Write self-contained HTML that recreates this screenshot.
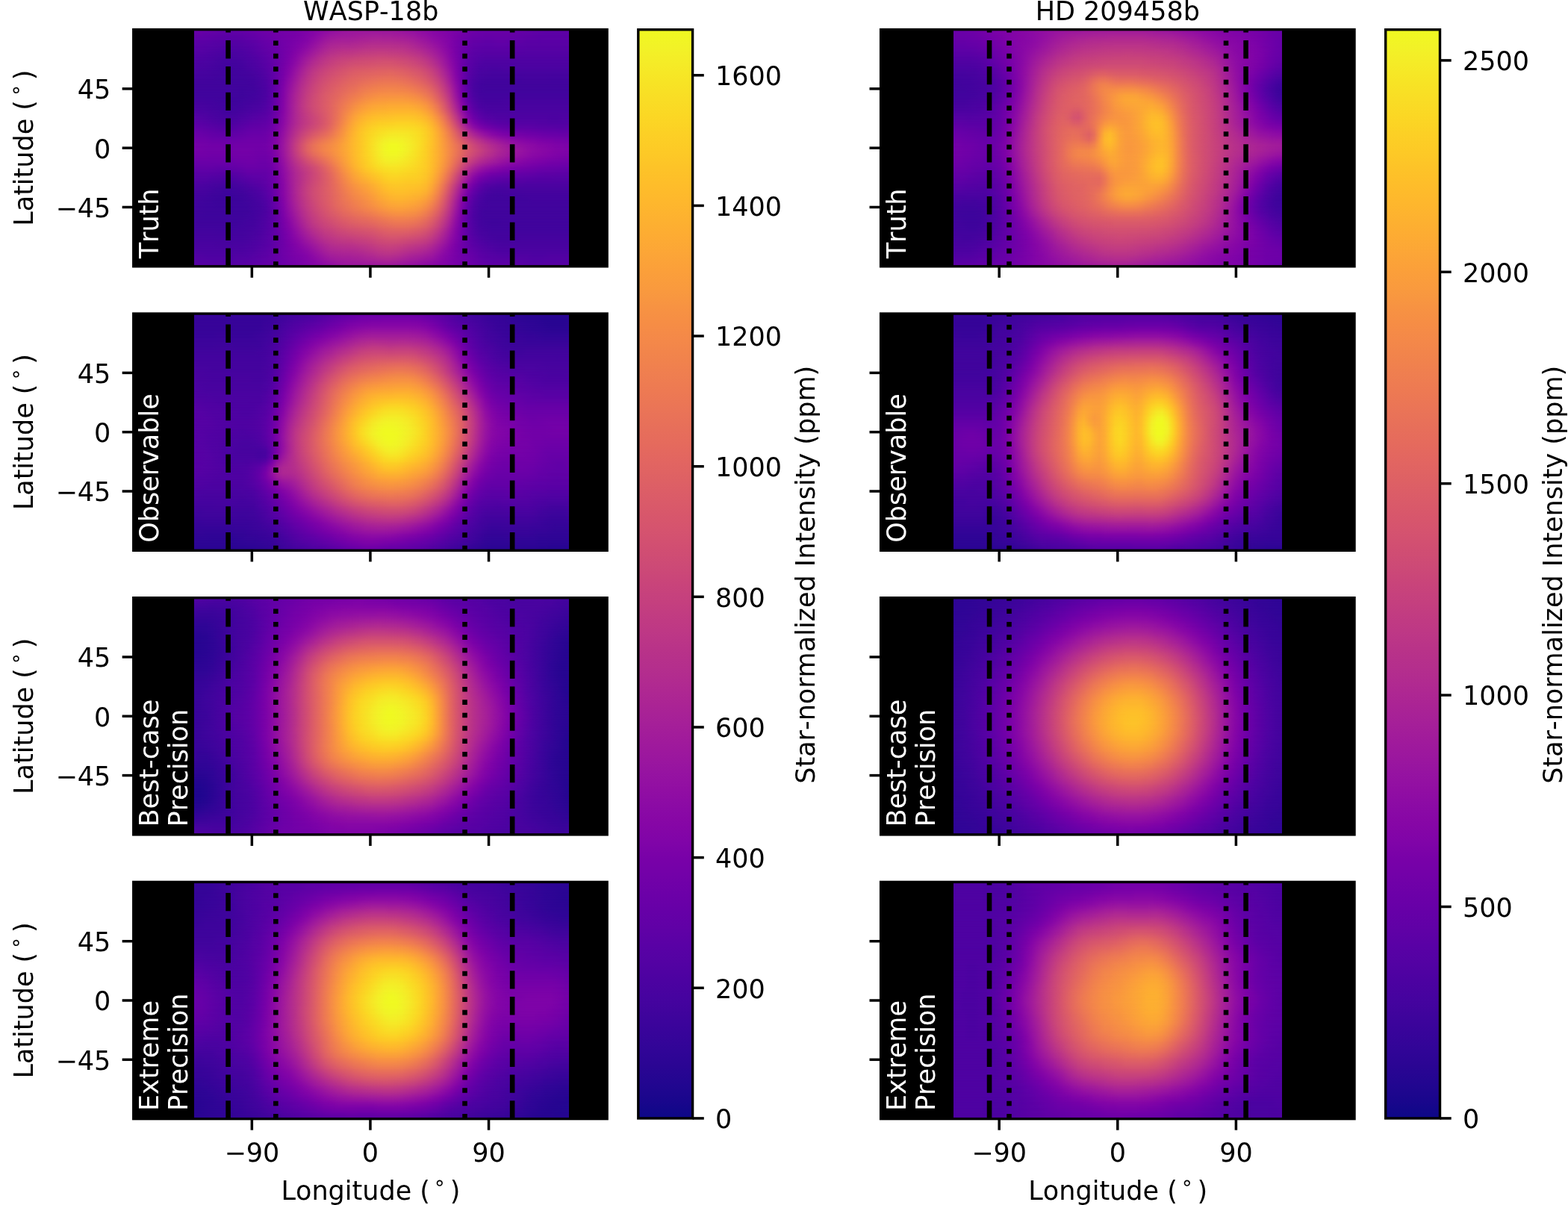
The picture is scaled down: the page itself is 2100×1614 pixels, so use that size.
<!DOCTYPE html><html><head><meta charset="utf-8"><title>Figure</title><style>html,body{margin:0;padding:0;background:#fff}#fig{position:relative;width:2100px;height:1614px;overflow:hidden;background:#fff}.ax{position:absolute;background:#000}.cb{position:absolute}.hm{position:absolute;overflow:hidden}.hm i{position:absolute;left:0;width:100%;height:14.753px}.hm i.s{-webkit-mask-image:linear-gradient(180deg,transparent,#000 50%);mask-image:linear-gradient(180deg,transparent,#000 50%)}svg{position:absolute;left:0;top:0}text{font-family:'DejaVu Sans', 'Liberation Sans', sans-serif;font-size:35px;font-kerning:none}</style></head><body><div id="fig"><div class="ax" style="left:178.75px;top:39.60px;width:634.39px;height:317.20px"></div><div class="ax" style="left:178.75px;top:420.10px;width:634.39px;height:317.20px"></div><div class="ax" style="left:178.75px;top:800.70px;width:634.39px;height:317.20px"></div><div class="ax" style="left:178.75px;top:1181.40px;width:634.39px;height:317.20px"></div><div class="ax" style="left:1179.60px;top:39.60px;width:634.39px;height:317.20px"></div><div class="ax" style="left:1179.60px;top:420.10px;width:634.39px;height:317.20px"></div><div class="ax" style="left:1179.60px;top:800.70px;width:634.39px;height:317.20px"></div><div class="ax" style="left:1179.60px;top:1181.40px;width:634.39px;height:317.20px"></div><div class="hm" style="left:259.90px;top:39.60px;width:502.20px;height:317.20px"><i class="s0" style="top:-7.38px;background:linear-gradient(90deg,#6a00a8,#6a00a8,#6900a8,#6600a7,#6400a7,#6300a7,#6100a7,#6300a7,#6400a7,#6700a8,#6a00a8,#6e00a8,#7100a8,#7201a8,#7401a8,#7401a8,#7501a8,#7701a8,#7b02a8,#7e03a8,#8305a7,#8707a6,#8b0aa5,#8f0da4,#9410a2,#9814a0,#9a169f,#9a169f,#9a169f,#9a169f,#9a169f,#9a169f,#9a169f,#9a169f,#99159f,#9613a1,#9410a2,#910ea3,#8e0ca4,#8b0aa5,#8707a6,#8405a7,#8104a7,#7d03a8,#7a02a8,#7701a8,#7201a8,#6f00a8,#6c00a8,#6a00a8,#6a00a8,#6a00a8,#6a00a8,#6a00a8,#6700a8,#6600a7,#6300a7,#6001a6,#6001a6,#5e01a6,#5e01a6,#5e01a6,#5e01a6,#5e01a6)"></i><i class="s" style="top:0.00px;background:linear-gradient(90deg,#6300a7,#6300a7,#6100a7,#6001a6,#5e01a6,#5c01a6,#5c01a6,#5c01a6,#5e01a6,#6100a7,#6400a7,#6700a8,#6a00a8,#6e00a8,#7100a8,#7201a8,#7501a8,#7701a8,#7b02a8,#8004a8,#8606a6,#8d0ba5,#9410a2,#99159f,#9c179e,#9d189d,#9e199d,#a01a9c,#a11b9b,#a21d9a,#a31e9a,#a31e9a,#a21d9a,#a21d9a,#a11b9b,#a01a9c,#9d189d,#9a169f,#9511a1,#910ea3,#8b0aa5,#8707a6,#8305a7,#7e03a8,#7801a8,#7201a8,#6e00a8,#6900a8,#6700a8,#6600a7,#6600a7,#6600a7,#6600a7,#6600a7,#6400a7,#6100a7,#6001a6,#5e01a6,#5c01a6,#5c01a6,#5c01a6,#5c01a6,#5c01a6,#5c01a6)"></i><i class="s" style="top:7.38px;background:linear-gradient(90deg,#5e01a6,#5c01a6,#5c01a6,#5901a5,#5801a4,#5801a4,#5601a4,#5601a4,#5801a4,#5b01a5,#5e01a6,#6300a7,#6700a8,#6a00a8,#6e00a8,#7201a8,#7501a8,#7a02a8,#7e03a8,#8405a7,#8d0ba5,#9511a1,#9d189d,#a21d9a,#a51f99,#a62098,#a62098,#a72197,#aa2395,#ab2494,#ac2694,#ad2793,#ac2694,#ac2694,#ab2494,#aa2395,#a72197,#a31e9a,#9e199d,#99159f,#920fa3,#8d0ba5,#8707a6,#8004a8,#7701a8,#6f00a8,#6900a8,#6400a7,#6300a7,#6100a7,#6100a7,#6300a7,#6300a7,#6100a7,#6001a6,#5e01a6,#5b01a5,#5b01a5,#5901a5,#5b01a5,#5b01a5,#5b01a5,#5b01a5,#5b01a5)"></i><i class="s" style="top:14.75px;background:linear-gradient(90deg,#5901a5,#5801a4,#5601a4,#5502a4,#5302a3,#5102a3,#5102a3,#5102a3,#5302a3,#5601a4,#5901a5,#5e01a6,#6300a7,#6700a8,#6c00a8,#7100a8,#7701a8,#7d03a8,#8405a7,#8b0aa5,#9511a1,#9e199d,#a62098,#ac2694,#ae2892,#b02991,#b02991,#b22b8f,#b32c8e,#b52f8c,#b6308b,#b6308b,#b6308b,#b6308b,#b52f8c,#b42e8d,#b22b8f,#ad2793,#a82296,#a21d9a,#9c179e,#9410a2,#8b0aa5,#8104a7,#7701a8,#6e00a8,#6600a7,#6001a6,#5e01a6,#5c01a6,#5c01a6,#5e01a6,#5e01a6,#5c01a6,#5b01a5,#5901a5,#5801a4,#5801a4,#5801a4,#5801a4,#5801a4,#5801a4,#5801a4,#5801a4)"></i><i class="s" style="top:22.13px;background:linear-gradient(90deg,#5502a4,#5502a4,#5302a3,#5002a2,#4e02a2,#4c02a1,#4b03a1,#4c02a1,#4e02a2,#5102a3,#5601a4,#5b01a5,#6001a6,#6400a7,#6a00a8,#7100a8,#7801a8,#8104a7,#8a09a5,#9410a2,#9e199d,#a72197,#ae2892,#b42e8d,#b7318a,#ba3388,#bb3488,#bc3587,#be3885,#bf3984,#c03a83,#c13b82,#c13b82,#c03a83,#bf3984,#be3885,#bb3488,#b7318a,#b32c8e,#ac2694,#a51f99,#9c179e,#910ea3,#8606a6,#7801a8,#6c00a8,#6300a7,#5c01a6,#5901a5,#5801a4,#5801a4,#5801a4,#5801a4,#5801a4,#5801a4,#5601a4,#5502a4,#5502a4,#5502a4,#5502a4,#5502a4,#5502a4,#5502a4,#5502a4)"></i><i class="s" style="top:29.51px;background:linear-gradient(90deg,#5102a3,#5002a2,#4e02a2,#4c02a1,#4903a0,#48039f,#48039f,#48039f,#4b03a1,#4e02a2,#5102a3,#5601a4,#5c01a6,#6300a7,#6900a8,#7100a8,#7b02a8,#8606a6,#920fa3,#9d189d,#a72197,#b12a90,#b7318a,#bd3786,#c03a83,#c33d80,#c43e7f,#c6417d,#c8437b,#c9447a,#ca457a,#cb4679,#cb4679,#ca457a,#c9447a,#c7427c,#c5407e,#c13b82,#bd3786,#b6308b,#ae2892,#a31e9a,#9814a0,#8808a6,#7a02a8,#6c00a8,#6001a6,#5901a5,#5502a4,#5302a3,#5302a3,#5302a3,#5302a3,#5302a3,#5302a3,#5102a3,#5102a3,#5102a3,#5102a3,#5102a3,#5102a3,#5102a3,#5102a3,#5102a3)"></i><i class="s" style="top:36.88px;background:linear-gradient(90deg,#4e02a2,#4c02a1,#4b03a1,#4903a0,#46039f,#44039e,#44039e,#44039e,#46039f,#4b03a1,#4e02a2,#5302a3,#5901a5,#6001a6,#6900a8,#7201a8,#7e03a8,#8b0aa5,#99159f,#a62098,#b12a90,#b83289,#bf3984,#c43e7f,#c8437b,#cb4679,#cd4a76,#cf4c74,#d04d73,#d14e72,#d24f71,#d35171,#d45270,#d45270,#d24f71,#d04d73,#cd4a76,#cb4679,#c6417d,#c03a83,#b7318a,#ac2694,#9e199d,#8e0ca4,#7d03a8,#6c00a8,#5e01a6,#5601a4,#5102a3,#4e02a2,#4e02a2,#4e02a2,#4e02a2,#4e02a2,#4e02a2,#4e02a2,#4e02a2,#4e02a2,#4e02a2,#4e02a2,#4e02a2,#4e02a2,#4e02a2,#4e02a2)"></i><i class="s" style="top:44.26px;background:linear-gradient(90deg,#4b03a1,#4903a0,#48039f,#46039f,#44039e,#43039e,#41049d,#43039e,#44039e,#48039f,#4b03a1,#5002a2,#5601a4,#5e01a6,#6900a8,#7501a8,#8305a7,#920fa3,#a11b9b,#ae2892,#b83289,#c03a83,#c6417d,#cb4679,#ce4b75,#d24f71,#d5536f,#d7566c,#d8576b,#d9586a,#da5a6a,#db5c68,#db5c68,#db5c68,#da5b69,#d9586a,#d6556d,#d35171,#cf4c74,#c9447a,#c13b82,#b52f8c,#a62098,#9410a2,#8004a8,#6c00a8,#5c01a6,#5302a3,#4c02a1,#4b03a1,#4903a0,#4903a0,#4b03a1,#4b03a1,#4b03a1,#4b03a1,#4b03a1,#4b03a1,#4b03a1,#4b03a1,#4b03a1,#4b03a1,#4b03a1,#4b03a1)"></i><i class="s" style="top:51.64px;background:linear-gradient(90deg,#48039f,#46039f,#46039f,#44039e,#43039e,#41049d,#41049d,#41049d,#43039e,#44039e,#48039f,#4c02a1,#5302a3,#5c01a6,#6900a8,#7701a8,#8707a6,#9814a0,#a72197,#b42e8d,#bf3984,#c6417d,#cc4778,#d04d73,#d45270,#d7566c,#da5b69,#dd5e66,#de6164,#df6263,#e16462,#e26561,#e26660,#e3685f,#e26561,#e06363,#de5f65,#da5b69,#d7566c,#d14e72,#c9447a,#bd3786,#ad2793,#9a169f,#8405a7,#6e00a8,#5b01a5,#5002a2,#4903a0,#48039f,#46039f,#46039f,#46039f,#46039f,#46039f,#46039f,#46039f,#46039f,#46039f,#46039f,#46039f,#46039f,#46039f,#46039f)"></i><i class="s" style="top:59.01px;background:linear-gradient(90deg,#44039e,#44039e,#43039e,#43039e,#41049d,#41049d,#41049d,#41049d,#41049d,#43039e,#44039e,#4903a0,#5002a2,#5b01a5,#6900a8,#7a02a8,#8d0ba5,#9d189d,#ad2793,#ba3388,#c33d80,#cb4679,#d04d73,#d5536f,#d9586a,#dc5d67,#df6263,#e26561,#e3685f,#e56b5d,#e76e5b,#e87059,#e97158,#e97158,#e87059,#e76e5b,#e56a5d,#e26561,#de5f65,#d8576b,#d04d73,#c5407e,#b52f8c,#a11b9b,#8808a6,#6f00a8,#5901a5,#4c02a1,#46039f,#44039e,#43039e,#43039e,#43039e,#43039e,#43039e,#43039e,#44039e,#44039e,#44039e,#44039e,#43039e,#43039e,#43039e,#44039e)"></i><i class="s" style="top:66.39px;background:linear-gradient(90deg,#41049d,#41049d,#41049d,#41049d,#41049d,#41049d,#41049d,#41049d,#41049d,#41049d,#43039e,#48039f,#4e02a2,#5901a5,#6a00a8,#7d03a8,#910ea3,#a21d9a,#b22b8f,#bd3786,#c7427c,#ce4b75,#d45270,#d9586a,#dc5d67,#e06363,#e3685f,#e56b5d,#e87059,#ea7457,#ec7754,#ed7a52,#ee7b51,#ee7b51,#ee7b51,#ed7953,#eb7556,#e87059,#e56a5d,#df6263,#d8576b,#cc4977,#bd3786,#a82296,#8e0ca4,#7201a8,#5901a5,#4903a0,#43039e,#41049d,#41049d,#41049d,#41049d,#41049d,#41049d,#41049d,#41049d,#41049d,#41049d,#41049d,#41049d,#41049d,#41049d,#41049d)"></i><i class="s" style="top:73.77px;background:linear-gradient(90deg,#41049d,#41049d,#41049d,#41049d,#41049d,#41049d,#41049d,#41049d,#3f049c,#41049d,#41049d,#46039f,#4c02a1,#5901a5,#6a00a8,#8004a8,#9511a1,#a62098,#b52f8c,#c13b82,#ca457a,#d14e72,#d7566c,#db5c68,#e06363,#e3685f,#e76e5b,#e97257,#ed7953,#ef7e50,#f1814d,#f2844b,#f3854b,#f3874a,#f3854b,#f2844b,#f1814d,#ef7c51,#eb7655,#e76e5b,#df6263,#d45270,#c43e7f,#b02991,#9410a2,#7501a8,#5b01a5,#4903a0,#43039e,#41049d,#41049d,#41049d,#41049d,#41049d,#41049d,#41049d,#41049d,#41049d,#41049d,#41049d,#41049d,#41049d,#41049d,#41049d)"></i><i class="s" style="top:81.14px;background:linear-gradient(90deg,#41049d,#41049d,#41049d,#41049d,#41049d,#41049d,#41049d,#41049d,#3f049c,#41049d,#43039e,#46039f,#4c02a1,#5901a5,#6c00a8,#8104a7,#9814a0,#aa2395,#b7318a,#c43e7f,#cc4977,#d45270,#da5a6a,#de6164,#e26660,#e76e5b,#eb7556,#ee7b51,#f1814d,#f48849,#f58c46,#f79044,#f79143,#f79143,#f79143,#f79143,#f68f44,#f58b47,#f2844b,#ed7a52,#e76e5b,#db5c68,#cc4778,#b6308b,#99159f,#7a02a8,#5e01a6,#4c02a1,#44039e,#43039e,#43039e,#43039e,#43039e,#43039e,#43039e,#43039e,#43039e,#43039e,#43039e,#43039e,#43039e,#43039e,#43039e,#43039e)"></i><i class="s" style="top:88.52px;background:linear-gradient(90deg,#44039e,#44039e,#43039e,#43039e,#41049d,#41049d,#3f049c,#3f049c,#41049d,#43039e,#44039e,#48039f,#4e02a2,#5b01a5,#6e00a8,#8305a7,#99159f,#ab2494,#ba3388,#c5407e,#ce4b75,#d5536f,#da5b69,#e06363,#e56b5d,#ea7457,#ef7c51,#f2844b,#f58c46,#f79342,#f9983e,#fa9b3d,#fa9c3c,#fa9e3b,#fa9e3b,#fa9e3b,#fa9c3c,#f9983e,#f79342,#f48948,#ed7a52,#e26660,#d35171,#bd3786,#a11b9b,#8104a7,#6300a7,#5102a3,#48039f,#44039e,#44039e,#44039e,#46039f,#46039f,#46039f,#46039f,#46039f,#46039f,#46039f,#46039f,#46039f,#46039f,#46039f,#46039f)"></i><i class="s" style="top:95.90px;background:linear-gradient(90deg,#48039f,#48039f,#46039f,#44039e,#43039e,#41049d,#41049d,#41049d,#43039e,#46039f,#4903a0,#4b03a1,#5102a3,#5c01a6,#6f00a8,#8405a7,#9a169f,#ac2694,#bb3488,#c6417d,#ce4b75,#d5536f,#db5c68,#e16462,#e76f5a,#ed7953,#f2844b,#f68f44,#f9983e,#fb9f3a,#fca537,#fca835,#fca934,#fdab33,#fdab33,#fdab33,#fdab33,#fca835,#fba238,#f9983e,#f48849,#ea7457,#da5b69,#c5407e,#aa2395,#8a09a5,#6c00a8,#5801a4,#4c02a1,#4903a0,#48039f,#48039f,#48039f,#4903a0,#4903a0,#4903a0,#4903a0,#4903a0,#4903a0,#4903a0,#4903a0,#4903a0,#4903a0,#4903a0)"></i><i class="s" style="top:103.27px;background:linear-gradient(90deg,#4e02a2,#4c02a1,#4b03a1,#48039f,#46039f,#43039e,#43039e,#44039e,#48039f,#4b03a1,#4e02a2,#5102a3,#5601a4,#6001a6,#7100a8,#8606a6,#9a169f,#ac2694,#ba3388,#c43e7f,#cc4977,#d45270,#da5a6a,#e16462,#e87059,#f07f4f,#f58c46,#f99a3e,#fca338,#fdab33,#fdb130,#fdb42f,#fdb52e,#feb72d,#feb82c,#feb82c,#feb82c,#feb72d,#fdb130,#fca636,#f9973f,#f0804e,#e26660,#ce4b75,#b42e8d,#9511a1,#7701a8,#6100a7,#5502a4,#4e02a2,#4c02a1,#4b03a1,#4b03a1,#4b03a1,#4b03a1,#4b03a1,#4b03a1,#4b03a1,#4b03a1,#4b03a1,#4b03a1,#4b03a1,#4b03a1,#4b03a1)"></i><i class="s" style="top:110.65px;background:linear-gradient(90deg,#5502a4,#5302a3,#5002a2,#4c02a1,#4903a0,#48039f,#48039f,#4903a0,#4e02a2,#5102a3,#5502a4,#5801a4,#5b01a5,#6400a7,#7401a8,#8808a6,#9c179e,#ac2694,#b83289,#c23c81,#ca457a,#d14e72,#d9586a,#e16462,#e97257,#f1834c,#f89441,#fca338,#fdaf31,#feb72d,#febd2a,#fec029,#fdc229,#fdc328,#fdc527,#fdc527,#fdc527,#fdc328,#febe2a,#fdb52e,#fca537,#f68f44,#eb7556,#d8576b,#c03a83,#a21d9a,#8405a7,#6c00a8,#5e01a6,#5601a4,#5302a3,#5002a2,#5002a2,#4e02a2,#4e02a2,#4e02a2,#4e02a2,#4e02a2,#4e02a2,#4e02a2,#4c02a1,#4c02a1,#4e02a2,#4e02a2)"></i><i class="s" style="top:118.03px;background:linear-gradient(90deg,#5b01a5,#5901a5,#5601a4,#5302a3,#5002a2,#4e02a2,#4e02a2,#5002a2,#5502a4,#5901a5,#5c01a6,#5e01a6,#6100a7,#6900a8,#7801a8,#8b0aa5,#9e199d,#ad2793,#ba3388,#c23c81,#ca457a,#d14e72,#d9586a,#e26561,#eb7655,#f48849,#fa9b3d,#fdac33,#feb82c,#fdc229,#fdc827,#fccd25,#fcce25,#fcd025,#fcd225,#fcd225,#fcd225,#fcd025,#fdcb26,#fdc229,#fdb22f,#fa9c3c,#f1814d,#e26561,#cc4778,#b12a90,#9410a2,#7d03a8,#6e00a8,#6400a7,#5e01a6,#5901a5,#5801a4,#5601a4,#5502a4,#5502a4,#5502a4,#5502a4,#5302a3,#5302a3,#5102a3,#5102a3,#5102a3,#5302a3)"></i><i class="s" style="top:125.40px;background:linear-gradient(90deg,#6300a7,#6100a7,#5e01a6,#5b01a5,#5801a4,#5601a4,#5601a4,#5801a4,#5c01a6,#6100a7,#6300a7,#6400a7,#6600a7,#6e00a8,#7d03a8,#8f0da4,#a21d9a,#b22b8f,#bd3786,#c7427c,#ce4b75,#d5546e,#dd5e66,#e56b5d,#ef7c51,#f68f44,#fba238,#fdb22f,#fec029,#fdca26,#fcd225,#fbd724,#fada24,#f9dc24,#f9dd25,#f9dd25,#f9dc24,#fada24,#fbd524,#fdcb26,#febb2b,#fca636,#f58c46,#e97158,#d6556d,#bf3984,#a72197,#920fa3,#8305a7,#7801a8,#7100a8,#6a00a8,#6600a7,#6300a7,#6100a7,#6001a6,#6001a6,#5e01a6,#5c01a6,#5b01a5,#5b01a5,#5901a5,#5901a5,#5b01a5)"></i><i class="s" style="top:132.78px;background:linear-gradient(90deg,#6a00a8,#6900a8,#6600a7,#6300a7,#6100a7,#6001a6,#6001a6,#6100a7,#6400a7,#6700a8,#6900a8,#6900a8,#6c00a8,#7401a8,#8104a7,#9410a2,#a72197,#b7318a,#c5407e,#cf4c74,#d8576b,#de6164,#e56a5d,#eb7655,#f3854b,#f89540,#fca835,#feb72d,#fdc527,#fcd025,#fad824,#f8df25,#f7e425,#f6e826,#f5e926,#f6e826,#f6e626,#f8e125,#fada24,#fcce25,#fec029,#fdab33,#f89441,#ee7b51,#df6263,#cd4a76,#bb3488,#ab2494,#9d189d,#920fa3,#8808a6,#8104a7,#7b02a8,#7701a8,#7401a8,#7201a8,#6f00a8,#6e00a8,#6c00a8,#6900a8,#6700a8,#6700a8,#6600a7,#6600a7)"></i><i class="s" style="top:140.16px;background:linear-gradient(90deg,#7100a8,#6f00a8,#6e00a8,#6a00a8,#6a00a8,#6900a8,#6900a8,#6a00a8,#6c00a8,#6e00a8,#6e00a8,#6e00a8,#6f00a8,#7701a8,#8606a6,#9814a0,#ac2694,#be3885,#cc4977,#d9586a,#e26561,#e87059,#ed7953,#f1834c,#f68f44,#fa9c3c,#fdac33,#feba2c,#fdc627,#fcd225,#f9dd25,#f6e626,#f3ee27,#f2f227,#f2f227,#f3f027,#f5eb27,#f7e425,#f9dc24,#fcd025,#fec029,#fdae32,#f9983e,#f1834c,#e66c5c,#d9586a,#cc4778,#bf3984,#b42e8d,#aa2395,#a11b9b,#99159f,#920fa3,#8d0ba5,#8808a6,#8405a7,#8104a7,#7e03a8,#7b02a8,#7801a8,#7701a8,#7401a8,#7401a8,#7201a8)"></i><i class="s" style="top:147.53px;background:linear-gradient(90deg,#7501a8,#7401a8,#7201a8,#7100a8,#7100a8,#6f00a8,#6f00a8,#7100a8,#7100a8,#7100a8,#7100a8,#7100a8,#7201a8,#7a02a8,#8707a6,#9a169f,#ae2892,#c23c81,#d24f71,#df6263,#e87059,#ee7b51,#f2844b,#f58c46,#f89540,#fba238,#fdae32,#febb2b,#fdc627,#fbd324,#f8df25,#f5eb27,#f1f426,#f0f921,#f0f921,#f1f525,#f3ee27,#f6e626,#f9dc24,#fcce25,#fec029,#fdae32,#f99a3e,#f3874a,#eb7556,#e16462,#d6556d,#cc4778,#c23c81,#ba3388,#b12a90,#aa2395,#a21d9a,#9c179e,#9613a1,#910ea3,#8d0ba5,#8a09a5,#8606a6,#8405a7,#8104a7,#7e03a8,#7d03a8,#7b02a8)"></i><i class="s" style="top:154.91px;background:linear-gradient(90deg,#7501a8,#7401a8,#7201a8,#7201a8,#7201a8,#7201a8,#7201a8,#7201a8,#7401a8,#7401a8,#7201a8,#7100a8,#7201a8,#7801a8,#8707a6,#9a169f,#ae2892,#c23c81,#d24f71,#df6263,#e87059,#ee7b51,#f3854b,#f68d45,#f9973f,#fba238,#fdae32,#febb2b,#fdc627,#fbd324,#f8df25,#f5eb27,#f1f525,#f0f921,#f0f921,#f1f525,#f3ee27,#f7e425,#fada24,#fcce25,#febe2a,#fdae32,#fa9b3d,#f48849,#ec7754,#e26660,#d9586a,#cf4c74,#c7427c,#be3885,#b6308b,#ae2892,#a72197,#a11b9b,#9c179e,#9613a1,#910ea3,#8d0ba5,#8a09a5,#8707a6,#8405a7,#8104a7,#8004a8,#7e03a8)"></i><i class="s" style="top:162.29px;background:linear-gradient(90deg,#7100a8,#7100a8,#7100a8,#6f00a8,#6f00a8,#6f00a8,#7100a8,#7100a8,#7201a8,#7201a8,#7100a8,#6f00a8,#6f00a8,#7501a8,#8405a7,#9814a0,#ac2694,#be3885,#cc4977,#d9586a,#e26660,#e97158,#ef7c51,#f3874a,#f79342,#fb9f3a,#fdac33,#feba2c,#fdc627,#fcd225,#f9dd25,#f5e926,#f2f227,#f1f525,#f1f525,#f3f027,#f5e926,#f7e225,#fad824,#fccd25,#febe2a,#fdae32,#fa9b3d,#f3874a,#ea7457,#df6263,#d45270,#ca457a,#c03a83,#b7318a,#b12a90,#a82296,#a21d9a,#9c179e,#9613a1,#910ea3,#8d0ba5,#8808a6,#8606a6,#8305a7,#8004a8,#7d03a8,#7b02a8,#7a02a8)"></i><i class="s" style="top:169.66px;background:linear-gradient(90deg,#6a00a8,#6a00a8,#6a00a8,#6a00a8,#6a00a8,#6a00a8,#6a00a8,#6c00a8,#6e00a8,#6f00a8,#6f00a8,#6c00a8,#6c00a8,#7201a8,#8004a8,#9410a2,#a72197,#b7318a,#c43e7f,#cf4c74,#d8576b,#e06363,#e76f5a,#ef7c51,#f58b47,#f99a3e,#fca934,#feb72d,#fdc328,#fcce25,#fada24,#f7e425,#f5eb27,#f3ee27,#f4ed27,#f5e926,#f7e425,#f9dd25,#fbd524,#fdcb26,#febd2a,#fdac33,#f9983e,#f1834c,#e66c5c,#d8576b,#ca457a,#bd3786,#b22b8f,#aa2395,#a21d9a,#9c179e,#9511a1,#8f0da4,#8a09a5,#8606a6,#8104a7,#7e03a8,#7b02a8,#7801a8,#7501a8,#7401a8,#7201a8,#7100a8)"></i><i class="s" style="top:177.04px;background:linear-gradient(90deg,#6300a7,#6400a7,#6400a7,#6300a7,#6100a7,#6100a7,#6300a7,#6400a7,#6700a8,#6a00a8,#6a00a8,#6900a8,#6900a8,#6e00a8,#7d03a8,#8f0da4,#a21d9a,#b12a90,#bd3786,#c6417d,#ce4b75,#d7566c,#e06363,#e97158,#f1814d,#f79342,#fba238,#fdb22f,#febe2a,#fdca26,#fbd324,#f9dc24,#f8e125,#f7e425,#f7e425,#f8e125,#f9dd25,#fad824,#fcd225,#fdca26,#febb2b,#fca934,#f79342,#ee7b51,#df6263,#cd4a76,#bb3488,#ab2494,#9e199d,#9511a1,#8e0ca4,#8808a6,#8305a7,#7e03a8,#7a02a8,#7701a8,#7401a8,#7100a8,#6e00a8,#6c00a8,#6a00a8,#6900a8,#6700a8,#6700a8)"></i><i class="s" style="top:184.42px;background:linear-gradient(90deg,#5b01a5,#5c01a6,#5c01a6,#5b01a5,#5901a5,#5801a4,#5801a4,#5b01a5,#5e01a6,#6300a7,#6400a7,#6300a7,#6400a7,#6a00a8,#7a02a8,#8d0ba5,#9e199d,#ad2793,#b83289,#c23c81,#cb4679,#d35171,#dc5d67,#e56a5d,#ed7a52,#f58b47,#fa9b3d,#fca934,#fdb52e,#fec029,#fdc827,#fcd025,#fbd724,#fada24,#f9dc24,#fad824,#fbd524,#fbd324,#fcce25,#fdc627,#feb82c,#fca338,#f58b47,#e87059,#d6556d,#c13b82,#ab2494,#9814a0,#8a09a5,#8004a8,#7801a8,#7401a8,#6f00a8,#6e00a8,#6a00a8,#6700a8,#6600a7,#6400a7,#6100a7,#6001a6,#6001a6,#5e01a6,#5e01a6,#5c01a6)"></i><i class="s" style="top:191.79px;background:linear-gradient(90deg,#5502a4,#5502a4,#5502a4,#5102a3,#5002a2,#4e02a2,#4e02a2,#5002a2,#5502a4,#5901a5,#5c01a6,#5e01a6,#6100a7,#6900a8,#7801a8,#8a09a5,#9d189d,#ac2694,#b7318a,#c23c81,#cb4679,#d24f71,#da5b69,#e26660,#eb7556,#f2844b,#f79342,#fba139,#fdab33,#fdb42f,#febd2a,#fdc527,#fccd25,#fcd225,#fcd225,#fcd025,#fcce25,#fccd25,#fdca26,#fdc229,#fdb22f,#fa9c3c,#f1814d,#e26561,#cc4977,#b42e8d,#9c179e,#8606a6,#7501a8,#6c00a8,#6400a7,#6100a7,#5e01a6,#5c01a6,#5b01a5,#5b01a5,#5901a5,#5801a4,#5601a4,#5601a4,#5601a4,#5502a4,#5502a4,#5502a4)"></i><i class="s" style="top:199.17px;background:linear-gradient(90deg,#4e02a2,#4e02a2,#4c02a1,#4903a0,#48039f,#46039f,#46039f,#48039f,#4b03a1,#5002a2,#5502a4,#5801a4,#5e01a6,#6700a8,#7701a8,#8808a6,#9c179e,#ac2694,#b83289,#c43e7f,#cc4977,#d45270,#da5b69,#e26561,#e97158,#f07f4f,#f58c46,#f9973f,#fba139,#fca835,#fdb130,#feba2c,#fdc328,#fdc827,#fdca26,#fdc827,#fdc627,#fdc627,#fdc328,#febb2b,#fdab33,#f79342,#eb7655,#d9586a,#c23c81,#a72197,#8b0aa5,#7501a8,#6400a7,#5901a5,#5502a4,#5102a3,#5002a2,#5002a2,#5002a2,#5002a2,#4e02a2,#4e02a2,#4e02a2,#4e02a2,#4e02a2,#4e02a2,#4e02a2,#4e02a2)"></i><i class="s" style="top:206.55px;background:linear-gradient(90deg,#48039f,#48039f,#46039f,#44039e,#41049d,#3f049c,#3f049c,#41049d,#44039e,#48039f,#4c02a1,#5102a3,#5901a5,#6400a7,#7501a8,#8707a6,#9a169f,#ac2694,#ba3388,#c5407e,#ce4b75,#d5536f,#db5c68,#e16462,#e76f5a,#ed7a52,#f3854b,#f68f44,#f9973f,#fb9f3a,#fca835,#fdb130,#feba2c,#fec029,#fdc229,#fdc229,#fec029,#febe2a,#febb2b,#fdb42f,#fba238,#f48948,#e66c5c,#d14e72,#b7318a,#9a169f,#7e03a8,#6700a8,#5801a4,#4e02a2,#48039f,#46039f,#46039f,#48039f,#48039f,#48039f,#48039f,#48039f,#48039f,#48039f,#48039f,#48039f,#48039f,#48039f)"></i><i class="s" style="top:213.92px;background:linear-gradient(90deg,#44039e,#44039e,#43039e,#3f049c,#3e049c,#3c049b,#3c049b,#3e049c,#3f049c,#43039e,#48039f,#4c02a1,#5502a4,#6100a7,#7201a8,#8606a6,#99159f,#ab2494,#ba3388,#c5407e,#ce4b75,#d5536f,#da5b69,#e06363,#e66c5c,#eb7655,#f0804e,#f48948,#f79044,#f9973f,#fb9f3a,#fca934,#fdb130,#feb72d,#feba2c,#feba2c,#feb82c,#fdb52e,#fdb22f,#fca934,#f9973f,#f07f4f,#e06363,#ca457a,#b02991,#910ea3,#7201a8,#5c01a6,#4e02a2,#46039f,#43039e,#41049d,#43039e,#43039e,#43039e,#43039e,#44039e,#44039e,#44039e,#44039e,#44039e,#44039e,#44039e,#44039e)"></i><i class="s" style="top:221.30px;background:linear-gradient(90deg,#43039e,#41049d,#3f049c,#3e049c,#3c049b,#3c049b,#3c049b,#3c049b,#3e049c,#41049d,#44039e,#4903a0,#5102a3,#5c01a6,#6f00a8,#8305a7,#9814a0,#aa2395,#b7318a,#c33d80,#cc4977,#d45270,#da5a6a,#df6263,#e56b5d,#ea7457,#ee7b51,#f1834c,#f48948,#f79044,#f9983e,#fba139,#fca835,#fdae32,#fdb130,#fdb130,#fdae32,#fdac33,#fca636,#fa9c3c,#f58c46,#eb7556,#da5a6a,#c43e7f,#a72197,#8707a6,#6a00a8,#5502a4,#4903a0,#43039e,#41049d,#41049d,#41049d,#41049d,#41049d,#41049d,#41049d,#43039e,#43039e,#43039e,#43039e,#43039e,#43039e,#43039e)"></i><i class="s" style="top:228.68px;background:linear-gradient(90deg,#41049d,#3f049c,#3e049c,#3e049c,#3c049b,#3c049b,#3c049b,#3e049c,#3e049c,#3f049c,#43039e,#46039f,#4e02a2,#5b01a5,#6c00a8,#8004a8,#9511a1,#a62098,#b52f8c,#c13b82,#ca457a,#d24f71,#d8576b,#de5f65,#e3685f,#e76f5a,#eb7655,#ef7c51,#f1834c,#f48948,#f79044,#f9973f,#fa9e3b,#fca338,#fca537,#fca537,#fca338,#fb9f3a,#f99a3e,#f68f44,#f07f4f,#e56a5d,#d45270,#bd3786,#a11b9b,#8004a8,#6400a7,#5002a2,#46039f,#43039e,#41049d,#41049d,#41049d,#41049d,#41049d,#41049d,#41049d,#41049d,#41049d,#41049d,#41049d,#41049d,#41049d,#41049d)"></i><i class="s" style="top:236.05px;background:linear-gradient(90deg,#3f049c,#3f049c,#3e049c,#3e049c,#3e049c,#3e049c,#3e049c,#3e049c,#3e049c,#3f049c,#43039e,#46039f,#4c02a1,#5801a4,#6900a8,#7d03a8,#910ea3,#a21d9a,#b12a90,#bd3786,#c7427c,#ce4b75,#d5536f,#da5b69,#df6263,#e4695e,#e76f5a,#eb7556,#ed7a52,#f07f4f,#f2844b,#f58b47,#f79044,#f89540,#f9983e,#f9983e,#f89540,#f79342,#f58c46,#f1814d,#e97257,#de5f65,#cc4977,#b6308b,#9a169f,#7b02a8,#6001a6,#4e02a2,#44039e,#41049d,#41049d,#41049d,#41049d,#41049d,#41049d,#41049d,#41049d,#41049d,#41049d,#41049d,#41049d,#41049d,#41049d,#41049d)"></i><i class="s" style="top:243.43px;background:linear-gradient(90deg,#3f049c,#3f049c,#3e049c,#3e049c,#3e049c,#3e049c,#3f049c,#3f049c,#3f049c,#41049d,#43039e,#48039f,#4e02a2,#5801a4,#6700a8,#7a02a8,#8d0ba5,#9d189d,#ad2793,#ba3388,#c33d80,#cb4679,#d14e72,#d6556d,#da5b69,#df6263,#e26660,#e56b5d,#e76f5a,#e97257,#ec7754,#ef7c51,#f1814d,#f3854b,#f48849,#f48849,#f3874a,#f2844b,#ef7e50,#ea7457,#e26660,#d6556d,#c5407e,#b02991,#9410a2,#7701a8,#5e01a6,#4c02a1,#44039e,#41049d,#41049d,#41049d,#41049d,#41049d,#41049d,#41049d,#41049d,#41049d,#41049d,#41049d,#41049d,#41049d,#41049d,#41049d)"></i><i class="s" style="top:250.81px;background:linear-gradient(90deg,#41049d,#3f049c,#3f049c,#3f049c,#3f049c,#3f049c,#3f049c,#3f049c,#41049d,#43039e,#44039e,#4903a0,#5002a2,#5901a5,#6600a7,#7701a8,#8707a6,#9814a0,#a72197,#b42e8d,#bf3984,#c6417d,#cc4778,#d04d73,#d5536f,#d9586a,#dc5d67,#de6164,#e16462,#e26660,#e56a5d,#e76f5a,#e97257,#eb7655,#ed7953,#ed7953,#ec7754,#eb7556,#e76f5a,#e26660,#da5a6a,#cd4a76,#bd3786,#a82296,#8e0ca4,#7401a8,#5c01a6,#4e02a2,#44039e,#41049d,#3f049c,#3f049c,#41049d,#41049d,#41049d,#41049d,#41049d,#41049d,#41049d,#41049d,#41049d,#41049d,#41049d,#41049d)"></i><i class="s" style="top:258.18px;background:linear-gradient(90deg,#41049d,#41049d,#41049d,#41049d,#41049d,#41049d,#41049d,#41049d,#43039e,#44039e,#46039f,#4b03a1,#5102a3,#5901a5,#6600a7,#7401a8,#8305a7,#920fa3,#a11b9b,#ae2892,#b83289,#c03a83,#c6417d,#ca457a,#ce4b75,#d24f71,#d5536f,#d6556d,#d9586a,#da5b69,#dc5d67,#df6263,#e26561,#e3685f,#e56a5d,#e56a5d,#e4695e,#e26561,#de6164,#da5a6a,#d14e72,#c5407e,#b42e8d,#a01a9c,#8808a6,#7201a8,#5e01a6,#5002a2,#46039f,#43039e,#41049d,#41049d,#41049d,#41049d,#41049d,#41049d,#41049d,#41049d,#41049d,#41049d,#41049d,#41049d,#41049d,#41049d)"></i><i class="s" style="top:265.56px;background:linear-gradient(90deg,#43039e,#44039e,#44039e,#44039e,#43039e,#43039e,#43039e,#44039e,#44039e,#46039f,#4903a0,#4c02a1,#5302a3,#5b01a5,#6400a7,#7100a8,#7e03a8,#8d0ba5,#9a169f,#a62098,#b12a90,#b83289,#bf3984,#c33d80,#c7427c,#ca457a,#cc4977,#ce4b75,#d04d73,#d24f71,#d45270,#d7566c,#da5a6a,#db5c68,#db5c68,#db5c68,#da5a6a,#d8576b,#d5536f,#cf4c74,#c7427c,#bb3488,#ab2494,#9814a0,#8405a7,#6f00a8,#5e01a6,#5102a3,#4903a0,#46039f,#43039e,#43039e,#43039e,#43039e,#43039e,#43039e,#43039e,#43039e,#43039e,#43039e,#43039e,#43039e,#43039e,#43039e)"></i><i class="s" style="top:272.94px;background:linear-gradient(90deg,#46039f,#46039f,#46039f,#46039f,#46039f,#46039f,#46039f,#46039f,#46039f,#48039f,#4b03a1,#5002a2,#5502a4,#5c01a6,#6400a7,#6f00a8,#7b02a8,#8707a6,#920fa3,#9e199d,#a72197,#b12a90,#b7318a,#bc3587,#bf3984,#c23c81,#c33d80,#c5407e,#c7427c,#c9447a,#cc4778,#cf4c74,#d14e72,#d35171,#d35171,#d14e72,#cf4c74,#cc4977,#ca457a,#c5407e,#bd3786,#b12a90,#a21d9a,#910ea3,#8004a8,#6f00a8,#6100a7,#5601a4,#4e02a2,#4903a0,#46039f,#44039e,#44039e,#44039e,#44039e,#46039f,#46039f,#46039f,#46039f,#46039f,#46039f,#46039f,#46039f,#46039f)"></i><i class="s" style="top:280.31px;background:linear-gradient(90deg,#48039f,#4903a0,#4903a0,#4903a0,#48039f,#48039f,#48039f,#4903a0,#4903a0,#4b03a1,#4e02a2,#5102a3,#5601a4,#5c01a6,#6600a7,#6e00a8,#7801a8,#8104a7,#8b0aa5,#9511a1,#9e199d,#a72197,#ae2892,#b42e8d,#b7318a,#b83289,#ba3388,#bc3587,#be3885,#c03a83,#c43e7f,#c7427c,#c9447a,#ca457a,#c9447a,#c7427c,#c43e7f,#c13b82,#be3885,#ba3388,#b22b8f,#a62098,#99159f,#8a09a5,#7b02a8,#6e00a8,#6300a7,#5901a5,#5302a3,#4e02a2,#4b03a1,#4903a0,#48039f,#48039f,#48039f,#48039f,#48039f,#48039f,#48039f,#48039f,#48039f,#48039f,#48039f,#48039f)"></i><i class="s" style="top:287.69px;background:linear-gradient(90deg,#4b03a1,#4b03a1,#4b03a1,#4b03a1,#4b03a1,#4b03a1,#4b03a1,#4b03a1,#4c02a1,#4e02a2,#5002a2,#5502a4,#5901a5,#5e01a6,#6600a7,#6e00a8,#7501a8,#7d03a8,#8405a7,#8b0aa5,#9511a1,#9e199d,#a62098,#ac2694,#ae2892,#b02991,#b12a90,#b22b8f,#b42e8d,#b7318a,#bb3488,#be3885,#c03a83,#c13b82,#bf3984,#bc3587,#b83289,#b52f8c,#b22b8f,#ad2793,#a62098,#9c179e,#8f0da4,#8405a7,#7801a8,#6e00a8,#6600a7,#5e01a6,#5801a4,#5302a3,#5002a2,#4c02a1,#4c02a1,#4c02a1,#4c02a1,#4b03a1,#4b03a1,#4b03a1,#4b03a1,#4b03a1,#4b03a1,#4b03a1,#4b03a1,#4b03a1)"></i><i class="s" style="top:295.07px;background:linear-gradient(90deg,#5002a2,#5002a2,#4e02a2,#4e02a2,#4e02a2,#4e02a2,#4e02a2,#5002a2,#5002a2,#5102a3,#5502a4,#5801a4,#5b01a5,#6100a7,#6600a7,#6e00a8,#7401a8,#7a02a8,#7e03a8,#8405a7,#8d0ba5,#9511a1,#9d189d,#a31e9a,#a62098,#a72197,#a72197,#aa2395,#ab2494,#ae2892,#b12a90,#b42e8d,#b6308b,#b6308b,#b42e8d,#b12a90,#ac2694,#a82296,#a62098,#a11b9b,#9c179e,#920fa3,#8808a6,#8004a8,#7701a8,#6f00a8,#6900a8,#6300a7,#5c01a6,#5801a4,#5502a4,#5302a3,#5102a3,#5102a3,#5002a2,#5002a2,#5002a2,#4e02a2,#4e02a2,#4e02a2,#5002a2,#5002a2,#5002a2,#5002a2)"></i><i class="s" style="top:302.44px;background:linear-gradient(90deg,#5302a3,#5302a3,#5302a3,#5102a3,#5102a3,#5102a3,#5102a3,#5302a3,#5502a4,#5601a4,#5901a5,#5c01a6,#6001a6,#6300a7,#6700a8,#6c00a8,#7201a8,#7701a8,#7b02a8,#8004a8,#8606a6,#8d0ba5,#9410a2,#99159f,#9d189d,#9e199d,#a01a9c,#a11b9b,#a21d9a,#a51f99,#a62098,#a82296,#aa2395,#aa2395,#a72197,#a31e9a,#a01a9c,#9d189d,#99159f,#9511a1,#910ea3,#8a09a5,#8405a7,#7d03a8,#7701a8,#7100a8,#6c00a8,#6600a7,#6001a6,#5c01a6,#5901a5,#5801a4,#5801a4,#5801a4,#5601a4,#5502a4,#5302a3,#5102a3,#5102a3,#5302a3,#5302a3,#5302a3,#5302a3,#5302a3)"></i><i class="s" style="top:309.82px;background:linear-gradient(90deg,#5601a4,#5601a4,#5601a4,#5601a4,#5601a4,#5502a4,#5601a4,#5801a4,#5901a5,#5c01a6,#5e01a6,#6100a7,#6300a7,#6600a7,#6900a8,#6c00a8,#7100a8,#7501a8,#7a02a8,#7e03a8,#8305a7,#8707a6,#8b0aa5,#8f0da4,#9410a2,#9814a0,#9a169f,#9a169f,#9a169f,#9a169f,#9a169f,#9a169f,#9a169f,#9a169f,#99159f,#9613a1,#9410a2,#910ea3,#8e0ca4,#8a09a5,#8707a6,#8405a7,#8104a7,#7d03a8,#7801a8,#7401a8,#6f00a8,#6900a8,#6400a7,#6001a6,#5e01a6,#5e01a6,#5e01a6,#5e01a6,#5c01a6,#5901a5,#5601a4,#5502a4,#5502a4,#5601a4,#5601a4,#5801a4,#5801a4,#5601a4)"></i></div><div class="hm" style="left:259.90px;top:420.10px;width:502.20px;height:317.20px"><i class="s0" style="top:-7.38px;background:linear-gradient(90deg,#38049a,#38049a,#38049a,#38049a,#38049a,#38049a,#38049a,#38049a,#38049a,#38049a,#38049a,#38049a,#38049a,#38049a,#3a049a,#3e049c,#41049d,#43039e,#46039f,#48039f,#4b03a1,#4e02a2,#5102a3,#5601a4,#5901a5,#5e01a6,#6100a7,#6400a7,#6700a8,#6900a8,#6a00a8,#6a00a8,#6a00a8,#6a00a8,#6a00a8,#6a00a8,#6a00a8,#6900a8,#6600a7,#6400a7,#6100a7,#5e01a6,#5b01a5,#5502a4,#5002a2,#48039f,#43039e,#3e049c,#3c049b,#3a049a,#370499,#350498,#310597,#2f0596,#2e0595,#2c0594,#2a0593,#2a0593,#2a0593,#2a0593,#2a0593,#2a0593,#2a0593,#2a0593)"></i><i class="s" style="top:0.00px;background:linear-gradient(90deg,#370499,#370499,#370499,#370499,#370499,#370499,#370499,#370499,#370499,#370499,#370499,#370499,#38049a,#3a049a,#3e049c,#41049d,#46039f,#4903a0,#4c02a1,#4e02a2,#5102a3,#5601a4,#5b01a5,#6001a6,#6400a7,#6900a8,#6c00a8,#6f00a8,#7201a8,#7401a8,#7501a8,#7501a8,#7701a8,#7701a8,#7701a8,#7701a8,#7701a8,#7501a8,#7401a8,#6f00a8,#6a00a8,#6400a7,#5e01a6,#5801a4,#5102a3,#4c02a1,#4903a0,#44039e,#41049d,#3c049b,#38049a,#370499,#350498,#330597,#2f0596,#2e0595,#2c0594,#2c0594,#2a0593,#280592,#280592,#280592,#280592,#280592)"></i><i class="s" style="top:7.38px;background:linear-gradient(90deg,#370499,#370499,#370499,#370499,#370499,#370499,#370499,#370499,#370499,#370499,#370499,#370499,#3a049a,#3c049b,#41049d,#46039f,#4b03a1,#5002a2,#5302a3,#5801a4,#5b01a5,#6001a6,#6400a7,#6a00a8,#6f00a8,#7401a8,#7a02a8,#7d03a8,#8004a8,#8104a7,#8305a7,#8305a7,#8405a7,#8405a7,#8405a7,#8405a7,#8405a7,#8305a7,#8104a7,#7d03a8,#7701a8,#6f00a8,#6600a7,#5e01a6,#5801a4,#5302a3,#4e02a2,#4903a0,#44039e,#3f049c,#3c049b,#38049a,#370499,#350498,#330597,#310597,#2f0596,#2e0595,#2c0594,#2a0593,#280592,#280592,#280592,#2a0593)"></i><i class="s" style="top:14.75px;background:linear-gradient(90deg,#370499,#370499,#370499,#370499,#370499,#370499,#370499,#370499,#370499,#370499,#370499,#38049a,#3c049b,#3f049c,#44039e,#4b03a1,#5102a3,#5601a4,#5b01a5,#6100a7,#6600a7,#6a00a8,#7100a8,#7701a8,#7b02a8,#8104a7,#8707a6,#8b0aa5,#8e0ca4,#910ea3,#920fa3,#920fa3,#920fa3,#920fa3,#920fa3,#920fa3,#920fa3,#910ea3,#8f0da4,#8b0aa5,#8405a7,#7d03a8,#7201a8,#6900a8,#6100a7,#5b01a5,#5502a4,#4e02a2,#48039f,#43039e,#3e049c,#3a049a,#38049a,#370499,#350498,#330597,#310597,#2f0596,#2f0596,#2e0595,#2c0594,#2c0594,#2c0594,#2c0594)"></i><i class="s" style="top:22.13px;background:linear-gradient(90deg,#38049a,#38049a,#38049a,#38049a,#3a049a,#3a049a,#3a049a,#38049a,#38049a,#38049a,#3a049a,#3c049b,#3e049c,#43039e,#48039f,#4e02a2,#5601a4,#5c01a6,#6400a7,#6a00a8,#7100a8,#7701a8,#7d03a8,#8305a7,#8808a6,#8f0da4,#9410a2,#99159f,#9d189d,#a01a9c,#a11b9b,#a11b9b,#a11b9b,#a11b9b,#a11b9b,#a11b9b,#a11b9b,#a01a9c,#9d189d,#99159f,#920fa3,#8a09a5,#8104a7,#7701a8,#6c00a8,#6300a7,#5901a5,#5102a3,#4b03a1,#44039e,#41049d,#3e049c,#3a049a,#38049a,#38049a,#370499,#350498,#350498,#330597,#310597,#310597,#310597,#310597,#310597)"></i><i class="s" style="top:29.51px;background:linear-gradient(90deg,#3c049b,#3c049b,#3c049b,#3c049b,#3c049b,#3c049b,#3c049b,#3c049b,#3c049b,#3c049b,#3c049b,#3e049c,#41049d,#44039e,#4b03a1,#5302a3,#5b01a5,#6400a7,#6c00a8,#7501a8,#7d03a8,#8405a7,#8a09a5,#910ea3,#9613a1,#9c179e,#a21d9a,#a72197,#ac2694,#ae2892,#b12a90,#b02991,#b02991,#ae2892,#ae2892,#b02991,#ae2892,#ad2793,#ab2494,#a72197,#a11b9b,#99159f,#8f0da4,#8405a7,#7801a8,#6a00a8,#6001a6,#5601a4,#4e02a2,#48039f,#43039e,#3f049c,#3e049c,#3a049a,#3a049a,#3a049a,#38049a,#38049a,#38049a,#370499,#370499,#370499,#370499,#370499)"></i><i class="s" style="top:36.88px;background:linear-gradient(90deg,#3e049c,#3e049c,#3e049c,#3e049c,#3f049c,#3f049c,#3f049c,#3e049c,#3e049c,#3e049c,#3f049c,#3f049c,#43039e,#48039f,#4e02a2,#5601a4,#6001a6,#6a00a8,#7501a8,#7e03a8,#8707a6,#8f0da4,#9613a1,#9d189d,#a31e9a,#aa2395,#ae2892,#b42e8d,#b83289,#bc3587,#be3885,#be3885,#bd3786,#bc3587,#bd3786,#bd3786,#bd3786,#bb3488,#b83289,#b42e8d,#ae2892,#a72197,#9d189d,#920fa3,#8305a7,#7401a8,#6400a7,#5901a5,#5102a3,#4c02a1,#48039f,#43039e,#3f049c,#3e049c,#3c049b,#3c049b,#3c049b,#3c049b,#3c049b,#3c049b,#3c049b,#3c049b,#3c049b,#3c049b)"></i><i class="s" style="top:44.26px;background:linear-gradient(90deg,#41049d,#41049d,#41049d,#41049d,#41049d,#41049d,#41049d,#41049d,#41049d,#41049d,#41049d,#43039e,#44039e,#4903a0,#5002a2,#5b01a5,#6600a7,#7100a8,#7d03a8,#8707a6,#910ea3,#9a169f,#a21d9a,#a82296,#b02991,#b52f8c,#bb3488,#c03a83,#c5407e,#c8437b,#ca457a,#ca457a,#ca457a,#c9447a,#ca457a,#ca457a,#ca457a,#c8437b,#c43e7f,#c03a83,#ba3388,#b32c8e,#aa2395,#9d189d,#8e0ca4,#7d03a8,#6c00a8,#6001a6,#5601a4,#5002a2,#4b03a1,#46039f,#43039e,#41049d,#3f049c,#3f049c,#41049d,#41049d,#41049d,#41049d,#41049d,#41049d,#41049d,#41049d)"></i><i class="s" style="top:51.64px;background:linear-gradient(90deg,#43039e,#43039e,#43039e,#43039e,#43039e,#43039e,#43039e,#43039e,#43039e,#43039e,#43039e,#43039e,#46039f,#4b03a1,#5302a3,#5e01a6,#6a00a8,#7701a8,#8405a7,#8f0da4,#9a169f,#a31e9a,#ac2694,#b32c8e,#bb3488,#c13b82,#c6417d,#cc4778,#cf4c74,#d24f71,#d45270,#d5536f,#d5536f,#d5546e,#d5546e,#d6556d,#d5546e,#d45270,#cf4c74,#cb4679,#c5407e,#bd3786,#b42e8d,#a72197,#9613a1,#8405a7,#7401a8,#6600a7,#5b01a5,#5502a4,#4e02a2,#4903a0,#46039f,#44039e,#44039e,#44039e,#44039e,#44039e,#44039e,#44039e,#44039e,#43039e,#44039e,#44039e)"></i><i class="s" style="top:59.01px;background:linear-gradient(90deg,#46039f,#44039e,#44039e,#44039e,#44039e,#44039e,#44039e,#44039e,#44039e,#44039e,#44039e,#44039e,#46039f,#4b03a1,#5502a4,#6100a7,#6f00a8,#7d03a8,#8b0aa5,#9814a0,#a21d9a,#ac2694,#b52f8c,#bd3786,#c43e7f,#cb4679,#d04d73,#d5536f,#d9586a,#db5c68,#dd5e66,#de6164,#df6263,#e06363,#e16462,#e16462,#e06363,#de5f65,#da5b69,#d5536f,#ce4b75,#c6417d,#bc3587,#b02991,#a01a9c,#8d0ba5,#7b02a8,#6e00a8,#6100a7,#5901a5,#5302a3,#4e02a2,#4b03a1,#4903a0,#48039f,#48039f,#48039f,#48039f,#48039f,#46039f,#46039f,#46039f,#46039f,#46039f)"></i><i class="s" style="top:66.39px;background:linear-gradient(90deg,#48039f,#46039f,#46039f,#44039e,#44039e,#44039e,#44039e,#44039e,#44039e,#44039e,#44039e,#44039e,#48039f,#4c02a1,#5801a4,#6400a7,#7401a8,#8305a7,#910ea3,#9e199d,#aa2395,#b42e8d,#bd3786,#c5407e,#cd4a76,#d45270,#da5a6a,#de5f65,#e16462,#e3685f,#e56b5d,#e76e5b,#e87059,#e97257,#ea7457,#ea7457,#e97257,#e76f5a,#e4695e,#de6164,#d7566c,#ce4b75,#c43e7f,#b6308b,#a72197,#9613a1,#8606a6,#7501a8,#6900a8,#5e01a6,#5801a4,#5302a3,#5002a2,#4e02a2,#4c02a1,#4c02a1,#4b03a1,#4b03a1,#4903a0,#4903a0,#48039f,#48039f,#48039f,#48039f)"></i><i class="s" style="top:73.77px;background:linear-gradient(90deg,#4903a0,#48039f,#46039f,#46039f,#46039f,#46039f,#46039f,#46039f,#46039f,#46039f,#46039f,#46039f,#48039f,#4e02a2,#5901a5,#6900a8,#7a02a8,#8808a6,#9814a0,#a51f99,#b02991,#bb3488,#c5407e,#cd4a76,#d5546e,#dc5d67,#e26561,#e56b5d,#e97158,#eb7556,#ed7953,#ee7b51,#f07f4f,#f1814d,#f1834c,#f1834c,#f1814d,#ef7e50,#eb7655,#e76e5b,#e06363,#d7566c,#cc4778,#bf3984,#b02991,#a01a9c,#8e0ca4,#7e03a8,#6f00a8,#6400a7,#5c01a6,#5801a4,#5502a4,#5302a3,#5102a3,#5002a2,#4e02a2,#4c02a1,#4c02a1,#4b03a1,#4903a0,#4903a0,#4903a0,#4b03a1)"></i><i class="s" style="top:81.14px;background:linear-gradient(90deg,#4b03a1,#48039f,#48039f,#46039f,#46039f,#46039f,#46039f,#48039f,#48039f,#48039f,#46039f,#46039f,#4903a0,#5002a2,#5c01a6,#6c00a8,#7e03a8,#8e0ca4,#9d189d,#ab2494,#b6308b,#c13b82,#cc4778,#d5536f,#dc5d67,#e3685f,#e87059,#ec7754,#ef7e50,#f1834c,#f3874a,#f48948,#f58c46,#f68f44,#f79044,#f79143,#f79044,#f58c46,#f3854b,#ee7b51,#e76f5a,#df6263,#d5536f,#c8437b,#ba3388,#aa2395,#9814a0,#8707a6,#7701a8,#6900a8,#6100a7,#5b01a5,#5901a5,#5801a4,#5601a4,#5502a4,#5102a3,#5002a2,#4e02a2,#4c02a1,#4c02a1,#4c02a1,#4c02a1,#4c02a1)"></i><i class="s" style="top:88.52px;background:linear-gradient(90deg,#4b03a1,#4903a0,#48039f,#48039f,#48039f,#48039f,#48039f,#48039f,#48039f,#48039f,#48039f,#48039f,#4b03a1,#5102a3,#6001a6,#7100a8,#8305a7,#9410a2,#a21d9a,#b02991,#bc3587,#c8437b,#d24f71,#da5b69,#e26660,#e97158,#ee7b51,#f1834c,#f58b47,#f79143,#f89540,#f9983e,#fa9b3d,#fa9c3c,#fa9e3b,#fa9e3b,#fa9e3b,#f99a3e,#f79342,#f48948,#ef7c51,#e76f5a,#dd5e66,#d14e72,#c33d80,#b32c8e,#a11b9b,#8f0da4,#7e03a8,#6f00a8,#6600a7,#6001a6,#5e01a6,#5c01a6,#5901a5,#5801a4,#5502a4,#5302a3,#5102a3,#5002a2,#5002a2,#5002a2,#5002a2,#5002a2)"></i><i class="s" style="top:95.90px;background:linear-gradient(90deg,#4c02a1,#4b03a1,#4903a0,#4903a0,#4903a0,#4903a0,#4903a0,#4903a0,#4903a0,#4903a0,#4903a0,#4903a0,#4c02a1,#5502a4,#6300a7,#7501a8,#8808a6,#99159f,#a82296,#b52f8c,#c13b82,#cc4977,#d6556d,#e06363,#e76f5a,#ed7a52,#f2844b,#f68f44,#f9973f,#fb9f3a,#fca338,#fca636,#fca835,#fca934,#fdab33,#fdab33,#fdab33,#fca636,#fba139,#f9973f,#f58b47,#ee7b51,#e56a5d,#d9586a,#cc4778,#bc3587,#ab2494,#9814a0,#8606a6,#7701a8,#6a00a8,#6400a7,#6300a7,#6001a6,#5e01a6,#5b01a5,#5901a5,#5801a4,#5601a4,#5502a4,#5502a4,#5502a4,#5502a4,#5502a4)"></i><i class="s" style="top:103.27px;background:linear-gradient(90deg,#4e02a2,#4c02a1,#4c02a1,#4b03a1,#4b03a1,#4b03a1,#4b03a1,#4b03a1,#4b03a1,#4b03a1,#4b03a1,#4b03a1,#5002a2,#5801a4,#6600a7,#7a02a8,#8d0ba5,#9e199d,#ac2694,#ba3388,#c5407e,#d04d73,#da5b69,#e3685f,#eb7556,#f1814d,#f68d45,#f9983e,#fba238,#fdab33,#fdb130,#fdb52e,#feb72d,#feb82c,#feba2c,#feba2c,#feb82c,#fdb42f,#fdae32,#fca338,#f9973f,#f3874a,#eb7556,#e06363,#d35171,#c5407e,#b42e8d,#a21d9a,#8e0ca4,#7d03a8,#7100a8,#6a00a8,#6700a8,#6400a7,#6300a7,#6001a6,#5e01a6,#5b01a5,#5b01a5,#5901a5,#5901a5,#5901a5,#5901a5,#5901a5)"></i><i class="s" style="top:110.65px;background:linear-gradient(90deg,#5102a3,#5002a2,#4e02a2,#4e02a2,#4c02a1,#4c02a1,#4c02a1,#4b03a1,#4b03a1,#4b03a1,#4c02a1,#4c02a1,#5102a3,#5b01a5,#6a00a8,#7e03a8,#910ea3,#a21d9a,#b12a90,#bd3786,#c9447a,#d35171,#dd5e66,#e66c5c,#ed7a52,#f48849,#f89441,#fba139,#fdac33,#fdb52e,#febd2a,#fdc229,#fdc627,#fdc827,#fdca26,#fdc827,#fdc627,#fdc229,#feba2c,#fdb130,#fba238,#f79143,#f07f4f,#e66c5c,#da5a6a,#cc4977,#bd3786,#ab2494,#9814a0,#8606a6,#7701a8,#6f00a8,#6c00a8,#6900a8,#6600a7,#6400a7,#6100a7,#6100a7,#6001a6,#6001a6,#6001a6,#6001a6,#6001a6,#6001a6)"></i><i class="s" style="top:118.03px;background:linear-gradient(90deg,#5502a4,#5302a3,#5102a3,#5002a2,#5002a2,#4e02a2,#4c02a1,#4c02a1,#4c02a1,#4c02a1,#4c02a1,#5002a2,#5502a4,#5e01a6,#6f00a8,#8305a7,#9613a1,#a72197,#b52f8c,#c13b82,#cc4778,#d5546e,#df6263,#e87059,#f07f4f,#f68d45,#fa9c3c,#fca934,#fdb52e,#febe2a,#fdc827,#fcce25,#fbd524,#fad824,#fad824,#fbd724,#fcd225,#fccd25,#fdc527,#feba2c,#fdac33,#f99a3e,#f3874a,#ea7457,#e06363,#d35171,#c43e7f,#b32c8e,#9e199d,#8b0aa5,#7d03a8,#7501a8,#7100a8,#6e00a8,#6a00a8,#6900a8,#6600a7,#6600a7,#6600a7,#6600a7,#6600a7,#6600a7,#6600a7,#6600a7)"></i><i class="s" style="top:125.40px;background:linear-gradient(90deg,#5601a4,#5502a4,#5302a3,#5102a3,#5102a3,#5002a2,#4e02a2,#4e02a2,#4c02a1,#4c02a1,#4e02a2,#5102a3,#5601a4,#6100a7,#7401a8,#8707a6,#9c179e,#ac2694,#ba3388,#c5407e,#cf4c74,#d9586a,#e26561,#ea7457,#f2844b,#f89441,#fca338,#fdb130,#febe2a,#fdca26,#fbd324,#f9dc24,#f8e125,#f7e425,#f7e425,#f7e225,#f9dd25,#fbd724,#fcce25,#fdc328,#fdb42f,#fba238,#f68f44,#ee7b51,#e4695e,#d8576b,#ca457a,#b83289,#a51f99,#910ea3,#8305a7,#7a02a8,#7501a8,#7201a8,#6f00a8,#6c00a8,#6a00a8,#6900a8,#6900a8,#6a00a8,#6a00a8,#6a00a8,#6a00a8,#6a00a8)"></i><i class="s" style="top:132.78px;background:linear-gradient(90deg,#5601a4,#5601a4,#5502a4,#5302a3,#5102a3,#5002a2,#4e02a2,#4e02a2,#4e02a2,#4e02a2,#5002a2,#5302a3,#5901a5,#6600a7,#7701a8,#8d0ba5,#a11b9b,#b12a90,#be3885,#c9447a,#d24f71,#dc5d67,#e56a5d,#ed7a52,#f48948,#f99a3e,#fdab33,#feba2c,#fdc827,#fbd324,#f8df25,#f6e626,#f4ed27,#f3ee27,#f3ee27,#f5eb27,#f6e626,#f8df25,#fbd524,#fdc827,#feba2c,#fca835,#f89441,#f1814d,#e76f5a,#db5c68,#cd4a76,#bc3587,#a82296,#9511a1,#8707a6,#7e03a8,#7a02a8,#7701a8,#7401a8,#7100a8,#6e00a8,#6c00a8,#6e00a8,#6e00a8,#6f00a8,#6f00a8,#6f00a8,#6e00a8)"></i><i class="s" style="top:140.16px;background:linear-gradient(90deg,#5601a4,#5502a4,#5502a4,#5302a3,#5102a3,#5002a2,#5002a2,#4e02a2,#4e02a2,#4e02a2,#5002a2,#5302a3,#5b01a5,#6700a8,#7b02a8,#910ea3,#a62098,#b52f8c,#c23c81,#cc4977,#d5546e,#df6263,#e87059,#f07f4f,#f68f44,#fb9f3a,#fdb130,#fdc229,#fcd025,#f9dd25,#f5e926,#f3f027,#f1f426,#f1f525,#f1f426,#f3f027,#f5eb27,#f7e225,#fad824,#fccd25,#febd2a,#fdab33,#f9983e,#f3854b,#e97257,#de5f65,#ce4b75,#be3885,#aa2395,#9814a0,#8a09a5,#8104a7,#7d03a8,#7a02a8,#7701a8,#7201a8,#7100a8,#6f00a8,#6f00a8,#7100a8,#7201a8,#7201a8,#7201a8,#7100a8)"></i><i class="s" style="top:147.53px;background:linear-gradient(90deg,#5601a4,#5502a4,#5302a3,#5302a3,#5102a3,#5002a2,#4e02a2,#4e02a2,#4c02a1,#4e02a2,#5002a2,#5302a3,#5b01a5,#6900a8,#7e03a8,#9410a2,#aa2395,#ba3388,#c5407e,#cf4c74,#d9586a,#e26561,#ea7457,#f1834c,#f79342,#fca338,#fdb42f,#fdc527,#fbd724,#f7e425,#f3ee27,#f1f525,#f0f921,#f0f921,#f0f724,#f1f426,#f3ee27,#f6e626,#f9dc24,#fcce25,#febe2a,#fdae32,#fa9b3d,#f48849,#ea7457,#de5f65,#ce4b75,#bd3786,#aa2395,#9814a0,#8a09a5,#8305a7,#8004a8,#7d03a8,#7801a8,#7501a8,#7201a8,#7100a8,#7100a8,#7100a8,#7201a8,#7401a8,#7401a8,#7201a8)"></i><i class="s" style="top:154.91px;background:linear-gradient(90deg,#5601a4,#5502a4,#5302a3,#5102a3,#5002a2,#5002a2,#4e02a2,#4c02a1,#4b03a1,#4c02a1,#4e02a2,#5102a3,#5b01a5,#6900a8,#7e03a8,#9613a1,#ab2494,#bc3587,#c8437b,#d14e72,#da5b69,#e3685f,#eb7655,#f2844b,#f89441,#fca338,#fdb52e,#fdc527,#fbd724,#f7e425,#f3f027,#f0f724,#f0f921,#f0f921,#f0f921,#f1f426,#f3ee27,#f6e626,#f9dc24,#fcce25,#febe2a,#fdae32,#fa9b3d,#f48849,#ea7457,#dd5e66,#cd4a76,#bc3587,#a82296,#9613a1,#8a09a5,#8305a7,#8004a8,#7d03a8,#7a02a8,#7501a8,#7201a8,#7100a8,#7100a8,#7100a8,#7201a8,#7201a8,#7201a8,#7201a8)"></i><i class="s" style="top:162.29px;background:linear-gradient(90deg,#5601a4,#5502a4,#5302a3,#5102a3,#5002a2,#4e02a2,#4c02a1,#4b03a1,#4903a0,#4903a0,#4b03a1,#5002a2,#5801a4,#6700a8,#7d03a8,#9613a1,#ac2694,#bc3587,#c9447a,#d24f71,#db5c68,#e4695e,#eb7655,#f2844b,#f79342,#fba238,#fdb130,#fec029,#fcd025,#f9dd25,#f5e926,#f2f227,#f0f724,#f0f921,#f0f724,#f2f227,#f5eb27,#f7e225,#fad824,#fccd25,#febd2a,#fdac33,#f99a3e,#f3854b,#e87059,#db5c68,#cc4778,#ba3388,#a62098,#9511a1,#8707a6,#8104a7,#7e03a8,#7b02a8,#7a02a8,#7501a8,#7401a8,#7100a8,#7100a8,#6f00a8,#6f00a8,#6f00a8,#6f00a8,#6f00a8)"></i><i class="s" style="top:169.66px;background:linear-gradient(90deg,#5601a4,#5502a4,#5302a3,#5102a3,#5002a2,#4c02a1,#4b03a1,#4903a0,#48039f,#48039f,#4903a0,#4b03a1,#5302a3,#6400a7,#7d03a8,#9511a1,#ab2494,#bc3587,#c8437b,#d24f71,#da5b69,#e3685f,#ea7457,#f1814d,#f68f44,#fa9c3c,#fdab33,#feba2c,#fdc627,#fbd324,#f8df25,#f5eb27,#f2f227,#f1f525,#f1f426,#f3ee27,#f6e626,#f9dd25,#fbd324,#fdc827,#feba2c,#fca934,#f89540,#f1814d,#e66c5c,#d8576b,#c8437b,#b52f8c,#a21d9a,#910ea3,#8405a7,#7e03a8,#7b02a8,#7a02a8,#7701a8,#7501a8,#7401a8,#7100a8,#6f00a8,#6e00a8,#6c00a8,#6c00a8,#6c00a8,#6e00a8)"></i><i class="s" style="top:177.04px;background:linear-gradient(90deg,#5601a4,#5601a4,#5502a4,#5102a3,#5002a2,#4c02a1,#4b03a1,#4903a0,#48039f,#48039f,#48039f,#46039f,#4903a0,#6001a6,#7d03a8,#9613a1,#ab2494,#bb3488,#c7427c,#d14e72,#da5a6a,#e26561,#e97158,#ef7e50,#f58b47,#f9973f,#fca338,#fdb130,#febb2b,#fdc827,#fbd324,#f8df25,#f5e926,#f4ed27,#f5eb27,#f6e626,#f9dd25,#fbd524,#fccd25,#fdc229,#fdb42f,#fca338,#f79044,#ee7b51,#e26660,#d45270,#c33d80,#b02991,#9d189d,#8d0ba5,#8004a8,#7a02a8,#7701a8,#7501a8,#7501a8,#7401a8,#7201a8,#7100a8,#6e00a8,#6a00a8,#6900a8,#6900a8,#6900a8,#6a00a8)"></i><i class="s" style="top:184.42px;background:linear-gradient(90deg,#5601a4,#5601a4,#5502a4,#5302a3,#5002a2,#4e02a2,#4b03a1,#4903a0,#4903a0,#4903a0,#4903a0,#46039f,#4903a0,#6300a7,#8606a6,#9d189d,#ad2793,#ba3388,#c5407e,#ce4b75,#d7566c,#df6263,#e76e5b,#ed7a52,#f3854b,#f79143,#fa9c3c,#fca636,#fdb22f,#febd2a,#fdc827,#fbd324,#f9dd25,#f7e225,#f8e125,#f9dc24,#fbd324,#fdcb26,#fdc328,#feba2c,#fdac33,#fa9b3d,#f48849,#ea7457,#dd5e66,#cd4a76,#bc3587,#aa2395,#9613a1,#8707a6,#7b02a8,#7501a8,#7401a8,#7201a8,#7201a8,#7201a8,#7100a8,#6f00a8,#6c00a8,#6900a8,#6600a7,#6600a7,#6600a7,#6700a8)"></i><i class="s" style="top:191.79px;background:linear-gradient(90deg,#5601a4,#5601a4,#5502a4,#5302a3,#5102a3,#4e02a2,#4c02a1,#4b03a1,#4b03a1,#4c02a1,#5002a2,#5102a3,#5b01a5,#7701a8,#9511a1,#a62098,#b02991,#b83289,#c33d80,#cc4778,#d5536f,#dd5e66,#e4695e,#eb7556,#f07f4f,#f58b47,#f89441,#fa9e3b,#fca835,#fdb22f,#febd2a,#fdc827,#fcd025,#fbd324,#fbd324,#fccd25,#fdc627,#fec029,#feb82c,#fdaf31,#fba238,#f79342,#f07f4f,#e56b5d,#d7566c,#c7427c,#b42e8d,#a11b9b,#8f0da4,#8104a7,#7701a8,#7201a8,#6f00a8,#6f00a8,#6f00a8,#6f00a8,#6f00a8,#6e00a8,#6a00a8,#6700a8,#6400a7,#6300a7,#6300a7,#6600a7)"></i><i class="s" style="top:199.17px;background:linear-gradient(90deg,#5601a4,#5601a4,#5502a4,#5302a3,#5102a3,#5002a2,#4e02a2,#4c02a1,#4e02a2,#5002a2,#5601a4,#5e01a6,#6f00a8,#8a09a5,#a31e9a,#ad2793,#b12a90,#b6308b,#bf3984,#c8437b,#d14e72,#d9586a,#e16462,#e76f5a,#ed7953,#f1834c,#f68d45,#f89540,#fb9f3a,#fca835,#fdb130,#feba2c,#fdc229,#fdc527,#fdc328,#febe2a,#feb82c,#fdb22f,#fdac33,#fca338,#f9973f,#f48849,#eb7655,#df6263,#d04d73,#bf3984,#ab2494,#9814a0,#8707a6,#7b02a8,#7201a8,#6e00a8,#6c00a8,#6c00a8,#6c00a8,#6e00a8,#6c00a8,#6a00a8,#6700a8,#6400a7,#6300a7,#6100a7,#6100a7,#6400a7)"></i><i class="s" style="top:206.55px;background:linear-gradient(90deg,#5601a4,#5502a4,#5302a3,#5102a3,#5002a2,#4e02a2,#4e02a2,#4e02a2,#4e02a2,#5102a3,#5901a5,#6400a7,#7701a8,#910ea3,#a62098,#ad2793,#ae2892,#b32c8e,#bb3488,#c43e7f,#cc4977,#d5536f,#dd5e66,#e4695e,#e97257,#ef7c51,#f3854b,#f68f44,#f9973f,#fb9f3a,#fca636,#fdae32,#fdb22f,#fdb52e,#fdb42f,#fdb130,#fdab33,#fca537,#fb9f3a,#f9973f,#f58b47,#ef7c51,#e56b5d,#d9586a,#c9447a,#b6308b,#a21d9a,#8f0da4,#8004a8,#7401a8,#6e00a8,#6a00a8,#6900a8,#6900a8,#6900a8,#6900a8,#6900a8,#6700a8,#6400a7,#6300a7,#6001a6,#6001a6,#6001a6,#6100a7)"></i><i class="s" style="top:213.92px;background:linear-gradient(90deg,#5302a3,#5102a3,#5102a3,#5002a2,#4e02a2,#4e02a2,#4e02a2,#4e02a2,#4e02a2,#5102a3,#5801a4,#6300a7,#7401a8,#8808a6,#9a169f,#a21d9a,#a62098,#ac2694,#b52f8c,#bf3984,#c8437b,#d04d73,#d8576b,#de6164,#e56b5d,#ea7457,#ef7e50,#f3854b,#f68d45,#f89441,#fa9b3d,#fba139,#fca338,#fca537,#fca537,#fba238,#fa9e3b,#f9983e,#f79143,#f48948,#ef7e50,#e97158,#de6164,#d14e72,#c13b82,#ac2694,#9814a0,#8606a6,#7701a8,#6e00a8,#6900a8,#6600a7,#6600a7,#6600a7,#6600a7,#6600a7,#6400a7,#6300a7,#6100a7,#6001a6,#5e01a6,#5c01a6,#5e01a6,#5e01a6)"></i><i class="s" style="top:221.30px;background:linear-gradient(90deg,#5102a3,#5002a2,#4e02a2,#4c02a1,#4c02a1,#4c02a1,#4c02a1,#4c02a1,#4c02a1,#5002a2,#5502a4,#5e01a6,#6a00a8,#7b02a8,#8a09a5,#9410a2,#9a169f,#a31e9a,#ae2892,#b83289,#c23c81,#cb4679,#d24f71,#d9586a,#df6263,#e56b5d,#eb7556,#ef7e50,#f2844b,#f58b47,#f68f44,#f79342,#f89540,#f9973f,#f89540,#f89441,#f79044,#f58b47,#f2844b,#ee7b51,#e97158,#e16462,#d6556d,#c9447a,#b7318a,#a21d9a,#8e0ca4,#7d03a8,#6f00a8,#6700a8,#6300a7,#6300a7,#6300a7,#6300a7,#6300a7,#6100a7,#6001a6,#5e01a6,#5c01a6,#5c01a6,#5b01a5,#5b01a5,#5b01a5,#5b01a5)"></i><i class="s" style="top:228.68px;background:linear-gradient(90deg,#4e02a2,#4c02a1,#4b03a1,#4b03a1,#4b03a1,#4b03a1,#4b03a1,#4903a0,#4b03a1,#4c02a1,#5002a2,#5801a4,#6300a7,#6f00a8,#7b02a8,#8606a6,#8f0da4,#9a169f,#a62098,#b22b8f,#bc3587,#c43e7f,#cb4679,#d24f71,#d9586a,#df6263,#e56b5d,#e97257,#ed7953,#ef7e50,#f1814d,#f3854b,#f3874a,#f48849,#f3874a,#f3854b,#f1814d,#ef7c51,#eb7655,#e76e5b,#e06363,#d8576b,#cd4a76,#bf3984,#ad2793,#9814a0,#8405a7,#7401a8,#6700a8,#6100a7,#5e01a6,#5e01a6,#5e01a6,#6001a6,#5e01a6,#5c01a6,#5b01a5,#5901a5,#5901a5,#5801a4,#5601a4,#5601a4,#5601a4,#5801a4)"></i><i class="s" style="top:236.05px;background:linear-gradient(90deg,#4b03a1,#4903a0,#48039f,#48039f,#48039f,#48039f,#48039f,#48039f,#48039f,#4903a0,#4c02a1,#5302a3,#5b01a5,#6600a7,#7100a8,#7b02a8,#8606a6,#910ea3,#9d189d,#a82296,#b32c8e,#bb3488,#c33d80,#ca457a,#d04d73,#d7566c,#dd5e66,#e26561,#e56b5d,#e87059,#ea7457,#eb7655,#ec7754,#ed7953,#ec7754,#eb7655,#ea7457,#e76f5a,#e3685f,#dd5e66,#d6556d,#cd4a76,#c23c81,#b42e8d,#a21d9a,#8d0ba5,#7a02a8,#6a00a8,#6100a7,#5b01a5,#5901a5,#5901a5,#5901a5,#5b01a5,#5901a5,#5801a4,#5601a4,#5502a4,#5302a3,#5302a3,#5102a3,#5102a3,#5102a3,#5102a3)"></i><i class="s" style="top:243.43px;background:linear-gradient(90deg,#48039f,#46039f,#46039f,#46039f,#46039f,#46039f,#46039f,#46039f,#44039e,#46039f,#48039f,#4e02a2,#5601a4,#6001a6,#6900a8,#7201a8,#7d03a8,#8808a6,#9410a2,#9e199d,#a82296,#b12a90,#b83289,#c03a83,#c7427c,#cd4a76,#d35171,#d8576b,#dc5d67,#de6164,#e16462,#e26660,#e3685f,#e4695e,#e4695e,#e3685f,#e16462,#de5f65,#d9586a,#d35171,#cb4679,#c23c81,#b6308b,#a72197,#9511a1,#8305a7,#7100a8,#6300a7,#5901a5,#5502a4,#5302a3,#5302a3,#5502a4,#5502a4,#5502a4,#5302a3,#5302a3,#5002a2,#4e02a2,#4c02a1,#4b03a1,#4b03a1,#4b03a1,#4c02a1)"></i><i class="s" style="top:250.81px;background:linear-gradient(90deg,#44039e,#43039e,#43039e,#43039e,#44039e,#44039e,#44039e,#43039e,#43039e,#43039e,#44039e,#4b03a1,#5102a3,#5901a5,#6300a7,#6c00a8,#7501a8,#8004a8,#8a09a5,#9410a2,#9d189d,#a62098,#ad2793,#b42e8d,#bc3587,#c23c81,#c8437b,#cc4977,#d04d73,#d45270,#d6556d,#d8576b,#d9586a,#da5a6a,#da5a6a,#d9586a,#d6556d,#d35171,#cd4a76,#c6417d,#be3885,#b42e8d,#a82296,#99159f,#8808a6,#7701a8,#6700a8,#5b01a5,#5302a3,#5002a2,#4e02a2,#4c02a1,#4e02a2,#4e02a2,#5002a2,#4e02a2,#4e02a2,#4c02a1,#4903a0,#48039f,#44039e,#44039e,#44039e,#46039f)"></i><i class="s" style="top:258.18px;background:linear-gradient(90deg,#41049d,#3f049c,#41049d,#41049d,#41049d,#41049d,#41049d,#3f049c,#3f049c,#3f049c,#41049d,#46039f,#4c02a1,#5502a4,#5c01a6,#6400a7,#6e00a8,#7701a8,#8004a8,#8808a6,#910ea3,#99159f,#a11b9b,#a82296,#b02991,#b52f8c,#bb3488,#c03a83,#c43e7f,#c7427c,#ca457a,#cc4778,#cd4a76,#cd4a76,#cd4a76,#cc4977,#ca457a,#c6417d,#c03a83,#b83289,#b02991,#a62098,#99159f,#8b0aa5,#7d03a8,#6e00a8,#6001a6,#5502a4,#4e02a2,#4903a0,#48039f,#48039f,#48039f,#4903a0,#4903a0,#4903a0,#4903a0,#48039f,#44039e,#41049d,#3f049c,#3e049c,#3e049c,#41049d)"></i><i class="s" style="top:265.56px;background:linear-gradient(90deg,#3c049b,#3e049c,#3e049c,#3e049c,#3e049c,#3e049c,#3e049c,#3e049c,#3c049b,#3e049c,#3f049c,#43039e,#4903a0,#5002a2,#5601a4,#5e01a6,#6600a7,#6e00a8,#7501a8,#7d03a8,#8606a6,#8d0ba5,#9511a1,#9c179e,#a21d9a,#a82296,#ae2892,#b32c8e,#b7318a,#bb3488,#bd3786,#bf3984,#c03a83,#c13b82,#c03a83,#be3885,#bb3488,#b6308b,#b12a90,#aa2395,#a11b9b,#9613a1,#8b0aa5,#7e03a8,#7100a8,#6400a7,#5801a4,#5002a2,#4903a0,#44039e,#43039e,#43039e,#43039e,#44039e,#44039e,#44039e,#44039e,#43039e,#3f049c,#3e049c,#3a049a,#3a049a,#3a049a,#3c049b)"></i><i class="s" style="top:272.94px;background:linear-gradient(90deg,#38049a,#38049a,#3a049a,#3a049a,#3a049a,#3a049a,#3a049a,#3a049a,#3a049a,#3a049a,#3c049b,#3f049c,#44039e,#4903a0,#5002a2,#5601a4,#5e01a6,#6600a7,#6c00a8,#7401a8,#7a02a8,#8104a7,#8808a6,#8f0da4,#9613a1,#9c179e,#a11b9b,#a62098,#aa2395,#ad2793,#b02991,#b12a90,#b22b8f,#b22b8f,#b12a90,#ae2892,#ab2494,#a62098,#a01a9c,#99159f,#910ea3,#8707a6,#7d03a8,#7201a8,#6600a7,#5c01a6,#5302a3,#4b03a1,#44039e,#41049d,#3e049c,#3e049c,#3e049c,#3f049c,#3f049c,#3f049c,#3f049c,#3e049c,#3c049b,#38049a,#370499,#370499,#370499,#38049a)"></i><i class="s" style="top:280.31px;background:linear-gradient(90deg,#350498,#350498,#350498,#350498,#350498,#350498,#350498,#370499,#370499,#38049a,#3a049a,#3c049b,#3f049c,#43039e,#4903a0,#5002a2,#5601a4,#5e01a6,#6400a7,#6a00a8,#7100a8,#7701a8,#7d03a8,#8305a7,#8808a6,#8e0ca4,#9410a2,#99159f,#9c179e,#a01a9c,#a11b9b,#a21d9a,#a21d9a,#a11b9b,#a01a9c,#9c179e,#99159f,#9410a2,#8e0ca4,#8808a6,#8104a7,#7801a8,#6f00a8,#6600a7,#5c01a6,#5502a4,#4c02a1,#46039f,#41049d,#3c049b,#38049a,#38049a,#3a049a,#3a049a,#3a049a,#3a049a,#3a049a,#38049a,#38049a,#370499,#350498,#330597,#330597,#350498)"></i><i class="s" style="top:287.69px;background:linear-gradient(90deg,#310597,#330597,#310597,#310597,#310597,#310597,#310597,#330597,#330597,#350498,#370499,#38049a,#3a049a,#3e049c,#43039e,#4903a0,#5002a2,#5601a4,#5b01a5,#6100a7,#6600a7,#6c00a8,#7100a8,#7701a8,#7d03a8,#8104a7,#8707a6,#8b0aa5,#8e0ca4,#910ea3,#920fa3,#920fa3,#920fa3,#910ea3,#8e0ca4,#8a09a5,#8707a6,#8305a7,#7e03a8,#7801a8,#7201a8,#6a00a8,#6300a7,#5b01a5,#5502a4,#4e02a2,#48039f,#41049d,#3c049b,#370499,#350498,#350498,#350498,#370499,#370499,#370499,#370499,#350498,#330597,#330597,#310597,#310597,#310597,#310597)"></i><i class="s" style="top:295.07px;background:linear-gradient(90deg,#2f0596,#2f0596,#2f0596,#2e0595,#2e0595,#2e0595,#2e0595,#2f0596,#310597,#330597,#330597,#350498,#370499,#38049a,#3e049c,#43039e,#4903a0,#5002a2,#5502a4,#5901a5,#5c01a6,#6100a7,#6600a7,#6a00a8,#7100a8,#7501a8,#7a02a8,#7e03a8,#8104a7,#8305a7,#8405a7,#8305a7,#8104a7,#8004a8,#7d03a8,#7a02a8,#7501a8,#7201a8,#6e00a8,#6900a8,#6400a7,#5e01a6,#5801a4,#5102a3,#4c02a1,#48039f,#43039e,#3e049c,#38049a,#330597,#310597,#310597,#310597,#330597,#330597,#310597,#310597,#310597,#2f0596,#2f0596,#2e0595,#2e0595,#2e0595,#2f0596)"></i><i class="s" style="top:302.44px;background:linear-gradient(90deg,#2c0594,#2c0594,#2c0594,#2c0594,#2c0594,#2c0594,#2c0594,#2c0594,#2e0595,#2f0596,#2f0596,#310597,#330597,#350498,#3a049a,#3f049c,#44039e,#4903a0,#4c02a1,#5002a2,#5502a4,#5801a4,#5b01a5,#6001a6,#6400a7,#6900a8,#6e00a8,#7100a8,#7401a8,#7701a8,#7701a8,#7501a8,#7201a8,#6f00a8,#6e00a8,#6a00a8,#6700a8,#6400a7,#6100a7,#5e01a6,#5801a4,#5302a3,#4e02a2,#48039f,#44039e,#3f049c,#3c049b,#370499,#330597,#2f0596,#2e0595,#2e0595,#2e0595,#2e0595,#2f0596,#2e0595,#2e0595,#2e0595,#2c0594,#2c0594,#2a0593,#2a0593,#2a0593,#2a0593)"></i><i class="s" style="top:309.82px;background:linear-gradient(90deg,#2a0593,#2a0593,#2a0593,#2a0593,#2a0593,#2a0593,#2a0593,#2a0593,#2a0593,#2a0593,#2c0594,#2e0595,#2f0596,#330597,#38049a,#3c049b,#3f049c,#43039e,#46039f,#48039f,#4b03a1,#4e02a2,#5102a3,#5601a4,#5901a5,#5e01a6,#6100a7,#6400a7,#6700a8,#6a00a8,#6900a8,#6700a8,#6400a7,#6100a7,#6100a7,#6001a6,#5e01a6,#5c01a6,#5901a5,#5502a4,#5002a2,#4b03a1,#46039f,#41049d,#3c049b,#38049a,#350498,#310597,#2e0595,#2c0594,#2a0593,#2a0593,#2a0593,#2a0593,#2c0594,#2c0594,#2a0593,#2a0593,#280592,#260591,#240691,#240691,#240691,#260591)"></i></div><div class="hm" style="left:259.90px;top:800.70px;width:502.20px;height:317.20px"><i class="s0" style="top:-7.38px;background:linear-gradient(90deg,#5502a4,#5102a3,#5002a2,#4e02a2,#4c02a1,#4c02a1,#4c02a1,#4e02a2,#5102a3,#5302a3,#5801a4,#5b01a5,#5e01a6,#6300a7,#6400a7,#6700a8,#6900a8,#6c00a8,#6e00a8,#7100a8,#7201a8,#7401a8,#7501a8,#7501a8,#7701a8,#7801a8,#7a02a8,#7a02a8,#7b02a8,#7a02a8,#7801a8,#7701a8,#7401a8,#7201a8,#7100a8,#6f00a8,#6e00a8,#6e00a8,#6a00a8,#6700a8,#6400a7,#6100a7,#5c01a6,#5901a5,#5801a4,#5801a4,#5601a4,#5502a4,#5102a3,#5002a2,#4c02a1,#4b03a1,#4b03a1,#4903a0,#4903a0,#4903a0,#4903a0,#4903a0,#4b03a1,#4903a0,#4903a0,#48039f,#44039e,#41049d)"></i><i class="s" style="top:0.00px;background:linear-gradient(90deg,#4b03a1,#4903a0,#48039f,#46039f,#46039f,#46039f,#48039f,#4903a0,#4c02a1,#5002a2,#5502a4,#5901a5,#5c01a6,#6100a7,#6400a7,#6700a8,#6a00a8,#6e00a8,#7100a8,#7401a8,#7701a8,#7801a8,#7a02a8,#7b02a8,#7d03a8,#7e03a8,#7e03a8,#8004a8,#8004a8,#7e03a8,#7e03a8,#7d03a8,#7d03a8,#7b02a8,#7801a8,#7701a8,#7501a8,#7401a8,#7201a8,#7100a8,#6e00a8,#6900a8,#6400a7,#6001a6,#5c01a6,#5b01a5,#5901a5,#5601a4,#5502a4,#5102a3,#4e02a2,#4c02a1,#4b03a1,#4903a0,#4903a0,#4903a0,#4903a0,#4903a0,#4903a0,#48039f,#48039f,#44039e,#43039e,#41049d)"></i><i class="s" style="top:7.38px;background:linear-gradient(90deg,#43039e,#41049d,#41049d,#3f049c,#41049d,#41049d,#43039e,#46039f,#4903a0,#4e02a2,#5102a3,#5801a4,#5c01a6,#6100a7,#6600a7,#6900a8,#6e00a8,#7100a8,#7401a8,#7701a8,#7b02a8,#7e03a8,#8004a8,#8305a7,#8405a7,#8606a6,#8707a6,#8707a6,#8707a6,#8707a6,#8707a6,#8707a6,#8707a6,#8606a6,#8405a7,#8104a7,#8004a8,#7e03a8,#7d03a8,#7a02a8,#7701a8,#7100a8,#6c00a8,#6700a8,#6300a7,#6001a6,#5c01a6,#5901a5,#5601a4,#5502a4,#5102a3,#4e02a2,#4c02a1,#4b03a1,#4b03a1,#4903a0,#4903a0,#4903a0,#48039f,#46039f,#44039e,#43039e,#3f049c,#3e049c)"></i><i class="s" style="top:14.75px;background:linear-gradient(90deg,#3c049b,#3a049a,#3a049a,#3a049a,#3c049b,#3e049c,#41049d,#44039e,#48039f,#4b03a1,#5002a2,#5601a4,#5b01a5,#6100a7,#6600a7,#6a00a8,#6f00a8,#7401a8,#7701a8,#7b02a8,#8004a8,#8405a7,#8707a6,#8b0aa5,#8d0ba5,#8f0da4,#8f0da4,#910ea3,#920fa3,#920fa3,#920fa3,#9410a2,#9410a2,#920fa3,#910ea3,#8e0ca4,#8d0ba5,#8a09a5,#8707a6,#8405a7,#8004a8,#7b02a8,#7501a8,#6f00a8,#6a00a8,#6400a7,#6001a6,#5c01a6,#5901a5,#5601a4,#5302a3,#5002a2,#4e02a2,#4c02a1,#4b03a1,#4b03a1,#4903a0,#48039f,#46039f,#44039e,#41049d,#3f049c,#3c049b,#3a049a)"></i><i class="s" style="top:22.13px;background:linear-gradient(90deg,#350498,#350498,#350498,#370499,#38049a,#3c049b,#3f049c,#43039e,#46039f,#4903a0,#4e02a2,#5502a4,#5c01a6,#6300a7,#6700a8,#6e00a8,#7201a8,#7701a8,#7b02a8,#8004a8,#8606a6,#8b0aa5,#8f0da4,#9410a2,#9814a0,#99159f,#9c179e,#9d189d,#9e199d,#a01a9c,#a11b9b,#a11b9b,#a11b9b,#a01a9c,#9e199d,#9d189d,#9a169f,#9814a0,#9410a2,#8f0da4,#8b0aa5,#8606a6,#8004a8,#7a02a8,#7201a8,#6c00a8,#6600a7,#6001a6,#5c01a6,#5901a5,#5601a4,#5302a3,#5002a2,#4e02a2,#4c02a1,#4b03a1,#4903a0,#48039f,#44039e,#41049d,#3e049c,#3c049b,#38049a,#370499)"></i><i class="s" style="top:29.51px;background:linear-gradient(90deg,#310597,#2f0596,#2f0596,#330597,#370499,#3c049b,#3f049c,#43039e,#46039f,#4903a0,#4e02a2,#5502a4,#5c01a6,#6400a7,#6a00a8,#6f00a8,#7501a8,#7a02a8,#8004a8,#8606a6,#8d0ba5,#9410a2,#99159f,#9e199d,#a21d9a,#a51f99,#a72197,#aa2395,#ac2694,#ad2793,#ae2892,#b02991,#ae2892,#ae2892,#ad2793,#ab2494,#a82296,#a51f99,#a11b9b,#9d189d,#9814a0,#910ea3,#8b0aa5,#8405a7,#7b02a8,#7401a8,#6a00a8,#6400a7,#6001a6,#5b01a5,#5801a4,#5502a4,#5302a3,#5102a3,#4e02a2,#4c02a1,#4b03a1,#48039f,#43039e,#3f049c,#3c049b,#370499,#350498,#330597)"></i><i class="s" style="top:36.88px;background:linear-gradient(90deg,#2c0594,#2c0594,#2e0595,#310597,#350498,#3a049a,#3f049c,#43039e,#46039f,#4903a0,#4e02a2,#5601a4,#5e01a6,#6600a7,#6e00a8,#7401a8,#7801a8,#8004a8,#8606a6,#8d0ba5,#9511a1,#9d189d,#a31e9a,#aa2395,#ad2793,#b12a90,#b42e8d,#b6308b,#ba3388,#bc3587,#bd3786,#bd3786,#bd3786,#bc3587,#bb3488,#ba3388,#b7318a,#b32c8e,#b02991,#aa2395,#a31e9a,#9e199d,#9814a0,#8f0da4,#8606a6,#7b02a8,#7201a8,#6a00a8,#6400a7,#6001a6,#5b01a5,#5801a4,#5601a4,#5302a3,#5002a2,#4e02a2,#4b03a1,#46039f,#41049d,#3e049c,#38049a,#350498,#310597,#2e0595)"></i><i class="s" style="top:44.26px;background:linear-gradient(90deg,#2a0593,#280592,#2a0593,#2f0596,#350498,#3a049a,#3f049c,#43039e,#46039f,#4903a0,#5002a2,#5801a4,#6100a7,#6900a8,#7100a8,#7701a8,#7e03a8,#8606a6,#8e0ca4,#9613a1,#9e199d,#a72197,#ae2892,#b42e8d,#ba3388,#be3885,#c13b82,#c43e7f,#c6417d,#c8437b,#ca457a,#ca457a,#ca457a,#c9447a,#c8437b,#c7427c,#c5407e,#c13b82,#bd3786,#b7318a,#b22b8f,#ab2494,#a31e9a,#9a169f,#8f0da4,#8606a6,#7a02a8,#7100a8,#6900a8,#6400a7,#6001a6,#5b01a5,#5801a4,#5502a4,#5102a3,#4e02a2,#4b03a1,#46039f,#41049d,#3c049b,#370499,#310597,#2e0595,#2c0594)"></i><i class="s" style="top:51.64px;background:linear-gradient(90deg,#280592,#280592,#2a0593,#2e0595,#330597,#3a049a,#3f049c,#43039e,#48039f,#4b03a1,#5102a3,#5901a5,#6300a7,#6c00a8,#7401a8,#7b02a8,#8405a7,#8d0ba5,#9613a1,#a11b9b,#aa2395,#b32c8e,#ba3388,#c03a83,#c6417d,#ca457a,#cd4a76,#d04d73,#d35171,#d5536f,#d5546e,#d5546e,#d5546e,#d5546e,#d5536f,#d45270,#d24f71,#ce4b75,#cb4679,#c5407e,#bf3984,#b7318a,#b02991,#a62098,#9a169f,#8f0da4,#8305a7,#7801a8,#7100a8,#6900a8,#6400a7,#6001a6,#5b01a5,#5801a4,#5302a3,#4e02a2,#4b03a1,#44039e,#3f049c,#3a049a,#330597,#2f0596,#2a0593,#280592)"></i><i class="s" style="top:59.01px;background:linear-gradient(90deg,#280592,#280592,#2a0593,#2e0595,#330597,#38049a,#3e049c,#43039e,#48039f,#4c02a1,#5502a4,#5c01a6,#6600a7,#6f00a8,#7801a8,#8104a7,#8b0aa5,#9511a1,#a11b9b,#ac2694,#b52f8c,#be3885,#c6417d,#cc4778,#d14e72,#d5546e,#d9586a,#db5c68,#de5f65,#df6263,#e06363,#e16462,#e16462,#e16462,#e06363,#df6263,#de5f65,#da5b69,#d7566c,#d24f71,#cc4778,#c43e7f,#bc3587,#b22b8f,#a62098,#99159f,#8d0ba5,#8104a7,#7801a8,#6f00a8,#6900a8,#6300a7,#5e01a6,#5901a5,#5502a4,#5002a2,#4903a0,#44039e,#3e049c,#38049a,#330597,#2e0595,#2a0593,#260591)"></i><i class="s" style="top:66.39px;background:linear-gradient(90deg,#280592,#280592,#2a0593,#2e0595,#330597,#38049a,#3e049c,#44039e,#4903a0,#5002a2,#5601a4,#6001a6,#6900a8,#7201a8,#7d03a8,#8707a6,#910ea3,#9d189d,#aa2395,#b6308b,#c03a83,#c9447a,#d04d73,#d6556d,#db5c68,#df6263,#e3685f,#e56b5d,#e76f5a,#e87059,#e97257,#ea7457,#ea7457,#ea7457,#ea7457,#e97158,#e76f5a,#e56b5d,#e26561,#dd5e66,#d7566c,#cf4c74,#c6417d,#bc3587,#b02991,#a31e9a,#9613a1,#8a09a5,#8004a8,#7501a8,#6e00a8,#6700a8,#6100a7,#5b01a5,#5601a4,#5002a2,#4b03a1,#44039e,#3e049c,#370499,#310597,#2c0594,#280592,#260591)"></i><i class="s" style="top:73.77px;background:linear-gradient(90deg,#2a0593,#2a0593,#2c0594,#2f0596,#350498,#3a049a,#3f049c,#44039e,#4b03a1,#5102a3,#5901a5,#6100a7,#6c00a8,#7701a8,#8104a7,#8b0aa5,#9814a0,#a51f99,#b22b8f,#bf3984,#c9447a,#d24f71,#d9586a,#df6263,#e4695e,#e87059,#eb7655,#ed7a52,#ef7e50,#f0804e,#f1814d,#f1834c,#f2844b,#f2844b,#f2844b,#f1814d,#f07f4f,#ed7a52,#ea7457,#e66c5c,#e06363,#d8576b,#cf4c74,#c5407e,#b83289,#ac2694,#9e199d,#920fa3,#8707a6,#7d03a8,#7201a8,#6a00a8,#6400a7,#5e01a6,#5801a4,#5102a3,#4b03a1,#44039e,#3e049c,#370499,#310597,#2c0594,#280592,#260591)"></i><i class="s" style="top:81.14px;background:linear-gradient(90deg,#2e0595,#2c0594,#2e0595,#310597,#370499,#3c049b,#41049d,#48039f,#4c02a1,#5302a3,#5b01a5,#6400a7,#6f00a8,#7a02a8,#8405a7,#910ea3,#9d189d,#ab2494,#b83289,#c5407e,#d04d73,#d9586a,#e16462,#e76e5b,#eb7556,#ef7c51,#f1834c,#f48849,#f58c46,#f68f44,#f79143,#f79342,#f89441,#f89540,#f89441,#f79143,#f68f44,#f48849,#f1814d,#ed7953,#e76e5b,#df6263,#d6556d,#cc4977,#c13b82,#b42e8d,#a62098,#99159f,#8d0ba5,#8104a7,#7801a8,#6f00a8,#6700a8,#6100a7,#5901a5,#5302a3,#4c02a1,#44039e,#3e049c,#370499,#2f0596,#2a0593,#260591,#260591)"></i><i class="s" style="top:88.52px;background:linear-gradient(90deg,#2f0596,#2e0595,#2f0596,#330597,#38049a,#3f049c,#44039e,#4903a0,#4e02a2,#5302a3,#5b01a5,#6600a7,#7100a8,#7d03a8,#8808a6,#9511a1,#a11b9b,#b02991,#bd3786,#cb4679,#d5546e,#de6164,#e66c5c,#ec7754,#f0804e,#f48849,#f68f44,#f89441,#f99a3e,#fa9c3c,#fba139,#fca338,#fca537,#fca537,#fca537,#fba238,#fa9c3c,#f89540,#f68d45,#f1834c,#ec7754,#e56b5d,#dd5e66,#d35171,#c7427c,#ba3388,#ac2694,#a01a9c,#920fa3,#8707a6,#7d03a8,#7401a8,#6c00a8,#6400a7,#5c01a6,#5502a4,#4c02a1,#46039f,#3e049c,#370499,#2f0596,#2a0593,#260591,#260591)"></i><i class="s" style="top:95.90px;background:linear-gradient(90deg,#330597,#310597,#330597,#370499,#3c049b,#41049d,#48039f,#4b03a1,#5002a2,#5502a4,#5c01a6,#6700a8,#7401a8,#8004a8,#8b0aa5,#9814a0,#a51f99,#b32c8e,#c13b82,#ce4b75,#da5a6a,#e26660,#ea7457,#f07f4f,#f48948,#f79143,#f99a3e,#fba139,#fca636,#fdab33,#fdaf31,#fdb22f,#fdb42f,#fdb52e,#fdb42f,#fdb130,#fdab33,#fca338,#f99a3e,#f68d45,#f1814d,#ea7457,#e26561,#d8576b,#cc4977,#bf3984,#b22b8f,#a51f99,#9814a0,#8d0ba5,#8305a7,#7801a8,#6f00a8,#6700a8,#6001a6,#5601a4,#4e02a2,#46039f,#3e049c,#370499,#2f0596,#2a0593,#260591,#260591)"></i><i class="s" style="top:103.27px;background:linear-gradient(90deg,#350498,#350498,#370499,#3a049a,#3f049c,#44039e,#4903a0,#4c02a1,#5002a2,#5601a4,#5c01a6,#6900a8,#7501a8,#8305a7,#8f0da4,#9c179e,#a72197,#b52f8c,#c33d80,#d04d73,#db5c68,#e56a5d,#ec7754,#f2844b,#f68f44,#f99a3e,#fca338,#fdac33,#fdb22f,#feb82c,#febd2a,#fec029,#fdc328,#fdc328,#fdc328,#febe2a,#feba2c,#fdb130,#fca636,#f99a3e,#f58c46,#ef7c51,#e76e5b,#dc5d67,#d04d73,#c33d80,#b6308b,#aa2395,#9d189d,#920fa3,#8707a6,#7d03a8,#7401a8,#6a00a8,#6100a7,#5901a5,#5002a2,#48039f,#3f049c,#38049a,#310597,#2c0594,#280592,#260591)"></i><i class="s" style="top:110.65px;background:linear-gradient(90deg,#370499,#370499,#38049a,#3e049c,#41049d,#46039f,#4b03a1,#4e02a2,#5102a3,#5601a4,#5e01a6,#6a00a8,#7801a8,#8606a6,#920fa3,#9d189d,#aa2395,#b7318a,#c5407e,#d14e72,#dc5d67,#e56b5d,#ed7953,#f3854b,#f89441,#fba139,#fdac33,#feb72d,#febe2a,#fdc527,#fdca26,#fcce25,#fcd225,#fcd225,#fcd025,#fccd25,#fdc627,#febe2a,#fdb52e,#fca835,#f9983e,#f3874a,#ea7457,#df6263,#d35171,#c6417d,#ba3388,#ad2793,#a21d9a,#9613a1,#8d0ba5,#8305a7,#7801a8,#6e00a8,#6400a7,#5b01a5,#5102a3,#48039f,#41049d,#38049a,#330597,#2e0595,#280592,#240691)"></i><i class="s" style="top:118.03px;background:linear-gradient(90deg,#38049a,#38049a,#3c049b,#3f049c,#43039e,#48039f,#4b03a1,#4e02a2,#5102a3,#5801a4,#6001a6,#6c00a8,#7a02a8,#8707a6,#9410a2,#a01a9c,#ac2694,#b83289,#c5407e,#d24f71,#dc5d67,#e56b5d,#ed7953,#f3874a,#f9973f,#fca636,#fdb42f,#fec029,#fdc827,#fcd025,#fbd524,#fada24,#f9dd25,#f8df25,#f9dd25,#fad824,#fbd324,#fdcb26,#fdc229,#fdb52e,#fca338,#f68f44,#ed7a52,#e26561,#d5546e,#c9447a,#bc3587,#b12a90,#a62098,#9c179e,#910ea3,#8707a6,#7b02a8,#7100a8,#6600a7,#5c01a6,#5102a3,#4903a0,#41049d,#3a049a,#350498,#2e0595,#280592,#240691)"></i><i class="s" style="top:125.40px;background:linear-gradient(90deg,#38049a,#3a049a,#3e049c,#41049d,#44039e,#4903a0,#4c02a1,#5002a2,#5302a3,#5901a5,#6100a7,#6e00a8,#7b02a8,#8808a6,#9511a1,#a11b9b,#ac2694,#b83289,#c6417d,#d24f71,#dc5d67,#e56a5d,#ed7953,#f48849,#f9983e,#fca934,#feba2c,#fdc627,#fcd025,#fad824,#f9dd25,#f7e425,#f6e826,#f5e926,#f6e826,#f7e225,#f9dd25,#fbd724,#fcce25,#fec029,#fdae32,#f9973f,#ef7e50,#e3685f,#d6556d,#ca457a,#be3885,#b32c8e,#aa2395,#a01a9c,#9511a1,#8b0aa5,#8004a8,#7401a8,#6900a8,#5e01a6,#5302a3,#4b03a1,#43039e,#3c049b,#350498,#2f0596,#2a0593,#260591)"></i><i class="s" style="top:132.78px;background:linear-gradient(90deg,#38049a,#3a049a,#3e049c,#41049d,#46039f,#4903a0,#4e02a2,#5102a3,#5502a4,#5b01a5,#6300a7,#6e00a8,#7b02a8,#8808a6,#9511a1,#a11b9b,#ac2694,#ba3388,#c6417d,#d24f71,#dc5d67,#e56b5d,#ed7953,#f48849,#f99a3e,#fdac33,#febe2a,#fdcb26,#fbd724,#f9dd25,#f7e425,#f5eb27,#f3ee27,#f3f027,#f3ee27,#f5eb27,#f6e626,#f8df25,#fbd724,#fdca26,#fdb52e,#fa9b3d,#f1814d,#e4695e,#d7566c,#cb4679,#c03a83,#b52f8c,#ac2694,#a21d9a,#99159f,#8e0ca4,#8305a7,#7701a8,#6a00a8,#6001a6,#5502a4,#4b03a1,#43039e,#3c049b,#350498,#2f0596,#2a0593,#280592)"></i><i class="s" style="top:140.16px;background:linear-gradient(90deg,#38049a,#3a049a,#3e049c,#41049d,#46039f,#4b03a1,#5002a2,#5302a3,#5601a4,#5c01a6,#6400a7,#6f00a8,#7b02a8,#8808a6,#9511a1,#a11b9b,#ac2694,#b83289,#c6417d,#d14e72,#dc5d67,#e56b5d,#ed7a52,#f48948,#fa9c3c,#fdaf31,#fec029,#fcce25,#fada24,#f8e125,#f5e926,#f3f027,#f1f426,#f0f724,#f1f525,#f3f027,#f5eb27,#f7e425,#f9dc24,#fcce25,#feba2c,#fa9e3b,#f1834c,#e56a5d,#d7566c,#cc4778,#c03a83,#b6308b,#ad2793,#a51f99,#9c179e,#910ea3,#8606a6,#7a02a8,#6e00a8,#6100a7,#5601a4,#4c02a1,#44039e,#3c049b,#350498,#2f0596,#2c0594,#2a0593)"></i><i class="s" style="top:147.53px;background:linear-gradient(90deg,#38049a,#3a049a,#3c049b,#41049d,#46039f,#4b03a1,#5002a2,#5502a4,#5801a4,#5c01a6,#6400a7,#6f00a8,#7b02a8,#8808a6,#9511a1,#a01a9c,#ac2694,#b83289,#c6417d,#d14e72,#dc5d67,#e56b5d,#ed7a52,#f58b47,#fa9c3c,#fdaf31,#fdc229,#fcd025,#fada24,#f7e225,#f5eb27,#f2f227,#f0f724,#f0f921,#f0f724,#f1f426,#f4ed27,#f6e826,#f8df25,#fcd025,#febb2b,#fb9f3a,#f1834c,#e56a5d,#d8576b,#cc4778,#c13b82,#b6308b,#ae2892,#a62098,#9c179e,#920fa3,#8707a6,#7b02a8,#6f00a8,#6300a7,#5801a4,#4c02a1,#44039e,#3c049b,#350498,#2f0596,#2c0594,#2a0593)"></i><i class="s" style="top:154.91px;background:linear-gradient(90deg,#38049a,#3a049a,#3c049b,#41049d,#46039f,#4b03a1,#5002a2,#5502a4,#5801a4,#5c01a6,#6400a7,#6f00a8,#7b02a8,#8808a6,#9511a1,#a01a9c,#ac2694,#b83289,#c6417d,#d14e72,#dc5d67,#e56b5d,#ed7a52,#f58b47,#fa9c3c,#fdaf31,#fdc229,#fcd025,#fada24,#f7e225,#f5eb27,#f2f227,#f0f724,#f0f921,#f0f724,#f1f426,#f3ee27,#f6e826,#f8df25,#fcd225,#febb2b,#fb9f3a,#f1834c,#e56a5d,#d8576b,#cc4778,#c13b82,#b6308b,#ae2892,#a62098,#9c179e,#920fa3,#8707a6,#7b02a8,#6f00a8,#6300a7,#5801a4,#4c02a1,#44039e,#3c049b,#350498,#2f0596,#2c0594,#2a0593)"></i><i class="s" style="top:162.29px;background:linear-gradient(90deg,#38049a,#3a049a,#3e049c,#41049d,#46039f,#4b03a1,#5002a2,#5302a3,#5601a4,#5c01a6,#6400a7,#6f00a8,#7b02a8,#8808a6,#9511a1,#a11b9b,#ac2694,#b83289,#c6417d,#d14e72,#dc5d67,#e56b5d,#ed7a52,#f48948,#fa9b3d,#fdaf31,#fec029,#fcce25,#fad824,#f8e125,#f5e926,#f3f027,#f1f525,#f0f724,#f1f525,#f2f227,#f5eb27,#f6e626,#f9dd25,#fcce25,#feba2c,#fb9f3a,#f1834c,#e56a5d,#d8576b,#cc4778,#c03a83,#b6308b,#ad2793,#a51f99,#9c179e,#910ea3,#8606a6,#7a02a8,#6e00a8,#6100a7,#5601a4,#4c02a1,#44039e,#3c049b,#350498,#2f0596,#2c0594,#2a0593)"></i><i class="s" style="top:169.66px;background:linear-gradient(90deg,#38049a,#3a049a,#3e049c,#41049d,#46039f,#4903a0,#4e02a2,#5102a3,#5502a4,#5b01a5,#6300a7,#6e00a8,#7b02a8,#8808a6,#9511a1,#a11b9b,#ac2694,#ba3388,#c6417d,#d14e72,#dc5d67,#e56a5d,#ed7953,#f48849,#f99a3e,#fdac33,#febe2a,#fdcb26,#fbd724,#f9dd25,#f7e425,#f5eb27,#f3f027,#f2f227,#f3f027,#f5eb27,#f6e626,#f8df25,#fbd724,#fdca26,#fdb52e,#fa9c3c,#f1814d,#e56a5d,#d7566c,#cb4679,#c03a83,#b52f8c,#ac2694,#a21d9a,#99159f,#8e0ca4,#8305a7,#7701a8,#6a00a8,#6001a6,#5502a4,#4b03a1,#43039e,#3c049b,#350498,#2f0596,#2a0593,#280592)"></i><i class="s" style="top:177.04px;background:linear-gradient(90deg,#38049a,#3a049a,#3e049c,#41049d,#44039e,#4903a0,#4c02a1,#5002a2,#5302a3,#5901a5,#6100a7,#6e00a8,#7b02a8,#8808a6,#9511a1,#a11b9b,#ac2694,#b83289,#c6417d,#d24f71,#dc5d67,#e56a5d,#ed7953,#f48849,#f9983e,#fca934,#feba2c,#fdc627,#fcd025,#fad824,#f9dd25,#f7e425,#f6e826,#f5e926,#f6e826,#f7e225,#f9dd25,#fbd724,#fcce25,#fec029,#fdae32,#f9973f,#ef7e50,#e3685f,#d6556d,#ca457a,#be3885,#b32c8e,#aa2395,#a01a9c,#9511a1,#8b0aa5,#8004a8,#7401a8,#6900a8,#5e01a6,#5302a3,#4b03a1,#43039e,#3c049b,#350498,#2f0596,#2a0593,#260591)"></i><i class="s" style="top:184.42px;background:linear-gradient(90deg,#38049a,#3a049a,#3c049b,#3f049c,#43039e,#48039f,#4b03a1,#4e02a2,#5102a3,#5801a4,#6001a6,#6c00a8,#7a02a8,#8707a6,#9410a2,#a01a9c,#ac2694,#b83289,#c6417d,#d24f71,#dc5d67,#e56b5d,#ed7953,#f3874a,#f9973f,#fca636,#fdb52e,#fec029,#fdca26,#fcd025,#fbd524,#fada24,#f9dc24,#f9dd25,#f9dc24,#fbd724,#fcd225,#fdca26,#fec029,#fdb42f,#fba238,#f68d45,#ed7953,#e26561,#d5536f,#c8437b,#bc3587,#b12a90,#a62098,#9c179e,#910ea3,#8707a6,#7b02a8,#7100a8,#6600a7,#5b01a5,#5102a3,#4903a0,#41049d,#3a049a,#350498,#2e0595,#280592,#240691)"></i><i class="s" style="top:191.79px;background:linear-gradient(90deg,#38049a,#38049a,#3a049a,#3e049c,#41049d,#46039f,#4b03a1,#4e02a2,#5102a3,#5601a4,#5e01a6,#6a00a8,#7801a8,#8606a6,#920fa3,#9d189d,#aa2395,#b7318a,#c5407e,#d14e72,#dc5d67,#e56b5d,#ed7953,#f3874a,#f89441,#fba139,#fdae32,#feb72d,#febe2a,#fdc527,#fdca26,#fccd25,#fcd025,#fcd025,#fccd25,#fdca26,#fdc328,#febb2b,#fdb130,#fca338,#f89540,#f2844b,#e97158,#de6164,#d24f71,#c6417d,#ba3388,#ad2793,#a11b9b,#9613a1,#8b0aa5,#8104a7,#7701a8,#6e00a8,#6300a7,#5901a5,#5102a3,#48039f,#41049d,#38049a,#330597,#2e0595,#280592,#240691)"></i><i class="s" style="top:199.17px;background:linear-gradient(90deg,#38049a,#350498,#370499,#3a049a,#3f049c,#44039e,#4903a0,#4c02a1,#5102a3,#5601a4,#5c01a6,#6900a8,#7501a8,#8305a7,#8f0da4,#9c179e,#a72197,#b52f8c,#c33d80,#d04d73,#db5c68,#e56a5d,#ec7754,#f2844b,#f79044,#fa9b3d,#fca338,#fdac33,#fdb42f,#feb82c,#febd2a,#fec029,#fdc229,#fec029,#febe2a,#feba2c,#fdb42f,#fdab33,#fba139,#f89441,#f3874a,#ed7953,#e56a5d,#da5b69,#cf4c74,#c33d80,#b52f8c,#a82296,#9d189d,#910ea3,#8707a6,#7d03a8,#7401a8,#6a00a8,#6100a7,#5801a4,#5002a2,#48039f,#3f049c,#38049a,#310597,#2c0594,#280592,#260591)"></i><i class="s" style="top:206.55px;background:linear-gradient(90deg,#370499,#330597,#330597,#370499,#3c049b,#41049d,#48039f,#4b03a1,#5002a2,#5502a4,#5c01a6,#6700a8,#7401a8,#8004a8,#8b0aa5,#9814a0,#a51f99,#b32c8e,#c13b82,#cd4a76,#d9586a,#e26660,#e97257,#f07f4f,#f48849,#f79143,#f99a3e,#fba139,#fca636,#fdab33,#fdaf31,#fdb130,#fdb22f,#fdb130,#fdae32,#fca934,#fca338,#fa9b3d,#f79143,#f3854b,#ed7a52,#e76e5b,#df6263,#d5546e,#cb4679,#bf3984,#b22b8f,#a51f99,#9814a0,#8d0ba5,#8305a7,#7801a8,#7100a8,#6700a8,#6001a6,#5801a4,#4e02a2,#46039f,#3e049c,#370499,#2f0596,#2a0593,#280592,#260591)"></i><i class="s" style="top:213.92px;background:linear-gradient(90deg,#330597,#310597,#310597,#350498,#38049a,#3f049c,#44039e,#4903a0,#4e02a2,#5302a3,#5b01a5,#6600a7,#7100a8,#7d03a8,#8808a6,#9511a1,#a11b9b,#ae2892,#bd3786,#ca457a,#d5536f,#de5f65,#e56b5d,#eb7655,#f07f4f,#f3874a,#f68d45,#f79342,#f9983e,#fa9c3c,#fba139,#fba238,#fba238,#fba139,#fa9e3b,#f99a3e,#f89441,#f58c46,#f1834c,#ed7a52,#e76f5a,#e16462,#d9586a,#d04d73,#c6417d,#ba3388,#ad2793,#a11b9b,#9410a2,#8808a6,#7e03a8,#7501a8,#6e00a8,#6600a7,#5e01a6,#5601a4,#4e02a2,#46039f,#3e049c,#370499,#2f0596,#2a0593,#280592,#260591)"></i><i class="s" style="top:221.30px;background:linear-gradient(90deg,#2f0596,#2e0595,#2f0596,#310597,#370499,#3c049b,#41049d,#48039f,#4c02a1,#5302a3,#5b01a5,#6400a7,#6f00a8,#7a02a8,#8606a6,#910ea3,#9d189d,#aa2395,#b7318a,#c43e7f,#ce4b75,#d7566c,#df6263,#e56b5d,#e97257,#ed7a52,#f0804e,#f3854b,#f58b47,#f68f44,#f79143,#f79342,#f79342,#f79143,#f68d45,#f48948,#f2844b,#ef7e50,#eb7655,#e76e5b,#e16462,#da5b69,#d35171,#ca457a,#bf3984,#b42e8d,#a82296,#9c179e,#8f0da4,#8405a7,#7b02a8,#7201a8,#6a00a8,#6400a7,#5c01a6,#5502a4,#4c02a1,#44039e,#3e049c,#370499,#2f0596,#2c0594,#280592,#260591)"></i><i class="s" style="top:228.68px;background:linear-gradient(90deg,#2c0594,#2a0593,#2c0594,#2f0596,#350498,#3a049a,#3f049c,#44039e,#4b03a1,#5102a3,#5901a5,#6100a7,#6c00a8,#7701a8,#8104a7,#8d0ba5,#9814a0,#a31e9a,#b12a90,#bc3587,#c7427c,#cf4c74,#d7566c,#dd5e66,#e26660,#e66c5c,#e97257,#ec7754,#ef7c51,#f07f4f,#f1814d,#f1834c,#f1834c,#f1814d,#ef7e50,#ed7a52,#eb7556,#e87059,#e56a5d,#e06363,#da5b69,#d35171,#cb4679,#c23c81,#b83289,#ad2793,#a21d9a,#9613a1,#8a09a5,#8004a8,#7701a8,#6f00a8,#6900a8,#6100a7,#5b01a5,#5302a3,#4b03a1,#44039e,#3e049c,#370499,#310597,#2c0594,#280592,#260591)"></i><i class="s" style="top:236.05px;background:linear-gradient(90deg,#260591,#260591,#280592,#2e0595,#330597,#38049a,#3e049c,#44039e,#4903a0,#5002a2,#5601a4,#6001a6,#6900a8,#7401a8,#7d03a8,#8707a6,#910ea3,#9d189d,#a82296,#b42e8d,#be3885,#c6417d,#cd4a76,#d45270,#da5a6a,#de5f65,#e16462,#e4695e,#e76e5b,#e87059,#e97257,#ea7457,#e97257,#e97158,#e76f5a,#e56b5d,#e26660,#df6263,#dc5d67,#d7566c,#d24f71,#cb4679,#c33d80,#ba3388,#b02991,#a51f99,#9a169f,#8e0ca4,#8405a7,#7a02a8,#7100a8,#6a00a8,#6400a7,#5e01a6,#5801a4,#5002a2,#4903a0,#43039e,#3c049b,#370499,#310597,#2c0594,#280592,#260591)"></i><i class="s" style="top:243.43px;background:linear-gradient(90deg,#220690,#220690,#260591,#2a0593,#310597,#38049a,#3e049c,#44039e,#48039f,#4c02a1,#5502a4,#5c01a6,#6600a7,#6f00a8,#7801a8,#8104a7,#8b0aa5,#9511a1,#a01a9c,#aa2395,#b42e8d,#bd3786,#c43e7f,#cb4679,#cf4c74,#d45270,#d7566c,#da5b69,#dd5e66,#df6263,#e06363,#e16462,#e16462,#df6263,#de5f65,#db5c68,#d9586a,#d5546e,#d24f71,#cd4a76,#c8437b,#c13b82,#ba3388,#b02991,#a62098,#9c179e,#910ea3,#8606a6,#7b02a8,#7201a8,#6a00a8,#6600a7,#6100a7,#5b01a5,#5502a4,#4e02a2,#46039f,#3f049c,#3a049a,#350498,#310597,#2e0595,#280592,#240691)"></i><i class="s" style="top:250.81px;background:linear-gradient(90deg,#20068f,#20068f,#240691,#2a0593,#310597,#38049a,#3f049c,#44039e,#48039f,#4b03a1,#5102a3,#5901a5,#6300a7,#6c00a8,#7501a8,#7d03a8,#8405a7,#8d0ba5,#9613a1,#a01a9c,#aa2395,#b22b8f,#ba3388,#c03a83,#c5407e,#c9447a,#cc4977,#cf4c74,#d24f71,#d5536f,#d5546e,#d6556d,#d5546e,#d5536f,#d35171,#d14e72,#ce4b75,#cb4679,#c8437b,#c33d80,#be3885,#b6308b,#ae2892,#a62098,#9c179e,#920fa3,#8707a6,#7d03a8,#7401a8,#6a00a8,#6400a7,#6001a6,#5c01a6,#5801a4,#5102a3,#4b03a1,#44039e,#3e049c,#38049a,#350498,#310597,#2e0595,#2a0593,#240691)"></i><i class="s" style="top:258.18px;background:linear-gradient(90deg,#20068f,#20068f,#240691,#2a0593,#310597,#38049a,#3f049c,#44039e,#46039f,#4903a0,#5002a2,#5801a4,#6100a7,#6900a8,#7100a8,#7701a8,#7e03a8,#8606a6,#8e0ca4,#9613a1,#9e199d,#a72197,#ae2892,#b42e8d,#ba3388,#be3885,#c13b82,#c43e7f,#c6417d,#c8437b,#ca457a,#ca457a,#ca457a,#c9447a,#c8437b,#c5407e,#c23c81,#bf3984,#bc3587,#b7318a,#b22b8f,#ab2494,#a31e9a,#9a169f,#910ea3,#8707a6,#7e03a8,#7401a8,#6c00a8,#6400a7,#6001a6,#5b01a5,#5901a5,#5502a4,#4e02a2,#48039f,#41049d,#3c049b,#38049a,#350498,#330597,#2f0596,#2a0593,#260591)"></i><i class="s" style="top:265.56px;background:linear-gradient(90deg,#220690,#220690,#260591,#2c0594,#330597,#3a049a,#3f049c,#43039e,#46039f,#4903a0,#4e02a2,#5601a4,#5e01a6,#6600a7,#6e00a8,#7201a8,#7801a8,#7e03a8,#8606a6,#8e0ca4,#9511a1,#9d189d,#a31e9a,#aa2395,#ae2892,#b22b8f,#b42e8d,#b7318a,#ba3388,#bb3488,#bd3786,#bd3786,#bd3786,#bc3587,#bb3488,#b83289,#b52f8c,#b32c8e,#ae2892,#ab2494,#a62098,#9e199d,#9814a0,#8f0da4,#8707a6,#7e03a8,#7501a8,#6c00a8,#6400a7,#6001a6,#5b01a5,#5801a4,#5601a4,#5102a3,#4c02a1,#46039f,#41049d,#3c049b,#38049a,#370499,#330597,#2f0596,#2c0594,#280592)"></i><i class="s" style="top:272.94px;background:linear-gradient(90deg,#260591,#280592,#2c0594,#310597,#350498,#3a049a,#3f049c,#43039e,#46039f,#4903a0,#4e02a2,#5502a4,#5c01a6,#6400a7,#6a00a8,#6f00a8,#7401a8,#7a02a8,#8004a8,#8707a6,#8d0ba5,#9410a2,#99159f,#9e199d,#a21d9a,#a51f99,#a72197,#aa2395,#ac2694,#ad2793,#ae2892,#ae2892,#ae2892,#ae2892,#ac2694,#ab2494,#a72197,#a51f99,#a11b9b,#9d189d,#99159f,#920fa3,#8b0aa5,#8405a7,#7d03a8,#7401a8,#6c00a8,#6600a7,#6001a6,#5b01a5,#5801a4,#5502a4,#5302a3,#5002a2,#4b03a1,#46039f,#41049d,#3c049b,#3a049a,#370499,#350498,#310597,#2e0595,#2a0593)"></i><i class="s" style="top:280.31px;background:linear-gradient(90deg,#2e0595,#2f0596,#330597,#350498,#38049a,#3c049b,#3f049c,#43039e,#46039f,#4903a0,#4e02a2,#5502a4,#5c01a6,#6300a7,#6700a8,#6c00a8,#7100a8,#7701a8,#7b02a8,#8004a8,#8606a6,#8b0aa5,#8f0da4,#9410a2,#9814a0,#99159f,#9c179e,#9d189d,#9e199d,#a01a9c,#a01a9c,#a11b9b,#a11b9b,#a01a9c,#9e199d,#9c179e,#9a169f,#9613a1,#9410a2,#910ea3,#8b0aa5,#8606a6,#8004a8,#7a02a8,#7201a8,#6c00a8,#6600a7,#6001a6,#5c01a6,#5801a4,#5601a4,#5302a3,#5102a3,#4e02a2,#4903a0,#46039f,#41049d,#3e049c,#3a049a,#38049a,#370499,#330597,#310597,#2e0595)"></i><i class="s" style="top:287.69px;background:linear-gradient(90deg,#350498,#38049a,#3a049a,#3c049b,#3e049c,#3f049c,#41049d,#44039e,#48039f,#4b03a1,#5002a2,#5601a4,#5c01a6,#6100a7,#6700a8,#6c00a8,#6f00a8,#7401a8,#7701a8,#7b02a8,#8004a8,#8405a7,#8707a6,#8b0aa5,#8d0ba5,#8f0da4,#910ea3,#910ea3,#920fa3,#920fa3,#9410a2,#9410a2,#9410a2,#920fa3,#910ea3,#8f0da4,#8d0ba5,#8a09a5,#8707a6,#8405a7,#8004a8,#7b02a8,#7501a8,#6f00a8,#6900a8,#6400a7,#6001a6,#5c01a6,#5901a5,#5601a4,#5302a3,#5102a3,#5002a2,#4c02a1,#4903a0,#46039f,#43039e,#3f049c,#3e049c,#3a049a,#38049a,#370499,#330597,#310597)"></i><i class="s" style="top:295.07px;background:linear-gradient(90deg,#3f049c,#41049d,#41049d,#43039e,#43039e,#43039e,#43039e,#46039f,#4903a0,#4c02a1,#5302a3,#5801a4,#5e01a6,#6300a7,#6700a8,#6c00a8,#6f00a8,#7201a8,#7501a8,#7801a8,#7b02a8,#7e03a8,#8104a7,#8405a7,#8606a6,#8707a6,#8808a6,#8808a6,#8808a6,#8808a6,#8808a6,#8808a6,#8808a6,#8707a6,#8606a6,#8305a7,#8104a7,#7e03a8,#7b02a8,#7801a8,#7501a8,#7100a8,#6a00a8,#6600a7,#6300a7,#5e01a6,#5b01a5,#5801a4,#5601a4,#5502a4,#5102a3,#5002a2,#4e02a2,#4b03a1,#4903a0,#48039f,#44039e,#43039e,#3f049c,#3e049c,#3a049a,#38049a,#370499,#370499)"></i><i class="s" style="top:302.44px;background:linear-gradient(90deg,#4903a0,#4903a0,#4903a0,#48039f,#48039f,#48039f,#48039f,#4903a0,#4c02a1,#5002a2,#5502a4,#5b01a5,#6001a6,#6600a7,#6900a8,#6e00a8,#6f00a8,#7201a8,#7401a8,#7501a8,#7801a8,#7b02a8,#7d03a8,#8004a8,#8104a7,#8104a7,#8305a7,#8305a7,#8305a7,#8305a7,#8305a7,#8104a7,#8004a8,#7e03a8,#7d03a8,#7a02a8,#7801a8,#7501a8,#7201a8,#6f00a8,#6c00a8,#6700a8,#6300a7,#6001a6,#5c01a6,#5901a5,#5801a4,#5601a4,#5502a4,#5102a3,#5002a2,#4e02a2,#4c02a1,#4b03a1,#4903a0,#48039f,#48039f,#44039e,#43039e,#3f049c,#3e049c,#3c049b,#3a049a,#3c049b)"></i><i class="s" style="top:309.82px;background:linear-gradient(90deg,#5502a4,#5102a3,#5002a2,#4e02a2,#4c02a1,#4c02a1,#4e02a2,#4e02a2,#5002a2,#5302a3,#5801a4,#5e01a6,#6400a7,#6a00a8,#6e00a8,#7100a8,#7201a8,#7201a8,#7401a8,#7501a8,#7701a8,#7801a8,#7b02a8,#7e03a8,#8004a8,#8004a8,#8104a7,#8104a7,#8305a7,#8104a7,#8104a7,#7e03a8,#7d03a8,#7a02a8,#7701a8,#7501a8,#7201a8,#6f00a8,#6c00a8,#6900a8,#6400a7,#6001a6,#5c01a6,#5901a5,#5801a4,#5801a4,#5601a4,#5502a4,#5102a3,#5002a2,#4c02a1,#4b03a1,#4903a0,#4903a0,#4903a0,#4b03a1,#4903a0,#48039f,#46039f,#43039e,#3f049c,#3f049c,#3f049c,#41049d)"></i></div><div class="hm" style="left:259.90px;top:1181.40px;width:502.20px;height:317.20px"><i class="s0" style="top:-7.38px;background:linear-gradient(90deg,#38049a,#370499,#370499,#38049a,#3a049a,#3e049c,#3f049c,#43039e,#44039e,#48039f,#4b03a1,#5002a2,#5302a3,#5601a4,#5601a4,#5601a4,#5601a4,#5601a4,#5801a4,#5901a5,#5b01a5,#5c01a6,#5e01a6,#5e01a6,#5e01a6,#5e01a6,#5e01a6,#5e01a6,#5e01a6,#5e01a6,#5e01a6,#5e01a6,#5e01a6,#5e01a6,#5e01a6,#5c01a6,#5b01a5,#5801a4,#5601a4,#5302a3,#5102a3,#4e02a2,#4c02a1,#4903a0,#46039f,#43039e,#41049d,#41049d,#41049d,#41049d,#41049d,#3e049c,#3a049a,#38049a,#370499,#350498,#350498,#330597,#310597,#2f0596,#2e0595,#2e0595,#2c0594,#2a0593)"></i><i class="s" style="top:0.00px;background:linear-gradient(90deg,#350498,#350498,#350498,#370499,#3a049a,#3e049c,#41049d,#43039e,#46039f,#4903a0,#4c02a1,#5002a2,#5302a3,#5502a4,#5601a4,#5801a4,#5901a5,#5901a5,#5b01a5,#5e01a6,#6001a6,#6100a7,#6300a7,#6400a7,#6600a7,#6600a7,#6700a8,#6700a8,#6900a8,#6900a8,#6a00a8,#6a00a8,#6a00a8,#6a00a8,#6a00a8,#6a00a8,#6900a8,#6600a7,#6300a7,#6001a6,#5c01a6,#5901a5,#5801a4,#5302a3,#5002a2,#4b03a1,#48039f,#46039f,#44039e,#44039e,#43039e,#41049d,#3e049c,#3c049b,#3a049a,#38049a,#370499,#350498,#310597,#2f0596,#2e0595,#2c0594,#2c0594,#2a0593)"></i><i class="s" style="top:7.38px;background:linear-gradient(90deg,#350498,#350498,#350498,#370499,#3a049a,#3c049b,#3f049c,#44039e,#48039f,#4b03a1,#4e02a2,#5002a2,#5302a3,#5502a4,#5601a4,#5901a5,#5b01a5,#5e01a6,#6100a7,#6300a7,#6600a7,#6900a8,#6c00a8,#6e00a8,#6f00a8,#7201a8,#7401a8,#7501a8,#7701a8,#7801a8,#7801a8,#7a02a8,#7a02a8,#7a02a8,#7a02a8,#7801a8,#7801a8,#7501a8,#7201a8,#6e00a8,#6900a8,#6600a7,#6300a7,#5e01a6,#5801a4,#5302a3,#4c02a1,#4903a0,#48039f,#46039f,#44039e,#43039e,#41049d,#3e049c,#3c049b,#3a049a,#370499,#350498,#330597,#2f0596,#2e0595,#2c0594,#2a0593,#2a0593)"></i><i class="s" style="top:14.75px;background:linear-gradient(90deg,#330597,#350498,#370499,#38049a,#3a049a,#3c049b,#3f049c,#44039e,#48039f,#4b03a1,#4e02a2,#5102a3,#5302a3,#5502a4,#5801a4,#5b01a5,#5e01a6,#6300a7,#6600a7,#6a00a8,#6e00a8,#7201a8,#7701a8,#7a02a8,#7d03a8,#8004a8,#8305a7,#8405a7,#8707a6,#8808a6,#8a09a5,#8a09a5,#8a09a5,#8a09a5,#8a09a5,#8808a6,#8707a6,#8405a7,#8004a8,#7b02a8,#7701a8,#7201a8,#6e00a8,#6700a8,#6100a7,#5901a5,#5302a3,#4e02a2,#4b03a1,#4903a0,#48039f,#44039e,#43039e,#3f049c,#3e049c,#3a049a,#38049a,#350498,#330597,#2f0596,#2e0595,#2c0594,#2a0593,#2a0593)"></i><i class="s" style="top:22.13px;background:linear-gradient(90deg,#350498,#350498,#370499,#38049a,#3a049a,#3e049c,#3f049c,#43039e,#48039f,#4b03a1,#4e02a2,#5102a3,#5502a4,#5601a4,#5901a5,#5e01a6,#6300a7,#6700a8,#6c00a8,#7201a8,#7801a8,#7d03a8,#8305a7,#8707a6,#8b0aa5,#8f0da4,#920fa3,#9511a1,#9814a0,#9a169f,#9c179e,#9c179e,#9c179e,#9a169f,#9a169f,#99159f,#9613a1,#9410a2,#8f0da4,#8a09a5,#8405a7,#7e03a8,#7801a8,#7100a8,#6900a8,#6100a7,#5901a5,#5502a4,#5002a2,#4c02a1,#4903a0,#46039f,#44039e,#41049d,#3f049c,#3c049b,#38049a,#370499,#330597,#310597,#2e0595,#2c0594,#2c0594,#2a0593)"></i><i class="s" style="top:29.51px;background:linear-gradient(90deg,#350498,#370499,#38049a,#3a049a,#3c049b,#3e049c,#3f049c,#43039e,#48039f,#4b03a1,#4e02a2,#5102a3,#5502a4,#5801a4,#5c01a6,#6100a7,#6600a7,#6c00a8,#7401a8,#7b02a8,#8305a7,#8808a6,#8f0da4,#9511a1,#9a169f,#a01a9c,#a21d9a,#a62098,#a82296,#ab2494,#ac2694,#ac2694,#ac2694,#ab2494,#ab2494,#a82296,#a62098,#a31e9a,#9e199d,#99159f,#920fa3,#8b0aa5,#8405a7,#7b02a8,#7201a8,#6900a8,#6100a7,#5901a5,#5502a4,#5002a2,#4c02a1,#4903a0,#46039f,#43039e,#41049d,#3e049c,#3a049a,#38049a,#350498,#310597,#2f0596,#2e0595,#2e0595,#2c0594)"></i><i class="s" style="top:36.88px;background:linear-gradient(90deg,#370499,#38049a,#3a049a,#3c049b,#3c049b,#3e049c,#3f049c,#43039e,#46039f,#4b03a1,#4e02a2,#5302a3,#5601a4,#5b01a5,#6001a6,#6400a7,#6c00a8,#7401a8,#7b02a8,#8405a7,#8d0ba5,#9511a1,#9d189d,#a31e9a,#aa2395,#ae2892,#b22b8f,#b52f8c,#b83289,#bb3488,#bc3587,#bc3587,#bc3587,#bb3488,#ba3388,#b7318a,#b52f8c,#b22b8f,#ad2793,#a72197,#a11b9b,#99159f,#8f0da4,#8606a6,#7b02a8,#7100a8,#6700a8,#6001a6,#5901a5,#5302a3,#5002a2,#4b03a1,#48039f,#46039f,#43039e,#3f049c,#3e049c,#3a049a,#370499,#350498,#330597,#310597,#2f0596,#2f0596)"></i><i class="s" style="top:44.26px;background:linear-gradient(90deg,#38049a,#3a049a,#3c049b,#3c049b,#3e049c,#3e049c,#3f049c,#43039e,#46039f,#4b03a1,#5002a2,#5302a3,#5801a4,#5e01a6,#6300a7,#6a00a8,#7201a8,#7b02a8,#8405a7,#8e0ca4,#99159f,#a21d9a,#aa2395,#b22b8f,#b7318a,#bd3786,#c13b82,#c43e7f,#c6417d,#c8437b,#ca457a,#ca457a,#ca457a,#c9447a,#c8437b,#c5407e,#c23c81,#bf3984,#bb3488,#b52f8c,#ae2892,#a62098,#9c179e,#8f0da4,#8405a7,#7a02a8,#6f00a8,#6600a7,#5e01a6,#5801a4,#5302a3,#4e02a2,#4b03a1,#4903a0,#46039f,#43039e,#41049d,#3e049c,#3c049b,#38049a,#370499,#350498,#330597,#330597)"></i><i class="s" style="top:51.64px;background:linear-gradient(90deg,#3a049a,#3c049b,#3e049c,#3e049c,#3e049c,#3f049c,#41049d,#43039e,#48039f,#4b03a1,#5002a2,#5502a4,#5b01a5,#6100a7,#6700a8,#6f00a8,#7801a8,#8305a7,#8e0ca4,#99159f,#a31e9a,#ad2793,#b6308b,#be3885,#c43e7f,#c9447a,#cc4977,#d04d73,#d35171,#d5536f,#d5546e,#d6556d,#d6556d,#d5546e,#d45270,#d24f71,#cf4c74,#cc4778,#c7427c,#c23c81,#bb3488,#b22b8f,#a72197,#9c179e,#8e0ca4,#8104a7,#7701a8,#6c00a8,#6400a7,#5c01a6,#5801a4,#5302a3,#5002a2,#4c02a1,#4b03a1,#48039f,#46039f,#44039e,#41049d,#3e049c,#3c049b,#3a049a,#38049a,#38049a)"></i><i class="s" style="top:59.01px;background:linear-gradient(90deg,#3e049c,#3e049c,#3e049c,#3f049c,#3f049c,#41049d,#43039e,#44039e,#48039f,#4c02a1,#5102a3,#5601a4,#5c01a6,#6400a7,#6c00a8,#7501a8,#8004a8,#8b0aa5,#9613a1,#a21d9a,#ae2892,#b83289,#c13b82,#c9447a,#cf4c74,#d45270,#d8576b,#da5b69,#dd5e66,#de6164,#e06363,#e16462,#e16462,#e16462,#df6263,#dd5e66,#da5b69,#d7566c,#d35171,#cd4a76,#c7427c,#be3885,#b32c8e,#a72197,#99159f,#8b0aa5,#7e03a8,#7201a8,#6900a8,#6300a7,#5c01a6,#5801a4,#5502a4,#5102a3,#5002a2,#4e02a2,#4c02a1,#4903a0,#48039f,#44039e,#41049d,#3f049c,#3f049c,#3f049c)"></i><i class="s" style="top:66.39px;background:linear-gradient(90deg,#3f049c,#3f049c,#3f049c,#3f049c,#41049d,#41049d,#44039e,#46039f,#4903a0,#4c02a1,#5302a3,#5801a4,#6001a6,#6700a8,#7100a8,#7b02a8,#8707a6,#9410a2,#a01a9c,#ac2694,#b7318a,#c23c81,#cb4679,#d35171,#d9586a,#de5f65,#e26561,#e4695e,#e66c5c,#e87059,#e97257,#ea7457,#ea7457,#ea7457,#e97257,#e76f5a,#e56b5d,#e26660,#de5f65,#d9586a,#d24f71,#c9447a,#bf3984,#b22b8f,#a31e9a,#9410a2,#8606a6,#7a02a8,#7100a8,#6900a8,#6300a7,#5c01a6,#5901a5,#5601a4,#5502a4,#5302a3,#5302a3,#5002a2,#4e02a2,#4b03a1,#48039f,#46039f,#44039e,#46039f)"></i><i class="s" style="top:73.77px;background:linear-gradient(90deg,#41049d,#41049d,#41049d,#41049d,#43039e,#43039e,#44039e,#48039f,#4b03a1,#4e02a2,#5502a4,#5901a5,#6100a7,#6a00a8,#7501a8,#8004a8,#8d0ba5,#99159f,#a72197,#b32c8e,#bf3984,#ca457a,#d35171,#da5b69,#e16462,#e56b5d,#e97257,#ec7754,#ef7c51,#f07f4f,#f1834c,#f2844b,#f3854b,#f2844b,#f1834c,#f0804e,#ef7c51,#ec7754,#e87059,#e3685f,#dc5d67,#d45270,#ca457a,#bd3786,#ae2892,#9d189d,#8e0ca4,#8104a7,#7701a8,#6f00a8,#6900a8,#6300a7,#5e01a6,#5b01a5,#5901a5,#5801a4,#5801a4,#5601a4,#5302a3,#5002a2,#4e02a2,#4c02a1,#4b03a1,#4b03a1)"></i><i class="s" style="top:81.14px;background:linear-gradient(90deg,#44039e,#44039e,#44039e,#43039e,#44039e,#44039e,#46039f,#4903a0,#4c02a1,#5002a2,#5502a4,#5b01a5,#6300a7,#6c00a8,#7801a8,#8405a7,#910ea3,#9e199d,#ac2694,#b83289,#c5407e,#d04d73,#da5a6a,#e26561,#e76f5a,#ec7754,#f07f4f,#f3854b,#f58b47,#f79044,#f79342,#f89540,#f9973f,#f9973f,#f89540,#f79342,#f68f44,#f48948,#f1814d,#ec7754,#e66c5c,#de5f65,#d45270,#c7427c,#b83289,#a72197,#9613a1,#8808a6,#7d03a8,#7501a8,#6e00a8,#6700a8,#6300a7,#6001a6,#5e01a6,#5c01a6,#5b01a5,#5901a5,#5801a4,#5502a4,#5302a3,#5102a3,#5002a2,#5002a2)"></i><i class="s" style="top:88.52px;background:linear-gradient(90deg,#48039f,#48039f,#46039f,#46039f,#46039f,#46039f,#48039f,#4903a0,#4c02a1,#5102a3,#5601a4,#5c01a6,#6400a7,#6f00a8,#7a02a8,#8707a6,#9511a1,#a21d9a,#b12a90,#be3885,#ca457a,#d5546e,#de6164,#e76e5b,#ed7953,#f1834c,#f58b47,#f79342,#f99a3e,#fb9f3a,#fca338,#fca636,#fca835,#fca835,#fca636,#fca537,#fba139,#fa9b3d,#f79342,#f48849,#ee7b51,#e76e5b,#dd5e66,#d14e72,#c13b82,#b02991,#9e199d,#8f0da4,#8405a7,#7b02a8,#7401a8,#6e00a8,#6700a8,#6400a7,#6100a7,#6001a6,#5e01a6,#5c01a6,#5b01a5,#5901a5,#5801a4,#5601a4,#5502a4,#5502a4)"></i><i class="s" style="top:95.90px;background:linear-gradient(90deg,#4c02a1,#4b03a1,#4903a0,#4903a0,#48039f,#48039f,#4903a0,#4b03a1,#4e02a2,#5102a3,#5801a4,#5e01a6,#6700a8,#7100a8,#7d03a8,#8a09a5,#9814a0,#a62098,#b42e8d,#c23c81,#ce4b75,#d9586a,#e3685f,#eb7556,#f1814d,#f58c46,#f89540,#fb9f3a,#fca835,#fdae32,#fdb42f,#feb72d,#feb82c,#feb82c,#feb82c,#feb72d,#fdb22f,#fdac33,#fba238,#f9973f,#f58b47,#ee7b51,#e56b5d,#d9586a,#ca457a,#b7318a,#a62098,#9511a1,#8a09a5,#8004a8,#7801a8,#7201a8,#6c00a8,#6700a8,#6400a7,#6300a7,#6100a7,#6001a6,#5e01a6,#5c01a6,#5c01a6,#5b01a5,#5901a5,#5901a5)"></i><i class="s" style="top:103.27px;background:linear-gradient(90deg,#5102a3,#5002a2,#4e02a2,#4c02a1,#4b03a1,#4903a0,#4903a0,#4b03a1,#4e02a2,#5102a3,#5801a4,#6001a6,#6900a8,#7401a8,#8004a8,#8d0ba5,#9c179e,#aa2395,#b7318a,#c5407e,#d14e72,#dc5d67,#e66c5c,#ed7a52,#f48849,#f89441,#fa9e3b,#fca934,#fdb22f,#feba2c,#fec029,#fdc527,#fdc627,#fdc827,#fdc827,#fdc527,#fdc229,#feba2c,#fdb130,#fca537,#f9973f,#f3874a,#eb7556,#df6263,#d04d73,#be3885,#ac2694,#9c179e,#8e0ca4,#8405a7,#7d03a8,#7501a8,#7100a8,#6c00a8,#6900a8,#6600a7,#6400a7,#6400a7,#6300a7,#6100a7,#6100a7,#6001a6,#5e01a6,#5c01a6)"></i><i class="s" style="top:110.65px;background:linear-gradient(90deg,#5601a4,#5502a4,#5102a3,#5002a2,#4e02a2,#4c02a1,#4b03a1,#4c02a1,#4e02a2,#5102a3,#5801a4,#6100a7,#6a00a8,#7701a8,#8405a7,#910ea3,#a01a9c,#ad2793,#bc3587,#c8437b,#d5536f,#df6263,#e87059,#f07f4f,#f58c46,#f99a3e,#fca537,#fdaf31,#feba2c,#fdc229,#fdca26,#fcce25,#fbd324,#fbd524,#fbd524,#fcd225,#fccd25,#fdc527,#febb2b,#fdaf31,#fba139,#f79044,#ef7e50,#e56a5d,#d5546e,#c43e7f,#b22b8f,#a11b9b,#920fa3,#8808a6,#8004a8,#7801a8,#7401a8,#6f00a8,#6c00a8,#6a00a8,#6900a8,#6900a8,#6700a8,#6700a8,#6700a8,#6600a7,#6400a7,#6100a7)"></i><i class="s" style="top:118.03px;background:linear-gradient(90deg,#5c01a6,#5901a5,#5601a4,#5302a3,#5002a2,#4e02a2,#4c02a1,#4c02a1,#4e02a2,#5102a3,#5801a4,#6100a7,#6e00a8,#7a02a8,#8707a6,#9511a1,#a21d9a,#b12a90,#be3885,#cb4679,#d6556d,#e16462,#e97257,#f1814d,#f79044,#fa9e3b,#fdab33,#fdb52e,#fec029,#fdc827,#fcd025,#fbd724,#f9dd25,#f8df25,#f8df25,#f9dc24,#fbd724,#fcce25,#fdc527,#feb82c,#fca934,#f9983e,#f3854b,#e87059,#da5a6a,#c8437b,#b6308b,#a51f99,#9613a1,#8b0aa5,#8305a7,#7b02a8,#7701a8,#7201a8,#7100a8,#6f00a8,#6e00a8,#6e00a8,#6e00a8,#6e00a8,#6c00a8,#6a00a8,#6900a8,#6600a7)"></i><i class="s" style="top:125.40px;background:linear-gradient(90deg,#6100a7,#5e01a6,#5b01a5,#5601a4,#5302a3,#5002a2,#4e02a2,#4e02a2,#4e02a2,#5102a3,#5801a4,#6300a7,#6f00a8,#7d03a8,#8b0aa5,#99159f,#a62098,#b42e8d,#c13b82,#cc4977,#d8576b,#e26660,#eb7556,#f2844b,#f79342,#fba238,#fdaf31,#feba2c,#fdc527,#fcce25,#fbd724,#f8df25,#f6e626,#f5e926,#f6e826,#f7e425,#f9dd25,#fbd524,#fdcb26,#febe2a,#fdaf31,#fa9e3b,#f48948,#eb7556,#dd5e66,#cc4778,#ba3388,#aa2395,#9a169f,#8e0ca4,#8405a7,#7e03a8,#7801a8,#7501a8,#7401a8,#7201a8,#7201a8,#7201a8,#7201a8,#7201a8,#7201a8,#7100a8,#6e00a8,#6a00a8)"></i><i class="s" style="top:132.78px;background:linear-gradient(90deg,#6600a7,#6100a7,#5e01a6,#5901a5,#5601a4,#5302a3,#5002a2,#4e02a2,#5002a2,#5302a3,#5901a5,#6400a7,#7201a8,#8004a8,#8e0ca4,#9c179e,#a82296,#b52f8c,#c23c81,#ce4b75,#d9586a,#e3685f,#ec7754,#f3874a,#f9973f,#fca537,#fdb42f,#fec029,#fdca26,#fbd324,#f9dd25,#f6e626,#f4ed27,#f3f027,#f3ee27,#f5eb27,#f7e225,#fada24,#fcd025,#fdc328,#fdb42f,#fba238,#f68d45,#ec7754,#de6164,#ce4b75,#be3885,#ad2793,#9d189d,#910ea3,#8707a6,#8004a8,#7b02a8,#7801a8,#7701a8,#7701a8,#7701a8,#7701a8,#7701a8,#7701a8,#7701a8,#7501a8,#7201a8,#6e00a8)"></i><i class="s" style="top:140.16px;background:linear-gradient(90deg,#6700a8,#6400a7,#6100a7,#5c01a6,#5801a4,#5502a4,#5102a3,#5002a2,#5002a2,#5302a3,#5b01a5,#6600a7,#7401a8,#8305a7,#8f0da4,#9d189d,#ab2494,#b7318a,#c33d80,#ce4b75,#da5a6a,#e4695e,#ed7953,#f48948,#f9983e,#fca835,#feb72d,#fdc328,#fcce25,#fad824,#f7e225,#f5eb27,#f2f227,#f1f525,#f1f426,#f3ee27,#f6e826,#f9dd25,#fbd324,#fdc527,#fdb52e,#fca338,#f68f44,#ed7a52,#e06363,#d14e72,#c03a83,#b02991,#a11b9b,#9410a2,#8a09a5,#8305a7,#7e03a8,#7b02a8,#7a02a8,#7a02a8,#7a02a8,#7b02a8,#7b02a8,#7b02a8,#7a02a8,#7801a8,#7401a8,#7100a8)"></i><i class="s" style="top:147.53px;background:linear-gradient(90deg,#6900a8,#6600a7,#6300a7,#5e01a6,#5901a5,#5601a4,#5302a3,#5102a3,#5102a3,#5502a4,#5c01a6,#6700a8,#7501a8,#8405a7,#920fa3,#a01a9c,#ac2694,#b83289,#c43e7f,#cf4c74,#da5a6a,#e56a5d,#ed7a52,#f58b47,#fa9b3d,#fdab33,#feba2c,#fdc627,#fcd225,#f9dd25,#f6e626,#f3f027,#f1f525,#f0f921,#f0f724,#f2f227,#f5e926,#f8df25,#fbd524,#fdc627,#feb72d,#fca338,#f79044,#ed7a52,#e16462,#d24f71,#c13b82,#b12a90,#a21d9a,#9511a1,#8b0aa5,#8405a7,#8004a8,#7d03a8,#7b02a8,#7b02a8,#7d03a8,#7d03a8,#7e03a8,#7d03a8,#7d03a8,#7a02a8,#7701a8,#7201a8)"></i><i class="s" style="top:154.91px;background:linear-gradient(90deg,#6900a8,#6700a8,#6300a7,#5e01a6,#5b01a5,#5601a4,#5302a3,#5102a3,#5102a3,#5601a4,#5c01a6,#6900a8,#7701a8,#8606a6,#9410a2,#a01a9c,#ad2793,#b83289,#c43e7f,#cf4c74,#da5b69,#e56a5d,#ed7a52,#f58b47,#fa9b3d,#fdab33,#feba2c,#fdc627,#fbd324,#f9dd25,#f6e826,#f3f027,#f0f724,#f0f921,#f0f921,#f2f227,#f5eb27,#f8e125,#fbd524,#fdc627,#feb72d,#fca338,#f79044,#ed7a52,#e16462,#d24f71,#c23c81,#b22b8f,#a21d9a,#9511a1,#8b0aa5,#8405a7,#8004a8,#7e03a8,#7d03a8,#7d03a8,#7e03a8,#7e03a8,#7e03a8,#7e03a8,#7d03a8,#7a02a8,#7501a8,#7201a8)"></i><i class="s" style="top:162.29px;background:linear-gradient(90deg,#6700a8,#6600a7,#6300a7,#5e01a6,#5901a5,#5601a4,#5302a3,#5102a3,#5302a3,#5601a4,#5e01a6,#6a00a8,#7801a8,#8707a6,#9410a2,#a11b9b,#ad2793,#b83289,#c5407e,#d04d73,#da5b69,#e56a5d,#ed7a52,#f58b47,#fa9b3d,#fdab33,#feb82c,#fdc527,#fcd025,#f9dc24,#f7e425,#f3ee27,#f1f426,#f0f724,#f0f724,#f2f227,#f5e926,#f8df25,#fbd324,#fdc527,#fdb52e,#fba238,#f68f44,#ed7953,#e06363,#d14e72,#c13b82,#b12a90,#a11b9b,#9410a2,#8a09a5,#8305a7,#8004a8,#7d03a8,#7d03a8,#7d03a8,#7e03a8,#7e03a8,#7e03a8,#7d03a8,#7b02a8,#7801a8,#7401a8,#7100a8)"></i><i class="s" style="top:169.66px;background:linear-gradient(90deg,#6600a7,#6400a7,#6100a7,#5c01a6,#5901a5,#5502a4,#5302a3,#5102a3,#5302a3,#5801a4,#6001a6,#6a00a8,#7a02a8,#8707a6,#9511a1,#a11b9b,#ad2793,#b83289,#c5407e,#d04d73,#da5b69,#e56a5d,#ed7a52,#f48948,#f99a3e,#fca835,#feb72d,#fdc229,#fccd25,#fbd724,#f8e125,#f5e926,#f3f027,#f1f426,#f2f227,#f3ee27,#f6e626,#f9dd25,#fcd225,#fdc328,#fdb22f,#fba139,#f58c46,#ec7754,#df6263,#d04d73,#bf3984,#ae2892,#9e199d,#910ea3,#8707a6,#8104a7,#7e03a8,#7d03a8,#7b02a8,#7d03a8,#7d03a8,#7d03a8,#7b02a8,#7b02a8,#7801a8,#7501a8,#7201a8,#6e00a8)"></i><i class="s" style="top:177.04px;background:linear-gradient(90deg,#6300a7,#6100a7,#5e01a6,#5b01a5,#5801a4,#5502a4,#5302a3,#5102a3,#5302a3,#5801a4,#6100a7,#6c00a8,#7a02a8,#8808a6,#9511a1,#a11b9b,#ac2694,#b83289,#c43e7f,#cf4c74,#da5b69,#e4695e,#ed7953,#f48849,#f9973f,#fca537,#fdb22f,#febe2a,#fdc827,#fcd225,#fada24,#f7e225,#f5e926,#f4ed27,#f4ed27,#f5e926,#f7e225,#fad824,#fccd25,#febe2a,#fdaf31,#fa9c3c,#f48948,#eb7556,#de5f65,#cd4a76,#bd3786,#ac2694,#9c179e,#8e0ca4,#8405a7,#7e03a8,#7b02a8,#7a02a8,#7a02a8,#7a02a8,#7a02a8,#7a02a8,#7801a8,#7701a8,#7501a8,#7201a8,#6e00a8,#6a00a8)"></i><i class="s" style="top:184.42px;background:linear-gradient(90deg,#5e01a6,#5c01a6,#5b01a5,#5801a4,#5502a4,#5302a3,#5302a3,#5302a3,#5502a4,#5901a5,#6300a7,#6e00a8,#7b02a8,#8808a6,#9511a1,#a11b9b,#ac2694,#b7318a,#c33d80,#ce4b75,#d9586a,#e3685f,#eb7655,#f2844b,#f89441,#fba238,#fdaf31,#feba2c,#fdc527,#fccd25,#fbd524,#f9dc24,#f7e225,#f6e626,#f6e626,#f8e125,#f9dc24,#fcd225,#fdc627,#feba2c,#fdab33,#f9983e,#f3854b,#e97158,#db5c68,#cb4679,#ba3388,#a82296,#99159f,#8b0aa5,#8104a7,#7b02a8,#7801a8,#7701a8,#7501a8,#7701a8,#7701a8,#7501a8,#7501a8,#7201a8,#7100a8,#6e00a8,#6a00a8,#6700a8)"></i><i class="s" style="top:191.79px;background:linear-gradient(90deg,#5901a5,#5801a4,#5601a4,#5502a4,#5302a3,#5102a3,#5102a3,#5302a3,#5601a4,#5c01a6,#6400a7,#6f00a8,#7d03a8,#8a09a5,#9511a1,#a01a9c,#ab2494,#b6308b,#c13b82,#cc4977,#d7566c,#e16462,#e97257,#f1814d,#f79044,#fa9e3b,#fdab33,#fdb52e,#febe2a,#fdc627,#fcce25,#fbd524,#fada24,#f9dd25,#f9dc24,#fad824,#fcd225,#fdca26,#fec029,#fdb22f,#fca338,#f79342,#f0804e,#e66c5c,#d8576b,#c8437b,#b6308b,#a51f99,#9511a1,#8808a6,#7e03a8,#7801a8,#7401a8,#7201a8,#7201a8,#7201a8,#7201a8,#7201a8,#6f00a8,#6e00a8,#6a00a8,#6700a8,#6600a7,#6400a7)"></i><i class="s" style="top:199.17px;background:linear-gradient(90deg,#5502a4,#5302a3,#5102a3,#5002a2,#5002a2,#5002a2,#5102a3,#5302a3,#5801a4,#5c01a6,#6400a7,#7100a8,#7d03a8,#8808a6,#9410a2,#9e199d,#a82296,#b42e8d,#bf3984,#cb4679,#d5546e,#de6164,#e76f5a,#ef7c51,#f58b47,#f9983e,#fca537,#fdaf31,#feb82c,#fec029,#fdc627,#fccd25,#fcd025,#fcd225,#fcd225,#fccd25,#fdc827,#fec029,#fdb52e,#fdab33,#fa9c3c,#f58c46,#ed7a52,#e26660,#d5536f,#c43e7f,#b22b8f,#a11b9b,#920fa3,#8606a6,#7b02a8,#7401a8,#6f00a8,#6e00a8,#6c00a8,#6e00a8,#6e00a8,#6c00a8,#6a00a8,#6700a8,#6400a7,#6300a7,#6100a7,#6100a7)"></i><i class="s" style="top:206.55px;background:linear-gradient(90deg,#5002a2,#4e02a2,#4c02a1,#4c02a1,#4c02a1,#4e02a2,#5002a2,#5302a3,#5601a4,#5c01a6,#6400a7,#6f00a8,#7b02a8,#8808a6,#920fa3,#9c179e,#a62098,#b12a90,#bc3587,#c8437b,#d35171,#dc5d67,#e56b5d,#ed7953,#f3854b,#f79342,#fa9e3b,#fca835,#fdaf31,#feb72d,#febd2a,#fdc229,#fdc527,#fdc627,#fdc527,#fdc229,#febb2b,#fdb42f,#fdab33,#fb9f3a,#f79143,#f1834c,#e97158,#de5f65,#ce4b75,#be3885,#ac2694,#9c179e,#8d0ba5,#8104a7,#7801a8,#7100a8,#6a00a8,#6900a8,#6700a8,#6900a8,#6900a8,#6700a8,#6400a7,#6100a7,#5e01a6,#5c01a6,#5b01a5,#5c01a6)"></i><i class="s" style="top:213.92px;background:linear-gradient(90deg,#4b03a1,#4903a0,#48039f,#4903a0,#4903a0,#4c02a1,#4e02a2,#5102a3,#5502a4,#5901a5,#6100a7,#6e00a8,#7a02a8,#8606a6,#8f0da4,#99159f,#a21d9a,#ad2793,#b83289,#c43e7f,#cf4c74,#da5a6a,#e3685f,#eb7556,#f0804e,#f58b47,#f89441,#fa9e3b,#fca537,#fdab33,#fdb130,#fdb42f,#feb72d,#feb82c,#feb72d,#fdb42f,#fdae32,#fca636,#fa9e3b,#f79342,#f3854b,#ec7754,#e26660,#d6556d,#c7427c,#b6308b,#a51f99,#9511a1,#8707a6,#7d03a8,#7201a8,#6c00a8,#6600a7,#6400a7,#6300a7,#6300a7,#6300a7,#6100a7,#6001a6,#5c01a6,#5901a5,#5601a4,#5601a4,#5801a4)"></i><i class="s" style="top:221.30px;background:linear-gradient(90deg,#46039f,#44039e,#44039e,#44039e,#48039f,#4903a0,#4c02a1,#4e02a2,#5102a3,#5601a4,#5e01a6,#6900a8,#7701a8,#8305a7,#8d0ba5,#9511a1,#9e199d,#a82296,#b42e8d,#c03a83,#cc4778,#d6556d,#e06363,#e76f5a,#ed7a52,#f1834c,#f58b47,#f79143,#f9983e,#fa9e3b,#fba238,#fca636,#fca835,#fca934,#fca835,#fca537,#fb9f3a,#f9983e,#f79044,#f3854b,#ed7953,#e56a5d,#da5b69,#cd4a76,#bf3984,#ae2892,#9d189d,#8e0ca4,#8104a7,#7701a8,#6e00a8,#6700a8,#6300a7,#6001a6,#5e01a6,#5e01a6,#5e01a6,#5c01a6,#5901a5,#5601a4,#5302a3,#5102a3,#5102a3,#5102a3)"></i><i class="s" style="top:228.68px;background:linear-gradient(90deg,#41049d,#3f049c,#41049d,#41049d,#44039e,#48039f,#4903a0,#4b03a1,#4e02a2,#5102a3,#5901a5,#6600a7,#7201a8,#7e03a8,#8808a6,#8f0da4,#99159f,#a21d9a,#ae2892,#bb3488,#c7427c,#d14e72,#db5c68,#e26660,#e87059,#ec7754,#f07f4f,#f2844b,#f58b47,#f68f44,#f79342,#f9973f,#f9983e,#f9983e,#f9983e,#f89441,#f79044,#f48948,#f1814d,#ec7754,#e56b5d,#dc5d67,#d14e72,#c43e7f,#b52f8c,#a51f99,#9511a1,#8707a6,#7a02a8,#6f00a8,#6700a8,#6100a7,#5e01a6,#5b01a5,#5901a5,#5901a5,#5801a4,#5601a4,#5302a3,#5002a2,#4e02a2,#4c02a1,#4b03a1,#4b03a1)"></i><i class="s" style="top:236.05px;background:linear-gradient(90deg,#3e049c,#3c049b,#3e049c,#3f049c,#41049d,#44039e,#48039f,#4903a0,#4b03a1,#4e02a2,#5601a4,#6100a7,#6e00a8,#7a02a8,#8305a7,#8a09a5,#920fa3,#9d189d,#a82296,#b42e8d,#c03a83,#cb4679,#d45270,#db5c68,#e16462,#e56b5d,#e97158,#ec7754,#ee7b51,#f0804e,#f2844b,#f3874a,#f48849,#f48849,#f3874a,#f2844b,#f0804e,#ed7a52,#e97257,#e4695e,#dd5e66,#d45270,#c8437b,#bc3587,#ac2694,#9c179e,#8d0ba5,#7e03a8,#7201a8,#6900a8,#6300a7,#5c01a6,#5901a5,#5601a4,#5502a4,#5302a3,#5102a3,#5002a2,#4c02a1,#4b03a1,#48039f,#46039f,#44039e,#44039e)"></i><i class="s" style="top:243.43px;background:linear-gradient(90deg,#3a049a,#38049a,#3a049a,#3c049b,#3f049c,#43039e,#44039e,#46039f,#48039f,#4b03a1,#5102a3,#5c01a6,#6900a8,#7401a8,#7d03a8,#8405a7,#8b0aa5,#9511a1,#a11b9b,#ac2694,#b7318a,#c23c81,#cb4679,#d24f71,#d8576b,#dd5e66,#e06363,#e4695e,#e76e5b,#e97158,#ea7457,#eb7655,#ec7754,#ec7754,#eb7655,#ea7457,#e76f5a,#e56a5d,#e06363,#da5b69,#d35171,#ca457a,#bf3984,#b22b8f,#a31e9a,#9410a2,#8405a7,#7701a8,#6c00a8,#6300a7,#5c01a6,#5801a4,#5502a4,#5102a3,#5002a2,#4e02a2,#4b03a1,#4903a0,#48039f,#44039e,#41049d,#3f049c,#3f049c,#3f049c)"></i><i class="s" style="top:250.81px;background:linear-gradient(90deg,#370499,#370499,#38049a,#3a049a,#3e049c,#3f049c,#43039e,#44039e,#44039e,#48039f,#4e02a2,#5801a4,#6400a7,#6f00a8,#7701a8,#7e03a8,#8405a7,#8e0ca4,#9814a0,#a21d9a,#ad2793,#b6308b,#bf3984,#c7427c,#cc4977,#d24f71,#d6556d,#da5a6a,#dd5e66,#df6263,#e16462,#e26660,#e26660,#e26660,#e26561,#e06363,#dd5e66,#da5a6a,#d5546e,#cf4c74,#c8437b,#c03a83,#b52f8c,#a82296,#9a169f,#8a09a5,#7b02a8,#6f00a8,#6400a7,#5c01a6,#5801a4,#5302a3,#5002a2,#4c02a1,#4b03a1,#48039f,#46039f,#43039e,#41049d,#3e049c,#3c049b,#3a049a,#38049a,#38049a)"></i><i class="s" style="top:258.18px;background:linear-gradient(90deg,#330597,#330597,#350498,#38049a,#3a049a,#3e049c,#3f049c,#41049d,#43039e,#46039f,#4b03a1,#5502a4,#6001a6,#6900a8,#7100a8,#7701a8,#7d03a8,#8606a6,#8f0da4,#99159f,#a21d9a,#ab2494,#b32c8e,#ba3388,#c03a83,#c6417d,#cb4679,#ce4b75,#d14e72,#d45270,#d5546e,#d6556d,#d7566c,#d6556d,#d5546e,#d45270,#d14e72,#cd4a76,#c9447a,#c33d80,#bc3587,#b32c8e,#aa2395,#9d189d,#8f0da4,#8104a7,#7201a8,#6700a8,#5e01a6,#5801a4,#5302a3,#4e02a2,#4b03a1,#4903a0,#46039f,#43039e,#41049d,#3e049c,#3c049b,#38049a,#370499,#350498,#330597,#330597)"></i><i class="s" style="top:265.56px;background:linear-gradient(90deg,#2f0596,#310597,#330597,#350498,#38049a,#3c049b,#3e049c,#3f049c,#41049d,#43039e,#4903a0,#5102a3,#5b01a5,#6300a7,#6a00a8,#7100a8,#7701a8,#7d03a8,#8606a6,#8e0ca4,#9814a0,#a01a9c,#a62098,#ad2793,#b32c8e,#b83289,#bd3786,#c03a83,#c33d80,#c5407e,#c7427c,#c8437b,#c9447a,#c9447a,#c7427c,#c5407e,#c23c81,#bf3984,#ba3388,#b42e8d,#ad2793,#a62098,#9c179e,#910ea3,#8405a7,#7701a8,#6a00a8,#6100a7,#5901a5,#5302a3,#5002a2,#4c02a1,#4903a0,#46039f,#43039e,#3f049c,#3c049b,#3a049a,#370499,#330597,#310597,#2f0596,#2e0595,#2e0595)"></i><i class="s" style="top:272.94px;background:linear-gradient(90deg,#2e0595,#2e0595,#2f0596,#330597,#350498,#38049a,#3a049a,#3c049b,#3e049c,#41049d,#46039f,#4e02a2,#5601a4,#5e01a6,#6400a7,#6900a8,#6f00a8,#7501a8,#7d03a8,#8405a7,#8b0aa5,#920fa3,#99159f,#a01a9c,#a51f99,#aa2395,#ae2892,#b12a90,#b32c8e,#b42e8d,#b6308b,#b7318a,#b83289,#b83289,#b7318a,#b52f8c,#b22b8f,#ae2892,#aa2395,#a51f99,#9e199d,#9613a1,#8d0ba5,#8305a7,#7701a8,#6c00a8,#6300a7,#5b01a5,#5502a4,#5002a2,#4c02a1,#4903a0,#46039f,#43039e,#3f049c,#3c049b,#38049a,#350498,#330597,#2f0596,#2e0595,#2c0594,#2a0593,#2a0593)"></i><i class="s" style="top:280.31px;background:linear-gradient(90deg,#2c0594,#2c0594,#2e0595,#2f0596,#330597,#350498,#38049a,#3a049a,#3c049b,#3f049c,#44039e,#4903a0,#5102a3,#5801a4,#5e01a6,#6300a7,#6700a8,#6e00a8,#7401a8,#7a02a8,#8004a8,#8707a6,#8d0ba5,#920fa3,#9613a1,#9a169f,#9d189d,#a01a9c,#a11b9b,#a21d9a,#a31e9a,#a51f99,#a62098,#a62098,#a51f99,#a21d9a,#a01a9c,#9c179e,#9814a0,#9410a2,#8d0ba5,#8606a6,#7d03a8,#7401a8,#6a00a8,#6100a7,#5b01a5,#5502a4,#5002a2,#4c02a1,#4903a0,#48039f,#44039e,#41049d,#3e049c,#3a049a,#350498,#310597,#2f0596,#2c0594,#2a0593,#280592,#280592,#260591)"></i><i class="s" style="top:287.69px;background:linear-gradient(90deg,#2a0593,#2a0593,#2c0594,#2e0595,#310597,#330597,#370499,#38049a,#3a049a,#3e049c,#41049d,#46039f,#4c02a1,#5302a3,#5801a4,#5c01a6,#6001a6,#6400a7,#6a00a8,#6f00a8,#7501a8,#7b02a8,#8004a8,#8405a7,#8808a6,#8b0aa5,#8d0ba5,#8d0ba5,#8e0ca4,#8e0ca4,#8f0da4,#910ea3,#920fa3,#920fa3,#910ea3,#8f0da4,#8d0ba5,#8a09a5,#8606a6,#8104a7,#7b02a8,#7501a8,#6c00a8,#6400a7,#5e01a6,#5801a4,#5302a3,#4e02a2,#4b03a1,#4903a0,#46039f,#44039e,#43039e,#3f049c,#3c049b,#370499,#330597,#2f0596,#2c0594,#2a0593,#280592,#260591,#260591,#240691)"></i><i class="s" style="top:295.07px;background:linear-gradient(90deg,#280592,#2a0593,#2c0594,#2e0595,#2f0596,#310597,#350498,#370499,#38049a,#3c049b,#3f049c,#43039e,#48039f,#4c02a1,#5102a3,#5601a4,#5901a5,#5e01a6,#6100a7,#6600a7,#6a00a8,#6f00a8,#7401a8,#7701a8,#7a02a8,#7b02a8,#7b02a8,#7b02a8,#7b02a8,#7b02a8,#7b02a8,#7d03a8,#7e03a8,#7e03a8,#7e03a8,#7d03a8,#7a02a8,#7701a8,#7401a8,#7100a8,#6c00a8,#6600a7,#5e01a6,#5801a4,#5302a3,#5002a2,#4c02a1,#4903a0,#48039f,#44039e,#43039e,#41049d,#3f049c,#3c049b,#38049a,#350498,#2f0596,#2e0595,#2a0593,#280592,#260591,#260591,#240691,#240691)"></i><i class="s" style="top:302.44px;background:linear-gradient(90deg,#2a0593,#2a0593,#2c0594,#2e0595,#2f0596,#310597,#330597,#350498,#370499,#3a049a,#3c049b,#3f049c,#43039e,#48039f,#4b03a1,#5002a2,#5302a3,#5601a4,#5901a5,#5c01a6,#6001a6,#6300a7,#6600a7,#6900a8,#6a00a8,#6a00a8,#6c00a8,#6c00a8,#6a00a8,#6a00a8,#6a00a8,#6c00a8,#6c00a8,#6c00a8,#6c00a8,#6a00a8,#6900a8,#6600a7,#6400a7,#6100a7,#5c01a6,#5801a4,#5302a3,#4e02a2,#4b03a1,#4903a0,#46039f,#44039e,#41049d,#3f049c,#3e049c,#3c049b,#3c049b,#38049a,#350498,#310597,#2e0595,#2a0593,#280592,#260591,#260591,#240691,#240691,#240691)"></i><i class="s" style="top:309.82px;background:linear-gradient(90deg,#2a0593,#2c0594,#2e0595,#2f0596,#310597,#310597,#330597,#350498,#370499,#370499,#38049a,#3c049b,#3e049c,#41049d,#44039e,#4903a0,#4c02a1,#5002a2,#5302a3,#5502a4,#5601a4,#5801a4,#5901a5,#5901a5,#5b01a5,#5c01a6,#5e01a6,#5e01a6,#5e01a6,#5e01a6,#5e01a6,#5e01a6,#5e01a6,#5e01a6,#5e01a6,#5c01a6,#5b01a5,#5801a4,#5601a4,#5302a3,#5102a3,#4e02a2,#4c02a1,#4903a0,#48039f,#44039e,#41049d,#3f049c,#3c049b,#3a049a,#38049a,#370499,#350498,#330597,#310597,#2e0595,#2a0593,#280592,#260591,#260591,#260591,#260591,#260591,#260591)"></i></div><div class="hm" style="left:1276.70px;top:39.60px;width:440.20px;height:317.20px"><i class="s0" style="top:-7.38px;background:linear-gradient(90deg,#6900a8,#6a00a8,#6a00a8,#6e00a8,#6f00a8,#7201a8,#7501a8,#7801a8,#7b02a8,#7e03a8,#8004a8,#8104a7,#8405a7,#8606a6,#8808a6,#8b0aa5,#8f0da4,#910ea3,#9410a2,#9511a1,#9613a1,#9814a0,#99159f,#99159f,#9a169f,#9c179e,#9d189d,#9d189d,#9e199d,#9e199d,#9e199d,#9e199d,#9e199d,#9e199d,#9e199d,#9e199d,#9d189d,#9d189d,#9c179e,#9a169f,#99159f,#9814a0,#9511a1,#9410a2,#910ea3,#8f0da4,#8e0ca4,#8b0aa5,#8a09a5,#8808a6,#8606a6,#8405a7,#8104a7,#8004a8,#7e03a8,#7d03a8,#7a02a8,#7801a8,#7501a8,#7201a8,#6f00a8,#6c00a8,#6900a8,#6700a8)"></i><i class="s" style="top:0.00px;background:linear-gradient(90deg,#6900a8,#6900a8,#6900a8,#6a00a8,#6c00a8,#6f00a8,#7201a8,#7501a8,#7801a8,#7b02a8,#7e03a8,#8104a7,#8305a7,#8606a6,#8808a6,#8b0aa5,#8e0ca4,#910ea3,#9511a1,#9814a0,#9c179e,#9e199d,#a11b9b,#a21d9a,#a31e9a,#a51f99,#a62098,#a72197,#a82296,#a82296,#aa2395,#aa2395,#aa2395,#aa2395,#aa2395,#aa2395,#aa2395,#a82296,#a72197,#a62098,#a51f99,#a31e9a,#a21d9a,#a01a9c,#9d189d,#9a169f,#9814a0,#9511a1,#910ea3,#8e0ca4,#8b0aa5,#8808a6,#8606a6,#8405a7,#8104a7,#8004a8,#7d03a8,#7b02a8,#7801a8,#7401a8,#7100a8,#6c00a8,#6900a8,#6700a8)"></i><i class="s" style="top:7.38px;background:linear-gradient(90deg,#6600a7,#6600a7,#6600a7,#6700a8,#6900a8,#6a00a8,#6e00a8,#7100a8,#7501a8,#7801a8,#7d03a8,#8004a8,#8305a7,#8606a6,#8808a6,#8b0aa5,#8f0da4,#9410a2,#9814a0,#9d189d,#a11b9b,#a51f99,#a72197,#aa2395,#ac2694,#ad2793,#b02991,#b12a90,#b12a90,#b22b8f,#b22b8f,#b32c8e,#b32c8e,#b32c8e,#b32c8e,#b32c8e,#b32c8e,#b22b8f,#b12a90,#b02991,#ae2892,#ad2793,#ac2694,#aa2395,#a72197,#a31e9a,#a11b9b,#9d189d,#99159f,#9511a1,#910ea3,#8e0ca4,#8a09a5,#8707a6,#8606a6,#8305a7,#8004a8,#7e03a8,#7a02a8,#7701a8,#7100a8,#6e00a8,#6900a8,#6600a7)"></i><i class="s" style="top:14.75px;background:linear-gradient(90deg,#6100a7,#6100a7,#6100a7,#6300a7,#6300a7,#6600a7,#6900a8,#6c00a8,#7100a8,#7501a8,#7a02a8,#7e03a8,#8305a7,#8707a6,#8a09a5,#8e0ca4,#920fa3,#9814a0,#9d189d,#a21d9a,#a72197,#ab2494,#ae2892,#b12a90,#b32c8e,#b52f8c,#b6308b,#b7318a,#b83289,#ba3388,#ba3388,#bb3488,#bb3488,#bb3488,#bb3488,#bb3488,#bb3488,#ba3388,#b83289,#b7318a,#b6308b,#b52f8c,#b42e8d,#b22b8f,#b02991,#ac2694,#a82296,#a51f99,#a11b9b,#9d189d,#9814a0,#9410a2,#8f0da4,#8b0aa5,#8808a6,#8606a6,#8305a7,#8004a8,#7d03a8,#7801a8,#7201a8,#6e00a8,#6900a8,#6600a7)"></i><i class="s" style="top:22.13px;background:linear-gradient(90deg,#5c01a6,#5c01a6,#5c01a6,#5c01a6,#5e01a6,#6001a6,#6300a7,#6700a8,#6c00a8,#7100a8,#7701a8,#7d03a8,#8305a7,#8707a6,#8d0ba5,#920fa3,#9814a0,#9d189d,#a21d9a,#a82296,#ad2793,#b12a90,#b42e8d,#b7318a,#ba3388,#bc3587,#bd3786,#be3885,#bf3984,#c03a83,#c13b82,#c13b82,#c13b82,#c23c81,#c23c81,#c13b82,#c13b82,#c03a83,#c03a83,#bf3984,#be3885,#bd3786,#bb3488,#b83289,#b6308b,#b32c8e,#b02991,#ac2694,#a82296,#a31e9a,#a01a9c,#9a169f,#9511a1,#8f0da4,#8a09a5,#8707a6,#8405a7,#8104a7,#7e03a8,#7a02a8,#7401a8,#6e00a8,#6900a8,#6600a7)"></i><i class="s" style="top:29.51px;background:linear-gradient(90deg,#5601a4,#5601a4,#5601a4,#5601a4,#5801a4,#5901a5,#5c01a6,#6100a7,#6700a8,#6e00a8,#7401a8,#7a02a8,#8104a7,#8808a6,#8f0da4,#9613a1,#9d189d,#a31e9a,#aa2395,#ae2892,#b42e8d,#b7318a,#bb3488,#be3885,#c03a83,#c23c81,#c33d80,#c43e7f,#c5407e,#c6417d,#c6417d,#c7427c,#c7427c,#c8437b,#c7427c,#c7427c,#c7427c,#c6417d,#c5407e,#c5407e,#c43e7f,#c23c81,#c13b82,#bf3984,#bd3786,#ba3388,#b6308b,#b32c8e,#b02991,#ab2494,#a62098,#a11b9b,#9a169f,#920fa3,#8d0ba5,#8808a6,#8606a6,#8305a7,#7e03a8,#7a02a8,#7201a8,#6c00a8,#6700a8,#6400a7)"></i><i class="s" style="top:36.88px;background:linear-gradient(90deg,#5002a2,#5002a2,#5002a2,#5002a2,#5102a3,#5302a3,#5801a4,#5c01a6,#6300a7,#6900a8,#7100a8,#7801a8,#8004a8,#8808a6,#910ea3,#9a169f,#a21d9a,#aa2395,#b02991,#b52f8c,#bb3488,#be3885,#c13b82,#c43e7f,#c6417d,#c8437b,#c9447a,#ca457a,#cb4679,#cc4778,#cc4977,#cc4977,#cc4977,#cc4977,#cc4977,#cc4977,#cc4977,#cc4778,#cb4679,#ca457a,#c9447a,#c8437b,#c7427c,#c5407e,#c23c81,#c03a83,#bd3786,#ba3388,#b6308b,#b22b8f,#ad2793,#a62098,#9e199d,#9613a1,#8f0da4,#8a09a5,#8606a6,#8104a7,#7d03a8,#7701a8,#7100a8,#6a00a8,#6400a7,#6001a6)"></i><i class="s" style="top:44.26px;background:linear-gradient(90deg,#4b03a1,#4b03a1,#4b03a1,#4b03a1,#4c02a1,#4e02a2,#5302a3,#5801a4,#5c01a6,#6400a7,#6c00a8,#7501a8,#8004a8,#8a09a5,#9410a2,#9e199d,#a72197,#b02991,#b6308b,#bc3587,#c13b82,#c5407e,#c8437b,#ca457a,#cc4778,#cd4a76,#cf4c74,#d14e72,#d24f71,#d35171,#d35171,#d35171,#d35171,#d35171,#d35171,#d35171,#d24f71,#d14e72,#d14e72,#d04d73,#ce4b75,#cd4a76,#cc4977,#ca457a,#c8437b,#c5407e,#c23c81,#bf3984,#bc3587,#b7318a,#b32c8e,#ac2694,#a31e9a,#9a169f,#910ea3,#8a09a5,#8405a7,#8004a8,#7a02a8,#7401a8,#6c00a8,#6400a7,#5e01a6,#5901a5)"></i><i class="s" style="top:51.64px;background:linear-gradient(90deg,#46039f,#46039f,#46039f,#48039f,#48039f,#4b03a1,#4e02a2,#5302a3,#5801a4,#6001a6,#6900a8,#7201a8,#7e03a8,#8a09a5,#9511a1,#a11b9b,#ab2494,#b42e8d,#bc3587,#c23c81,#c7427c,#cb4679,#cd4a76,#d04d73,#d24f71,#d45270,#d7566c,#da5b69,#dd5e66,#de5f65,#dc5d67,#db5c68,#da5b69,#da5b69,#da5a6a,#da5a6a,#d9586a,#d8576b,#d7566c,#d6556d,#d5546e,#d45270,#d24f71,#d04d73,#cd4a76,#cb4679,#c8437b,#c43e7f,#c13b82,#bd3786,#b7318a,#b02991,#a72197,#9d189d,#9410a2,#8b0aa5,#8305a7,#7d03a8,#7501a8,#6c00a8,#6400a7,#5c01a6,#5502a4,#5102a3)"></i><i class="s" style="top:59.01px;background:linear-gradient(90deg,#43039e,#43039e,#44039e,#44039e,#46039f,#48039f,#4b03a1,#4e02a2,#5302a3,#5b01a5,#6400a7,#7100a8,#7d03a8,#8a09a5,#9613a1,#a31e9a,#ae2892,#b83289,#c03a83,#c7427c,#cc4977,#d04d73,#d35171,#d5546e,#d7566c,#da5b69,#df6263,#e56a5d,#e87059,#e97158,#e76f5a,#e56b5d,#e4695e,#e4695e,#e4695e,#e3685f,#e26660,#e16462,#df6263,#de5f65,#dc5d67,#da5b69,#d8576b,#d5546e,#d35171,#cf4c74,#cc4977,#c9447a,#c5407e,#c03a83,#bb3488,#b32c8e,#aa2395,#a01a9c,#9511a1,#8b0aa5,#8104a7,#7801a8,#6f00a8,#6600a7,#5b01a5,#5302a3,#4b03a1,#46039f)"></i><i class="s" style="top:66.39px;background:linear-gradient(90deg,#41049d,#41049d,#43039e,#43039e,#44039e,#46039f,#48039f,#4b03a1,#5102a3,#5801a4,#6300a7,#6f00a8,#7d03a8,#8a09a5,#9814a0,#a51f99,#b12a90,#bc3587,#c43e7f,#cc4778,#d14e72,#d5536f,#d8576b,#da5a6a,#dc5d67,#df6263,#e56a5d,#eb7556,#ef7e50,#f1814d,#f07f4f,#ef7c51,#ee7b51,#ef7c51,#ef7c51,#ed7a52,#ec7754,#eb7556,#e97158,#e76e5b,#e4695e,#e26561,#de6164,#db5c68,#d7566c,#d45270,#d04d73,#cc4977,#c8437b,#c33d80,#bd3786,#b52f8c,#ac2694,#a21d9a,#9814a0,#8d0ba5,#8104a7,#7701a8,#6a00a8,#6001a6,#5502a4,#4b03a1,#43039e,#3e049c)"></i><i class="s" style="top:73.77px;background:linear-gradient(90deg,#41049d,#41049d,#41049d,#43039e,#44039e,#46039f,#48039f,#4b03a1,#5002a2,#5801a4,#6300a7,#6f00a8,#7d03a8,#8b0aa5,#9a169f,#a72197,#b42e8d,#be3885,#c7427c,#ce4b75,#d5536f,#d8576b,#db5c68,#dd5e66,#df6263,#e26561,#e76e5b,#ec7754,#f1814d,#f48849,#f58b47,#f68d45,#f79044,#f79143,#f79143,#f79044,#f58c46,#f48849,#f1834c,#ef7c51,#eb7655,#e87059,#e4695e,#e06363,#db5c68,#d7566c,#d35171,#cf4c74,#cb4679,#c6417d,#bf3984,#b7318a,#b02991,#a51f99,#9a169f,#8e0ca4,#8305a7,#7701a8,#6a00a8,#5e01a6,#5102a3,#48039f,#3f049c,#3a049a)"></i><i class="s" style="top:81.14px;background:linear-gradient(90deg,#41049d,#43039e,#43039e,#43039e,#44039e,#46039f,#4903a0,#4c02a1,#5302a3,#5b01a5,#6400a7,#7201a8,#8004a8,#8e0ca4,#9d189d,#aa2395,#b6308b,#c13b82,#ca457a,#d14e72,#d6556d,#da5b69,#dd5e66,#de6164,#e06363,#e26660,#e66c5c,#eb7556,#f07f4f,#f48849,#f79044,#f9973f,#fa9e3b,#fba238,#fba238,#fba139,#fa9c3c,#f9983e,#f79342,#f58c46,#f2844b,#ee7b51,#e97257,#e4695e,#de6164,#da5a6a,#d5546e,#d14e72,#cc4977,#c7427c,#c13b82,#ba3388,#b12a90,#a72197,#9d189d,#910ea3,#8606a6,#7a02a8,#6e00a8,#6100a7,#5502a4,#4b03a1,#41049d,#3c049b)"></i><i class="s" style="top:88.52px;background:linear-gradient(90deg,#44039e,#44039e,#44039e,#46039f,#48039f,#4903a0,#4c02a1,#5002a2,#5601a4,#5e01a6,#6900a8,#7501a8,#8305a7,#910ea3,#a01a9c,#ac2694,#b83289,#c33d80,#cc4778,#d24f71,#d8576b,#db5c68,#de5f65,#df6263,#e16462,#e26660,#e56b5d,#e97257,#ef7c51,#f3874a,#f79044,#f99a3e,#fba139,#fca636,#fca835,#fca835,#fca636,#fca338,#fba139,#f99a3e,#f79143,#f3874a,#ed7a52,#e76f5a,#e16462,#db5c68,#d6556d,#d24f71,#cd4a76,#c9447a,#c33d80,#bc3587,#b32c8e,#aa2395,#a01a9c,#9511a1,#8b0aa5,#8004a8,#7401a8,#6700a8,#5c01a6,#5102a3,#48039f,#43039e)"></i><i class="s" style="top:95.90px;background:linear-gradient(90deg,#48039f,#48039f,#48039f,#4903a0,#4b03a1,#4c02a1,#5002a2,#5502a4,#5b01a5,#6300a7,#6e00a8,#7a02a8,#8707a6,#9511a1,#a21d9a,#b02991,#bb3488,#c5407e,#cd4a76,#d45270,#d9586a,#dc5d67,#de5f65,#de5f65,#de6164,#e26561,#e56a5d,#e97158,#ed7a52,#f2844b,#f68d45,#f9973f,#fa9c3c,#fba139,#fca338,#fca537,#fca835,#fca934,#fdab33,#fca636,#fb9f3a,#f79143,#f1834c,#ea7457,#e3685f,#dd5e66,#d7566c,#d35171,#ce4b75,#ca457a,#c43e7f,#bd3786,#b42e8d,#ac2694,#a21d9a,#99159f,#8f0da4,#8606a6,#7b02a8,#6f00a8,#6400a7,#5901a5,#5102a3,#4b03a1)"></i><i class="s" style="top:103.27px;background:linear-gradient(90deg,#4e02a2,#4e02a2,#4e02a2,#4e02a2,#4e02a2,#5002a2,#5302a3,#5801a4,#5e01a6,#6600a7,#7100a8,#7d03a8,#8a09a5,#9814a0,#a62098,#b32c8e,#be3885,#c7427c,#cf4c74,#d5546e,#da5b69,#dd5e66,#dd5e66,#d9586a,#d8576b,#de6164,#e56a5d,#e97158,#ed7a52,#f2844b,#f58c46,#f79342,#f9973f,#fa9b3d,#fa9e3b,#fba238,#fca835,#fdae32,#fdb42f,#fdb22f,#fdab33,#fa9c3c,#f58b47,#ed7953,#e56a5d,#de5f65,#d8576b,#d45270,#cf4c74,#cb4679,#c5407e,#be3885,#b52f8c,#ad2793,#a51f99,#9c179e,#920fa3,#8a09a5,#8104a7,#7701a8,#6c00a8,#6300a7,#5b01a5,#5601a4)"></i><i class="s" style="top:110.65px;background:linear-gradient(90deg,#5502a4,#5502a4,#5502a4,#5302a3,#5502a4,#5502a4,#5801a4,#5b01a5,#6001a6,#6700a8,#7201a8,#8004a8,#8d0ba5,#9c179e,#a82296,#b52f8c,#c13b82,#ca457a,#d14e72,#d7566c,#dc5d67,#de6164,#dc5d67,#d5546e,#d45270,#dd5e66,#e56b5d,#ea7457,#f07f4f,#f48948,#f79044,#f89441,#f89540,#f9973f,#fa9b3d,#fba139,#fca835,#fdb22f,#feba2c,#febb2b,#fdb52e,#fca636,#f79143,#ef7e50,#e76e5b,#df6263,#d9586a,#d5536f,#d04d73,#cb4679,#c5407e,#bf3984,#b7318a,#ae2892,#a62098,#9e199d,#9613a1,#8e0ca4,#8405a7,#7b02a8,#7401a8,#6a00a8,#6400a7,#6100a7)"></i><i class="s" style="top:118.03px;background:linear-gradient(90deg,#5c01a6,#5c01a6,#5b01a5,#5901a5,#5901a5,#5901a5,#5b01a5,#5e01a6,#6300a7,#6a00a8,#7501a8,#8104a7,#8f0da4,#9e199d,#ac2694,#b7318a,#c33d80,#cc4778,#d35171,#d9586a,#de5f65,#e06363,#e06363,#dc5d67,#db5c68,#e16462,#e66c5c,#ec7754,#f3854b,#f89441,#fa9c3c,#fa9b3d,#f9983e,#f9983e,#fa9b3d,#fba139,#fca934,#fdb42f,#febd2a,#fec029,#febb2b,#fdac33,#f9983e,#f1814d,#e87059,#e06363,#da5a6a,#d5546e,#d04d73,#cc4778,#c6417d,#bf3984,#b83289,#b12a90,#a82296,#a11b9b,#99159f,#910ea3,#8a09a5,#8305a7,#7b02a8,#7501a8,#7100a8,#6e00a8)"></i><i class="s" style="top:125.40px;background:linear-gradient(90deg,#6400a7,#6300a7,#6100a7,#6001a6,#6001a6,#5e01a6,#5e01a6,#6100a7,#6400a7,#6c00a8,#7701a8,#8405a7,#920fa3,#a11b9b,#ae2892,#ba3388,#c43e7f,#cd4a76,#d5536f,#da5b69,#de6164,#e26660,#e4695e,#e4695e,#e3685f,#e3685f,#e4695e,#eb7556,#f68d45,#fca338,#fdac33,#fca636,#fa9e3b,#f99a3e,#fa9b3d,#fba139,#fca835,#fdb22f,#febb2b,#fec029,#febb2b,#fdaf31,#fa9b3d,#f2844b,#e97158,#e16462,#da5b69,#d5546e,#d14e72,#cc4778,#c6417d,#c03a83,#ba3388,#b32c8e,#ac2694,#a51f99,#9e199d,#9814a0,#910ea3,#8a09a5,#8606a6,#8104a7,#7e03a8,#7d03a8)"></i><i class="s" style="top:132.78px;background:linear-gradient(90deg,#6a00a8,#6900a8,#6700a8,#6600a7,#6400a7,#6300a7,#6300a7,#6400a7,#6700a8,#6f00a8,#7a02a8,#8707a6,#9511a1,#a31e9a,#b02991,#bc3587,#c5407e,#cd4a76,#d5536f,#da5b69,#df6263,#e3685f,#e56b5d,#e76e5b,#e66c5c,#e26660,#de6164,#e76f5a,#f79143,#fdb22f,#febb2b,#fdaf31,#fba139,#fa9b3d,#fa9b3d,#fb9f3a,#fca537,#fdae32,#feb72d,#febb2b,#feba2c,#fdaf31,#fa9e3b,#f3874a,#e97257,#e16462,#da5b69,#d5546e,#d14e72,#cc4977,#c7427c,#c23c81,#bc3587,#b6308b,#b12a90,#ab2494,#a51f99,#a01a9c,#9a169f,#9511a1,#920fa3,#8f0da4,#8d0ba5,#8b0aa5)"></i><i class="s" style="top:140.16px;background:linear-gradient(90deg,#6f00a8,#6e00a8,#6c00a8,#6a00a8,#6900a8,#6700a8,#6600a7,#6700a8,#6a00a8,#7100a8,#7d03a8,#8a09a5,#9814a0,#a51f99,#b12a90,#bc3587,#c5407e,#cd4a76,#d5536f,#da5b69,#e06363,#e4695e,#e76f5a,#e97257,#e97257,#e66c5c,#e26660,#eb7556,#f9973f,#feb72d,#febe2a,#fdb22f,#fba238,#fa9b3d,#f99a3e,#fa9c3c,#fba238,#fca934,#fdb130,#fdb52e,#feb72d,#fdaf31,#fa9e3b,#f48849,#ea7457,#e16462,#da5b69,#d5546e,#d14e72,#cc4977,#c8437b,#c33d80,#be3885,#b83289,#b42e8d,#b02991,#ab2494,#a72197,#a31e9a,#a01a9c,#9d189d,#9a169f,#99159f,#99159f)"></i><i class="s" style="top:147.53px;background:linear-gradient(90deg,#7201a8,#7201a8,#6f00a8,#6e00a8,#6c00a8,#6900a8,#6900a8,#6900a8,#6c00a8,#7401a8,#7e03a8,#8b0aa5,#99159f,#a62098,#b22b8f,#bc3587,#c5407e,#cc4977,#d5536f,#da5b69,#e06363,#e56b5d,#ea7457,#ed7a52,#ef7c51,#ee7b51,#ed7a52,#f2844b,#fa9b3d,#fdb130,#feb82c,#fdae32,#fba139,#f99a3e,#f9983e,#fa9b3d,#fb9f3a,#fca636,#fdae32,#fdb42f,#fdb52e,#fdaf31,#fb9f3a,#f48849,#ea7457,#e16462,#da5b69,#d5546e,#d14e72,#cc4977,#c8437b,#c43e7f,#bf3984,#bb3488,#b6308b,#b32c8e,#b02991,#ac2694,#aa2395,#a72197,#a51f99,#a21d9a,#a11b9b,#a01a9c)"></i><i class="s" style="top:154.91px;background:linear-gradient(90deg,#7401a8,#7201a8,#7100a8,#6f00a8,#6c00a8,#6a00a8,#6900a8,#6900a8,#6c00a8,#7401a8,#7e03a8,#8b0aa5,#99159f,#a62098,#b22b8f,#bc3587,#c5407e,#cc4977,#d45270,#da5b69,#e06363,#e66c5c,#ec7754,#f0804e,#f3854b,#f3874a,#f48849,#f68f44,#fa9b3d,#fca835,#fdaf31,#fca934,#fb9f3a,#f99a3e,#f9983e,#fa9b3d,#fb9f3a,#fca636,#fdae32,#fdb52e,#feb72d,#fdb130,#fba139,#f48948,#ea7457,#e26561,#da5b69,#d5546e,#d14e72,#cc4977,#c8437b,#c43e7f,#bf3984,#bb3488,#b6308b,#b32c8e,#b02991,#ad2793,#aa2395,#a72197,#a31e9a,#a11b9b,#9e199d,#9d189d)"></i><i class="s" style="top:162.29px;background:linear-gradient(90deg,#7201a8,#7201a8,#6f00a8,#6e00a8,#6a00a8,#6900a8,#6700a8,#6700a8,#6a00a8,#7201a8,#7d03a8,#8a09a5,#9814a0,#a51f99,#b12a90,#bb3488,#c43e7f,#cc4977,#d45270,#da5b69,#e06363,#e66c5c,#ec7754,#f0804e,#f3854b,#f3874a,#f48948,#f68f44,#f9973f,#fba139,#fca835,#fca636,#fb9f3a,#fa9b3d,#f99a3e,#fa9c3c,#fba139,#fca934,#fdb22f,#feba2c,#febb2b,#fdb42f,#fba139,#f48948,#eb7556,#e26561,#db5c68,#d6556d,#d14e72,#cc4977,#c8437b,#c33d80,#be3885,#b83289,#b42e8d,#b02991,#ac2694,#a82296,#a51f99,#a01a9c,#9c179e,#9814a0,#9410a2,#920fa3)"></i><i class="s" style="top:169.66px;background:linear-gradient(90deg,#7100a8,#6f00a8,#6c00a8,#6a00a8,#6700a8,#6600a7,#6400a7,#6600a7,#6900a8,#6f00a8,#7a02a8,#8707a6,#9511a1,#a31e9a,#ae2892,#ba3388,#c33d80,#cc4778,#d45270,#da5a6a,#e06363,#e56a5d,#e97257,#ed7a52,#ef7c51,#f07f4f,#f1814d,#f3854b,#f68d45,#f9983e,#fca338,#fca537,#fb9f3a,#fa9b3d,#f99a3e,#fa9c3c,#fca338,#fdac33,#feb72d,#febe2a,#fec029,#fdb52e,#fba238,#f48948,#eb7556,#e26561,#db5c68,#d6556d,#d14e72,#cc4977,#c7427c,#c23c81,#bc3587,#b6308b,#b02991,#ab2494,#a62098,#a11b9b,#9c179e,#9511a1,#8f0da4,#8808a6,#8405a7,#8104a7)"></i><i class="s" style="top:177.04px;background:linear-gradient(90deg,#6c00a8,#6a00a8,#6900a8,#6600a7,#6400a7,#6300a7,#6100a7,#6100a7,#6600a7,#6c00a8,#7701a8,#8405a7,#920fa3,#a11b9b,#ad2793,#b7318a,#c23c81,#cb4679,#d35171,#d9586a,#de6164,#e3685f,#e66c5c,#e97158,#ea7457,#eb7556,#ec7754,#ed7a52,#f0804e,#f68d45,#f99a3e,#fb9f3a,#fa9c3c,#f99a3e,#f99a3e,#fa9c3c,#fca338,#fdae32,#feb82c,#fec029,#fec029,#fdb42f,#fb9f3a,#f48849,#ea7457,#e26561,#db5c68,#d5546e,#d14e72,#cc4778,#c6417d,#c03a83,#ba3388,#b32c8e,#ac2694,#a62098,#9e199d,#9814a0,#910ea3,#8808a6,#8004a8,#7801a8,#7201a8,#6e00a8)"></i><i class="s" style="top:184.42px;background:linear-gradient(90deg,#6700a8,#6600a7,#6400a7,#6300a7,#6001a6,#5e01a6,#5e01a6,#5e01a6,#6100a7,#6900a8,#7401a8,#8104a7,#8f0da4,#9d189d,#aa2395,#b52f8c,#c03a83,#c9447a,#d14e72,#d8576b,#dd5e66,#e16462,#e3685f,#e56a5d,#e66c5c,#e76e5b,#e76f5a,#e87059,#e97257,#f07f4f,#f79044,#f9983e,#f9983e,#f9983e,#f99a3e,#fa9c3c,#fba238,#fdac33,#fdb52e,#febb2b,#feba2c,#fdae32,#fa9b3d,#f3854b,#e97257,#e16462,#da5b69,#d5546e,#d04d73,#cb4679,#c5407e,#bf3984,#b83289,#b12a90,#aa2395,#a11b9b,#99159f,#910ea3,#8707a6,#7d03a8,#7201a8,#6a00a8,#6300a7,#5e01a6)"></i><i class="s" style="top:191.79px;background:linear-gradient(90deg,#6100a7,#6100a7,#6001a6,#5c01a6,#5b01a5,#5901a5,#5901a5,#5b01a5,#5e01a6,#6600a7,#7100a8,#7e03a8,#8d0ba5,#9a169f,#a72197,#b32c8e,#bd3786,#c7427c,#cf4c74,#d6556d,#db5c68,#df6263,#e16462,#e26660,#e3685f,#e4695e,#e56a5d,#e4695e,#e56a5d,#eb7655,#f48948,#f89441,#f9983e,#f99a3e,#fa9b3d,#fa9e3b,#fba238,#fca835,#fdaf31,#fdb22f,#fdaf31,#fca537,#f79342,#f0804e,#e76f5a,#df6263,#d9586a,#d45270,#ce4b75,#ca457a,#c43e7f,#be3885,#b7318a,#b02991,#a72197,#9e199d,#9511a1,#8a09a5,#7e03a8,#7401a8,#6700a8,#5e01a6,#5601a4,#5102a3)"></i><i class="s" style="top:199.17px;background:linear-gradient(90deg,#5b01a5,#5b01a5,#5901a5,#5801a4,#5601a4,#5502a4,#5502a4,#5601a4,#5b01a5,#6100a7,#6e00a8,#7b02a8,#8a09a5,#9814a0,#a51f99,#b02991,#bb3488,#c43e7f,#cc4977,#d45270,#da5a6a,#dd5e66,#df6263,#e06363,#e26561,#e26660,#e4695e,#e4695e,#e56a5d,#ec7754,#f48948,#f89540,#fa9b3d,#fb9f3a,#fba139,#fba139,#fba238,#fca338,#fca636,#fca636,#fba238,#f9983e,#f48948,#ed7a52,#e56b5d,#de5f65,#d7566c,#d24f71,#cd4a76,#c8437b,#c23c81,#bc3587,#b52f8c,#ae2892,#a51f99,#9c179e,#8f0da4,#8405a7,#7701a8,#6a00a8,#5e01a6,#5502a4,#4c02a1,#48039f)"></i><i class="s" style="top:206.55px;background:linear-gradient(90deg,#5502a4,#5502a4,#5302a3,#5102a3,#5102a3,#5002a2,#5002a2,#5302a3,#5801a4,#6001a6,#6a00a8,#7801a8,#8707a6,#9511a1,#a21d9a,#ad2793,#b83289,#c23c81,#cb4679,#d24f71,#d8576b,#db5c68,#de5f65,#df6263,#e06363,#e26561,#e4695e,#e66c5c,#e97158,#ef7e50,#f68d45,#f99a3e,#fba238,#fca636,#fca636,#fca537,#fca338,#fba139,#fb9f3a,#fa9b3d,#f89540,#f58c46,#f0804e,#e97257,#e26660,#db5c68,#d5546e,#d04d73,#cc4778,#c6417d,#c13b82,#bb3488,#b32c8e,#ab2494,#a21d9a,#9613a1,#8a09a5,#7d03a8,#6f00a8,#6300a7,#5601a4,#4c02a1,#46039f,#41049d)"></i><i class="s" style="top:213.92px;background:linear-gradient(90deg,#4e02a2,#4c02a1,#4c02a1,#4b03a1,#4b03a1,#4b03a1,#4c02a1,#4e02a2,#5502a4,#5c01a6,#6700a8,#7501a8,#8405a7,#920fa3,#a01a9c,#ac2694,#b6308b,#c13b82,#ca457a,#d14e72,#d6556d,#da5b69,#dd5e66,#de6164,#e06363,#e26561,#e4695e,#e76f5a,#ec7754,#f1834c,#f79044,#fa9b3d,#fca338,#fca835,#fca835,#fca537,#fba139,#fa9b3d,#f9973f,#f79044,#f48948,#f0804e,#eb7655,#e66c5c,#df6263,#d9586a,#d45270,#ce4b75,#ca457a,#c43e7f,#bf3984,#b7318a,#b12a90,#a72197,#9d189d,#910ea3,#8305a7,#7501a8,#6700a8,#5b01a5,#5002a2,#48039f,#41049d,#3e049c)"></i><i class="s" style="top:221.30px;background:linear-gradient(90deg,#48039f,#48039f,#46039f,#46039f,#44039e,#46039f,#48039f,#4b03a1,#5102a3,#5901a5,#6600a7,#7201a8,#8104a7,#8f0da4,#9d189d,#aa2395,#b42e8d,#bf3984,#c7427c,#ce4b75,#d5536f,#d9586a,#db5c68,#de5f65,#df6263,#e16462,#e3685f,#e76e5b,#eb7655,#f07f4f,#f48948,#f79342,#f99a3e,#fa9e3b,#fa9e3b,#fa9b3d,#f9973f,#f79044,#f58b47,#f2844b,#ef7e50,#eb7655,#e76e5b,#e26561,#dc5d67,#d6556d,#d14e72,#cc4977,#c8437b,#c23c81,#bc3587,#b52f8c,#ad2793,#a31e9a,#9814a0,#8a09a5,#7d03a8,#6e00a8,#6100a7,#5502a4,#4c02a1,#44039e,#3f049c,#3c049b)"></i><i class="s" style="top:228.68px;background:linear-gradient(90deg,#43039e,#43039e,#41049d,#41049d,#41049d,#43039e,#44039e,#4903a0,#5002a2,#5801a4,#6300a7,#7100a8,#7e03a8,#8b0aa5,#99159f,#a62098,#b12a90,#bc3587,#c43e7f,#cc4778,#d14e72,#d6556d,#d9586a,#db5c68,#de5f65,#df6263,#e26561,#e56a5d,#e76f5a,#eb7655,#ef7e50,#f1834c,#f48849,#f58b47,#f58b47,#f48948,#f3854b,#f0804e,#ee7b51,#eb7655,#e97158,#e56b5d,#e26561,#dd5e66,#d8576b,#d45270,#ce4b75,#ca457a,#c6417d,#c03a83,#ba3388,#b32c8e,#aa2395,#a01a9c,#9410a2,#8606a6,#7801a8,#6a00a8,#5e01a6,#5302a3,#4b03a1,#44039e,#3f049c,#3e049c)"></i><i class="s" style="top:236.05px;background:linear-gradient(90deg,#41049d,#3f049c,#3f049c,#3e049c,#3e049c,#3f049c,#43039e,#48039f,#4e02a2,#5801a4,#6100a7,#6e00a8,#7a02a8,#8707a6,#9410a2,#a11b9b,#ac2694,#b6308b,#bf3984,#c7427c,#cc4977,#d24f71,#d5546e,#d8576b,#da5b69,#dc5d67,#de6164,#e06363,#e26660,#e56b5d,#e76f5a,#e97257,#eb7556,#eb7655,#eb7655,#eb7556,#ea7457,#e87059,#e76e5b,#e56a5d,#e26660,#df6263,#dc5d67,#d9586a,#d5536f,#d04d73,#cc4977,#c8437b,#c33d80,#be3885,#b7318a,#b02991,#a72197,#9d189d,#910ea3,#8405a7,#7801a8,#6c00a8,#6001a6,#5601a4,#4e02a2,#48039f,#43039e,#41049d)"></i><i class="s" style="top:243.43px;background:linear-gradient(90deg,#41049d,#3f049c,#3e049c,#3e049c,#3e049c,#3f049c,#43039e,#48039f,#4e02a2,#5601a4,#6001a6,#6a00a8,#7701a8,#8305a7,#8e0ca4,#9a169f,#a51f99,#b02991,#b83289,#c03a83,#c7427c,#cc4778,#d04d73,#d45270,#d6556d,#d8576b,#da5a6a,#db5c68,#dd5e66,#de6164,#e06363,#e16462,#e26561,#e26660,#e26660,#e26561,#e26561,#e06363,#df6263,#de5f65,#dc5d67,#da5a6a,#d7566c,#d45270,#d14e72,#cc4977,#c9447a,#c5407e,#c03a83,#bb3488,#b42e8d,#ad2793,#a51f99,#9c179e,#910ea3,#8707a6,#7b02a8,#7100a8,#6600a7,#5c01a6,#5502a4,#4c02a1,#48039f,#46039f)"></i><i class="s" style="top:250.81px;background:linear-gradient(90deg,#41049d,#41049d,#3f049c,#3e049c,#3e049c,#3f049c,#43039e,#48039f,#5002a2,#5601a4,#6001a6,#6900a8,#7201a8,#7d03a8,#8808a6,#920fa3,#9d189d,#a72197,#b02991,#b83289,#bf3984,#c5407e,#ca457a,#cd4a76,#d14e72,#d35171,#d5536f,#d6556d,#d7566c,#d8576b,#d9586a,#da5a6a,#da5b69,#da5b69,#da5b69,#da5b69,#da5a6a,#da5a6a,#d9586a,#d8576b,#d6556d,#d5536f,#d24f71,#cf4c74,#cc4977,#c9447a,#c5407e,#c13b82,#bd3786,#b7318a,#b12a90,#aa2395,#a21d9a,#9a169f,#920fa3,#8808a6,#8004a8,#7501a8,#6c00a8,#6400a7,#5b01a5,#5502a4,#5002a2,#4b03a1)"></i><i class="s" style="top:258.18px;background:linear-gradient(90deg,#43039e,#41049d,#41049d,#3f049c,#3f049c,#41049d,#44039e,#4b03a1,#5002a2,#5801a4,#6001a6,#6700a8,#7100a8,#7a02a8,#8305a7,#8d0ba5,#9613a1,#a01a9c,#a82296,#b12a90,#b7318a,#be3885,#c33d80,#c8437b,#cb4679,#cd4a76,#cf4c74,#d14e72,#d24f71,#d35171,#d45270,#d5536f,#d5536f,#d5536f,#d5536f,#d5536f,#d45270,#d45270,#d35171,#d24f71,#d04d73,#ce4b75,#cc4977,#ca457a,#c7427c,#c43e7f,#c03a83,#bc3587,#b7318a,#b22b8f,#ac2694,#a62098,#a01a9c,#99159f,#910ea3,#8a09a5,#8305a7,#7b02a8,#7201a8,#6a00a8,#6300a7,#5b01a5,#5601a4,#5302a3)"></i><i class="s" style="top:265.56px;background:linear-gradient(90deg,#44039e,#43039e,#43039e,#43039e,#43039e,#44039e,#48039f,#4c02a1,#5302a3,#5901a5,#6001a6,#6700a8,#6f00a8,#7701a8,#7e03a8,#8707a6,#8f0da4,#99159f,#a11b9b,#a82296,#b12a90,#b6308b,#bc3587,#c13b82,#c5407e,#c8437b,#ca457a,#cc4778,#cc4977,#ce4b75,#cf4c74,#cf4c74,#d04d73,#d04d73,#cf4c74,#cf4c74,#ce4b75,#ce4b75,#cd4a76,#cc4977,#cb4679,#c9447a,#c7427c,#c43e7f,#c13b82,#be3885,#ba3388,#b52f8c,#b12a90,#ac2694,#a62098,#a11b9b,#9a169f,#9511a1,#8f0da4,#8808a6,#8305a7,#7d03a8,#7501a8,#6f00a8,#6700a8,#6100a7,#5c01a6,#5901a5)"></i><i class="s" style="top:272.94px;background:linear-gradient(90deg,#46039f,#46039f,#44039e,#44039e,#46039f,#48039f,#4b03a1,#5002a2,#5601a4,#5b01a5,#6100a7,#6700a8,#6e00a8,#7501a8,#7b02a8,#8305a7,#8b0aa5,#920fa3,#9a169f,#a21d9a,#aa2395,#b02991,#b52f8c,#ba3388,#be3885,#c13b82,#c43e7f,#c6417d,#c8437b,#c9447a,#ca457a,#cb4679,#cc4778,#cb4679,#cb4679,#ca457a,#c9447a,#c8437b,#c7427c,#c6417d,#c5407e,#c33d80,#c03a83,#be3885,#bb3488,#b6308b,#b32c8e,#ae2892,#aa2395,#a51f99,#a01a9c,#9a169f,#9511a1,#910ea3,#8b0aa5,#8707a6,#8104a7,#7d03a8,#7701a8,#7100a8,#6c00a8,#6700a8,#6300a7,#6100a7)"></i><i class="s" style="top:280.31px;background:linear-gradient(90deg,#4903a0,#48039f,#48039f,#4903a0,#4903a0,#4c02a1,#5002a2,#5302a3,#5901a5,#5e01a6,#6300a7,#6900a8,#6f00a8,#7401a8,#7a02a8,#8104a7,#8707a6,#8e0ca4,#9511a1,#9c179e,#a31e9a,#a82296,#ae2892,#b32c8e,#b7318a,#bb3488,#bd3786,#c03a83,#c23c81,#c43e7f,#c5407e,#c6417d,#c6417d,#c6417d,#c5407e,#c43e7f,#c33d80,#c23c81,#c13b82,#bf3984,#be3885,#bc3587,#ba3388,#b6308b,#b32c8e,#ae2892,#ab2494,#a62098,#a11b9b,#9d189d,#9814a0,#9410a2,#8f0da4,#8b0aa5,#8707a6,#8305a7,#7e03a8,#7b02a8,#7701a8,#7201a8,#6e00a8,#6a00a8,#6700a8,#6600a7)"></i><i class="s" style="top:287.69px;background:linear-gradient(90deg,#4c02a1,#4c02a1,#4c02a1,#4c02a1,#4e02a2,#5102a3,#5502a4,#5801a4,#5c01a6,#6100a7,#6600a7,#6a00a8,#6f00a8,#7401a8,#7a02a8,#8004a8,#8606a6,#8b0aa5,#910ea3,#9814a0,#9d189d,#a21d9a,#a72197,#ac2694,#b02991,#b32c8e,#b6308b,#b83289,#bc3587,#be3885,#bf3984,#c03a83,#c03a83,#c03a83,#bf3984,#be3885,#bc3587,#bb3488,#ba3388,#b7318a,#b52f8c,#b42e8d,#b12a90,#ae2892,#ab2494,#a72197,#a21d9a,#9e199d,#99159f,#9511a1,#910ea3,#8e0ca4,#8a09a5,#8707a6,#8405a7,#8004a8,#7d03a8,#7801a8,#7501a8,#7201a8,#6f00a8,#6e00a8,#6c00a8,#6a00a8)"></i><i class="s" style="top:295.07px;background:linear-gradient(90deg,#5002a2,#5002a2,#5102a3,#5102a3,#5302a3,#5601a4,#5901a5,#5c01a6,#6001a6,#6400a7,#6700a8,#6c00a8,#7100a8,#7501a8,#7a02a8,#7e03a8,#8405a7,#8808a6,#8e0ca4,#9410a2,#9814a0,#9d189d,#a11b9b,#a51f99,#a82296,#ac2694,#ae2892,#b22b8f,#b42e8d,#b6308b,#b7318a,#b83289,#b83289,#b83289,#b7318a,#b6308b,#b42e8d,#b32c8e,#b12a90,#ae2892,#ad2793,#ab2494,#a82296,#a62098,#a21d9a,#9e199d,#9a169f,#9613a1,#920fa3,#8e0ca4,#8b0aa5,#8808a6,#8606a6,#8305a7,#8004a8,#7d03a8,#7a02a8,#7701a8,#7401a8,#7201a8,#6f00a8,#6e00a8,#6e00a8,#6c00a8)"></i><i class="s" style="top:302.44px;background:linear-gradient(90deg,#5601a4,#5601a4,#5801a4,#5801a4,#5901a5,#5c01a6,#5e01a6,#6100a7,#6400a7,#6700a8,#6a00a8,#6e00a8,#7201a8,#7701a8,#7b02a8,#8004a8,#8405a7,#8707a6,#8b0aa5,#8f0da4,#9410a2,#9814a0,#9a169f,#9e199d,#a11b9b,#a51f99,#a72197,#aa2395,#ac2694,#ad2793,#ae2892,#b02991,#b02991,#b02991,#ae2892,#ac2694,#ab2494,#a82296,#a72197,#a51f99,#a31e9a,#a11b9b,#a01a9c,#9d189d,#99159f,#9613a1,#9410a2,#8f0da4,#8d0ba5,#8a09a5,#8707a6,#8405a7,#8305a7,#8004a8,#7e03a8,#7b02a8,#7801a8,#7701a8,#7401a8,#7201a8,#6f00a8,#6e00a8,#6c00a8,#6c00a8)"></i><i class="s" style="top:309.82px;background:linear-gradient(90deg,#5e01a6,#5e01a6,#5e01a6,#6001a6,#6100a7,#6300a7,#6400a7,#6600a7,#6700a8,#6a00a8,#6e00a8,#7100a8,#7401a8,#7701a8,#7b02a8,#8004a8,#8405a7,#8707a6,#8a09a5,#8d0ba5,#8f0da4,#920fa3,#9511a1,#9814a0,#9a169f,#9d189d,#9e199d,#a01a9c,#a11b9b,#a21d9a,#a31e9a,#a51f99,#a51f99,#a31e9a,#a21d9a,#a11b9b,#a01a9c,#9e199d,#9c179e,#9a169f,#99159f,#9613a1,#9511a1,#9410a2,#910ea3,#8f0da4,#8e0ca4,#8b0aa5,#8a09a5,#8808a6,#8606a6,#8405a7,#8104a7,#8004a8,#7e03a8,#7d03a8,#7a02a8,#7801a8,#7501a8,#7201a8,#6f00a8,#6c00a8,#6900a8,#6700a8)"></i></div><div class="hm" style="left:1276.70px;top:420.10px;width:440.20px;height:317.20px"><i class="s0" style="top:-7.38px;background:linear-gradient(90deg,#38049a,#38049a,#38049a,#38049a,#38049a,#38049a,#38049a,#38049a,#38049a,#38049a,#3a049a,#3a049a,#3c049b,#3e049c,#3e049c,#3f049c,#41049d,#43039e,#44039e,#46039f,#4903a0,#4b03a1,#4e02a2,#5002a2,#5102a3,#5302a3,#5502a4,#5601a4,#5601a4,#5601a4,#5601a4,#5601a4,#5601a4,#5601a4,#5601a4,#5601a4,#5601a4,#5601a4,#5601a4,#5601a4,#5502a4,#5102a3,#5002a2,#4e02a2,#4c02a1,#4b03a1,#4b03a1,#4903a0,#48039f,#44039e,#43039e,#3f049c,#3e049c,#3a049a,#38049a,#370499,#370499,#350498,#330597,#330597,#310597,#2f0596,#2f0596,#2e0595)"></i><i class="s" style="top:0.00px;background:linear-gradient(90deg,#370499,#370499,#350498,#350498,#350498,#350498,#370499,#38049a,#3a049a,#3c049b,#3e049c,#3f049c,#41049d,#43039e,#44039e,#46039f,#48039f,#4903a0,#4903a0,#4b03a1,#4b03a1,#4c02a1,#5002a2,#5102a3,#5302a3,#5502a4,#5601a4,#5601a4,#5801a4,#5801a4,#5801a4,#5801a4,#5901a5,#5901a5,#5b01a5,#5b01a5,#5b01a5,#5b01a5,#5b01a5,#5b01a5,#5901a5,#5901a5,#5601a4,#5502a4,#5102a3,#4e02a2,#4b03a1,#4903a0,#48039f,#48039f,#48039f,#46039f,#43039e,#3f049c,#3c049b,#3a049a,#38049a,#38049a,#370499,#350498,#330597,#310597,#310597,#2f0596)"></i><i class="s" style="top:7.38px;background:linear-gradient(90deg,#370499,#350498,#350498,#350498,#350498,#350498,#370499,#3a049a,#3c049b,#3f049c,#41049d,#41049d,#43039e,#46039f,#4903a0,#4c02a1,#5002a2,#5102a3,#5302a3,#5302a3,#5502a4,#5601a4,#5801a4,#5901a5,#5c01a6,#5e01a6,#6001a6,#6100a7,#6100a7,#6300a7,#6300a7,#6300a7,#6400a7,#6600a7,#6600a7,#6700a8,#6700a8,#6700a8,#6700a8,#6700a8,#6700a8,#6600a7,#6400a7,#6100a7,#5c01a6,#5801a4,#5502a4,#5102a3,#5002a2,#5002a2,#4e02a2,#4c02a1,#4903a0,#46039f,#43039e,#3f049c,#3e049c,#3c049b,#3a049a,#38049a,#370499,#350498,#330597,#310597)"></i><i class="s" style="top:14.75px;background:linear-gradient(90deg,#38049a,#370499,#370499,#370499,#370499,#370499,#38049a,#3c049b,#3e049c,#41049d,#43039e,#44039e,#46039f,#4903a0,#4e02a2,#5302a3,#5801a4,#5b01a5,#5c01a6,#6001a6,#6100a7,#6300a7,#6600a7,#6900a8,#6c00a8,#6e00a8,#6f00a8,#7100a8,#7201a8,#7401a8,#7401a8,#7501a8,#7501a8,#7701a8,#7801a8,#7801a8,#7a02a8,#7a02a8,#7a02a8,#7a02a8,#7801a8,#7701a8,#7501a8,#7201a8,#6e00a8,#6700a8,#6300a7,#5e01a6,#5c01a6,#5b01a5,#5901a5,#5601a4,#5302a3,#4e02a2,#4903a0,#46039f,#44039e,#41049d,#3f049c,#3c049b,#3a049a,#38049a,#370499,#350498)"></i><i class="s" style="top:22.13px;background:linear-gradient(90deg,#3a049a,#3a049a,#38049a,#38049a,#38049a,#3a049a,#3c049b,#3e049c,#3f049c,#43039e,#44039e,#46039f,#4903a0,#4c02a1,#5302a3,#5901a5,#6001a6,#6600a7,#6900a8,#6e00a8,#7100a8,#7401a8,#7701a8,#7b02a8,#7e03a8,#8104a7,#8305a7,#8606a6,#8707a6,#8808a6,#8808a6,#8a09a5,#8b0aa5,#8b0aa5,#8d0ba5,#8e0ca4,#8e0ca4,#8e0ca4,#8e0ca4,#8e0ca4,#8d0ba5,#8b0aa5,#8808a6,#8606a6,#8004a8,#7b02a8,#7501a8,#7100a8,#6c00a8,#6700a8,#6400a7,#6001a6,#5b01a5,#5601a4,#5102a3,#4e02a2,#4903a0,#46039f,#43039e,#3f049c,#3e049c,#3a049a,#3a049a,#38049a)"></i><i class="s" style="top:29.51px;background:linear-gradient(90deg,#3e049c,#3c049b,#3c049b,#3c049b,#3c049b,#3c049b,#3e049c,#3f049c,#41049d,#43039e,#46039f,#48039f,#4b03a1,#5002a2,#5801a4,#6001a6,#6700a8,#6f00a8,#7501a8,#7b02a8,#8104a7,#8606a6,#8a09a5,#8e0ca4,#920fa3,#9511a1,#9814a0,#9a169f,#9c179e,#9d189d,#9e199d,#a01a9c,#a11b9b,#a21d9a,#a21d9a,#a31e9a,#a31e9a,#a31e9a,#a31e9a,#a31e9a,#a21d9a,#a01a9c,#9d189d,#99159f,#9511a1,#8f0da4,#8808a6,#8305a7,#7d03a8,#7701a8,#7100a8,#6c00a8,#6600a7,#6001a6,#5b01a5,#5502a4,#5002a2,#4b03a1,#48039f,#43039e,#41049d,#3e049c,#3c049b,#3c049b)"></i><i class="s" style="top:36.88px;background:linear-gradient(90deg,#3f049c,#3f049c,#3f049c,#3f049c,#3f049c,#3f049c,#3f049c,#41049d,#43039e,#44039e,#46039f,#4903a0,#4e02a2,#5502a4,#5c01a6,#6600a7,#7100a8,#7a02a8,#8305a7,#8a09a5,#910ea3,#9613a1,#9c179e,#a11b9b,#a51f99,#a82296,#ab2494,#ae2892,#b02991,#b22b8f,#b32c8e,#b42e8d,#b52f8c,#b52f8c,#b6308b,#b6308b,#b7318a,#b7318a,#b7318a,#b6308b,#b52f8c,#b32c8e,#b02991,#ac2694,#a72197,#a21d9a,#9c179e,#9511a1,#8e0ca4,#8606a6,#7e03a8,#7701a8,#6f00a8,#6900a8,#6300a7,#5c01a6,#5601a4,#5002a2,#4b03a1,#46039f,#43039e,#41049d,#3f049c,#3e049c)"></i><i class="s" style="top:44.26px;background:linear-gradient(90deg,#41049d,#41049d,#41049d,#41049d,#41049d,#41049d,#41049d,#43039e,#44039e,#46039f,#48039f,#4c02a1,#5102a3,#5901a5,#6300a7,#6e00a8,#7801a8,#8305a7,#8d0ba5,#9613a1,#9e199d,#a51f99,#ab2494,#b12a90,#b52f8c,#b83289,#bc3587,#be3885,#c03a83,#c23c81,#c43e7f,#c5407e,#c6417d,#c6417d,#c7427c,#c7427c,#c8437b,#c8437b,#c8437b,#c8437b,#c6417d,#c33d80,#c03a83,#bc3587,#b7318a,#b32c8e,#ad2793,#a62098,#9d189d,#9410a2,#8a09a5,#8104a7,#7a02a8,#7201a8,#6a00a8,#6300a7,#5b01a5,#5302a3,#4c02a1,#48039f,#44039e,#43039e,#41049d,#3f049c)"></i><i class="s" style="top:51.64px;background:linear-gradient(90deg,#41049d,#41049d,#41049d,#41049d,#41049d,#41049d,#43039e,#43039e,#44039e,#48039f,#4b03a1,#5002a2,#5601a4,#5e01a6,#6700a8,#7401a8,#8004a8,#8b0aa5,#9613a1,#a01a9c,#a82296,#b12a90,#b6308b,#bd3786,#c13b82,#c5407e,#c9447a,#cb4679,#cd4a76,#cf4c74,#d14e72,#d24f71,#d35171,#d45270,#d5536f,#d5536f,#d5546e,#d5546e,#d5546e,#d5546e,#d45270,#d14e72,#cd4a76,#ca457a,#c5407e,#c03a83,#ba3388,#b22b8f,#aa2395,#a01a9c,#9613a1,#8d0ba5,#8305a7,#7a02a8,#7100a8,#6700a8,#6001a6,#5601a4,#5002a2,#4903a0,#46039f,#43039e,#41049d,#41049d)"></i><i class="s" style="top:59.01px;background:linear-gradient(90deg,#41049d,#41049d,#41049d,#41049d,#41049d,#41049d,#41049d,#43039e,#44039e,#48039f,#4c02a1,#5302a3,#5b01a5,#6400a7,#6f00a8,#7a02a8,#8707a6,#920fa3,#9d189d,#a72197,#b12a90,#b83289,#c03a83,#c6417d,#cc4778,#cf4c74,#d35171,#d5546e,#d7566c,#da5a6a,#db5c68,#dd5e66,#de6164,#de6164,#df6263,#e06363,#e06363,#e16462,#e16462,#e06363,#de6164,#dc5d67,#d9586a,#d5536f,#cf4c74,#ca457a,#c33d80,#bc3587,#b32c8e,#aa2395,#a01a9c,#9613a1,#8b0aa5,#8104a7,#7701a8,#6c00a8,#6300a7,#5901a5,#5102a3,#4b03a1,#46039f,#43039e,#41049d,#41049d)"></i><i class="s" style="top:66.39px;background:linear-gradient(90deg,#41049d,#41049d,#41049d,#41049d,#41049d,#41049d,#41049d,#43039e,#46039f,#4903a0,#5002a2,#5601a4,#6001a6,#6a00a8,#7501a8,#8104a7,#8d0ba5,#99159f,#a51f99,#ae2892,#b83289,#c13b82,#c8437b,#ce4b75,#d45270,#d8576b,#db5c68,#de5f65,#e06363,#e26561,#e4695e,#e66c5c,#e76f5a,#e87059,#e87059,#e97158,#e97158,#e97257,#ea7457,#e97257,#e87059,#e56b5d,#e26660,#de5f65,#d8576b,#d24f71,#cc4778,#c43e7f,#bc3587,#b32c8e,#aa2395,#9e199d,#9410a2,#8808a6,#7d03a8,#7100a8,#6600a7,#5c01a6,#5302a3,#4c02a1,#48039f,#43039e,#41049d,#3f049c)"></i><i class="s" style="top:73.77px;background:linear-gradient(90deg,#41049d,#41049d,#41049d,#41049d,#41049d,#41049d,#43039e,#43039e,#46039f,#4b03a1,#5102a3,#5b01a5,#6400a7,#7100a8,#7d03a8,#8808a6,#9410a2,#a01a9c,#ac2694,#b6308b,#c03a83,#c8437b,#cf4c74,#d5546e,#db5c68,#e06363,#e3685f,#e56b5d,#e76f5a,#e97257,#eb7655,#ed7a52,#ef7c51,#ef7e50,#ef7e50,#ef7e50,#f07f4f,#f0804e,#f1814d,#f0804e,#ef7e50,#ed7953,#e97257,#e56a5d,#df6263,#d9586a,#d24f71,#cb4679,#c33d80,#ba3388,#b12a90,#a62098,#9a169f,#8e0ca4,#8104a7,#7501a8,#6a00a8,#6001a6,#5601a4,#5002a2,#4903a0,#44039e,#41049d,#3f049c)"></i><i class="s" style="top:81.14px;background:linear-gradient(90deg,#43039e,#43039e,#43039e,#43039e,#43039e,#43039e,#44039e,#44039e,#48039f,#4c02a1,#5502a4,#5e01a6,#6a00a8,#7701a8,#8305a7,#8f0da4,#9c179e,#a72197,#b32c8e,#be3885,#c7427c,#cf4c74,#d6556d,#dd5e66,#e26660,#e76e5b,#e97257,#ec7754,#ed7a52,#f07f4f,#f1834c,#f3874a,#f48948,#f58b47,#f48948,#f48948,#f58b47,#f68d45,#f79044,#f68f44,#f58c46,#f3874a,#f07f4f,#eb7556,#e56b5d,#de6164,#d7566c,#d04d73,#c8437b,#c03a83,#b6308b,#ac2694,#a01a9c,#9410a2,#8606a6,#7a02a8,#6f00a8,#6400a7,#5c01a6,#5302a3,#4c02a1,#46039f,#41049d,#3e049c)"></i><i class="s" style="top:88.52px;background:linear-gradient(90deg,#46039f,#46039f,#46039f,#46039f,#46039f,#46039f,#46039f,#46039f,#4903a0,#5002a2,#5801a4,#6300a7,#6f00a8,#7b02a8,#8808a6,#9613a1,#a21d9a,#ae2892,#bb3488,#c5407e,#ce4b75,#d6556d,#dd5e66,#e4695e,#e97158,#ed7a52,#f07f4f,#f1834c,#f3854b,#f48948,#f79044,#f89441,#f9973f,#f9973f,#f89540,#f89441,#f89540,#f99a3e,#fa9c3c,#fa9e3b,#f99a3e,#f89441,#f58b47,#f07f4f,#e97257,#e3685f,#dc5d67,#d5536f,#cd4a76,#c5407e,#bc3587,#b22b8f,#a62098,#99159f,#8b0aa5,#8004a8,#7501a8,#6a00a8,#6100a7,#5901a5,#5002a2,#4903a0,#43039e,#3f049c)"></i><i class="s" style="top:95.90px;background:linear-gradient(90deg,#4903a0,#4903a0,#4903a0,#4903a0,#4903a0,#4903a0,#4903a0,#4903a0,#4c02a1,#5102a3,#5b01a5,#6600a7,#7401a8,#8104a7,#8f0da4,#9d189d,#aa2395,#b6308b,#c13b82,#cc4778,#d45270,#dc5d67,#e26660,#e97158,#ef7c51,#f2844b,#f48948,#f58c46,#f68f44,#f89441,#fa9b3d,#fba139,#fba238,#fba238,#fb9f3a,#fa9c3c,#fb9f3a,#fca537,#fca934,#fdac33,#fca934,#fba238,#f89540,#f48849,#ee7b51,#e76e5b,#df6263,#d8576b,#d14e72,#ca457a,#c13b82,#b6308b,#ab2494,#9e199d,#910ea3,#8606a6,#7b02a8,#7100a8,#6700a8,#5e01a6,#5601a4,#4c02a1,#46039f,#43039e)"></i><i class="s" style="top:103.27px;background:linear-gradient(90deg,#4b03a1,#4b03a1,#4b03a1,#4b03a1,#4b03a1,#4b03a1,#4c02a1,#4c02a1,#5002a2,#5601a4,#6001a6,#6a00a8,#7801a8,#8707a6,#9511a1,#a31e9a,#b12a90,#bd3786,#c7427c,#d04d73,#d9586a,#e06363,#e76e5b,#ed7a52,#f3854b,#f68f44,#f89441,#f89540,#f9973f,#fa9c3c,#fca537,#fdab33,#fdae32,#fdac33,#fca835,#fca338,#fca636,#fdaf31,#feb72d,#febb2b,#feb82c,#fdb130,#fba238,#f79143,#f1814d,#e97257,#e26660,#da5b69,#d5536f,#cd4a76,#c6417d,#bc3587,#b02991,#a31e9a,#9613a1,#8a09a5,#8004a8,#7701a8,#6e00a8,#6400a7,#5b01a5,#5302a3,#4c02a1,#48039f)"></i><i class="s" style="top:110.65px;background:linear-gradient(90deg,#4e02a2,#4e02a2,#4e02a2,#4e02a2,#4e02a2,#4e02a2,#5002a2,#5102a3,#5502a4,#5b01a5,#6400a7,#7100a8,#7e03a8,#8d0ba5,#9c179e,#aa2395,#b6308b,#c23c81,#cc4778,#d5536f,#dc5d67,#e3685f,#ea7457,#f0804e,#f68f44,#f99a3e,#fa9c3c,#fa9b3d,#fa9c3c,#fba238,#fdac33,#fdb52e,#feb82c,#fdb52e,#fdae32,#fca934,#fdae32,#feba2c,#fdc527,#fdcb26,#fdca26,#fec029,#fdaf31,#fa9b3d,#f48849,#ec7754,#e4695e,#dd5e66,#d6556d,#d04d73,#ca457a,#c03a83,#b52f8c,#a82296,#9a169f,#8f0da4,#8606a6,#7b02a8,#7201a8,#6a00a8,#6100a7,#5901a5,#5302a3,#5002a2)"></i><i class="s" style="top:118.03px;background:linear-gradient(90deg,#5102a3,#5102a3,#5102a3,#5102a3,#5102a3,#5102a3,#5302a3,#5502a4,#5901a5,#6001a6,#6900a8,#7501a8,#8305a7,#910ea3,#a11b9b,#b02991,#bc3587,#c7427c,#cf4c74,#d8576b,#de6164,#e56b5d,#ec7754,#f3874a,#f9973f,#fba238,#fba238,#fb9f3a,#fb9f3a,#fca636,#fdb42f,#febd2a,#fdc229,#febd2a,#fdb42f,#fdaf31,#fdb42f,#fdc328,#fcd225,#fada24,#fada24,#fcce25,#febb2b,#fca537,#f68f44,#ee7b51,#e66c5c,#de6164,#d9586a,#d35171,#cc4977,#c43e7f,#b83289,#ac2694,#a01a9c,#9410a2,#8a09a5,#8104a7,#7801a8,#6f00a8,#6700a8,#6001a6,#5b01a5,#5801a4)"></i><i class="s" style="top:125.40px;background:linear-gradient(90deg,#5601a4,#5601a4,#5601a4,#5601a4,#5601a4,#5601a4,#5801a4,#5901a5,#5e01a6,#6400a7,#6e00a8,#7a02a8,#8707a6,#9613a1,#a62098,#b42e8d,#c03a83,#cb4679,#d35171,#da5a6a,#e16462,#e76f5a,#ee7b51,#f58c46,#fb9f3a,#fca835,#fca338,#fa9e3b,#fb9f3a,#fca934,#feb82c,#fdc527,#fdc827,#fdc328,#feba2c,#fdb22f,#feb82c,#fdcb26,#f9dd25,#f5e926,#f5eb27,#f9dd25,#fdc627,#fdac33,#f89441,#f07f4f,#e76f5a,#e06363,#da5b69,#d5536f,#ce4b75,#c6417d,#bc3587,#b02991,#a31e9a,#99159f,#8e0ca4,#8606a6,#7e03a8,#7501a8,#6e00a8,#6700a8,#6100a7,#5e01a6)"></i><i class="s" style="top:132.78px;background:linear-gradient(90deg,#5c01a6,#5c01a6,#5c01a6,#5c01a6,#5c01a6,#5c01a6,#5c01a6,#5e01a6,#6100a7,#6700a8,#7100a8,#7e03a8,#8d0ba5,#9c179e,#ab2494,#b7318a,#c33d80,#cc4977,#d5536f,#db5c68,#e26660,#e97158,#f07f4f,#f79143,#fca537,#fdae32,#fba238,#f99a3e,#fa9e3b,#fdab33,#febd2a,#fdcb26,#fcce25,#fdc827,#febd2a,#fdb52e,#febd2a,#fcd225,#f6e826,#f1f525,#f0f724,#f5e926,#fcd025,#fdb22f,#f9983e,#f1814d,#e97158,#e26561,#db5c68,#d5546e,#cf4c74,#c7427c,#bd3786,#b22b8f,#a72197,#9d189d,#9410a2,#8d0ba5,#8405a7,#7d03a8,#7401a8,#6e00a8,#6700a8,#6400a7)"></i><i class="s" style="top:140.16px;background:linear-gradient(90deg,#6300a7,#6300a7,#6300a7,#6300a7,#6300a7,#6300a7,#6100a7,#6100a7,#6300a7,#6900a8,#7401a8,#8104a7,#910ea3,#a01a9c,#ae2892,#bb3488,#c6417d,#ce4b75,#d6556d,#dd5e66,#e3685f,#e97257,#f1814d,#f89540,#fdac33,#fdb52e,#fca934,#fa9e3b,#fb9f3a,#fdac33,#febe2a,#fcce25,#fbd324,#fccd25,#fec029,#feb72d,#febe2a,#fbd724,#f3ee27,#f0f921,#f0f921,#f3f027,#fbd524,#feb72d,#fa9b3d,#f2844b,#ea7457,#e3685f,#dc5d67,#d5546e,#cf4c74,#c7427c,#be3885,#b32c8e,#aa2395,#a11b9b,#99159f,#920fa3,#8a09a5,#8305a7,#7a02a8,#7201a8,#6c00a8,#6700a8)"></i><i class="s" style="top:147.53px;background:linear-gradient(90deg,#6700a8,#6700a8,#6900a8,#6900a8,#6900a8,#6700a8,#6600a7,#6400a7,#6600a7,#6a00a8,#7501a8,#8405a7,#9410a2,#a31e9a,#b12a90,#bd3786,#c7427c,#d04d73,#d7566c,#de5f65,#e4695e,#eb7556,#f1834c,#f9983e,#fdaf31,#febb2b,#fdb52e,#fca636,#fba238,#fdac33,#fec029,#fcd225,#fbd724,#fcce25,#fdc229,#feb82c,#fec029,#fad824,#f3f027,#f0f921,#f0f921,#f2f227,#fbd724,#feb82c,#fa9c3c,#f3854b,#eb7556,#e4695e,#dd5e66,#d5546e,#ce4b75,#c7427c,#be3885,#b42e8d,#ab2494,#a31e9a,#9d189d,#9613a1,#8e0ca4,#8707a6,#7e03a8,#7501a8,#6f00a8,#6a00a8)"></i><i class="s" style="top:154.91px;background:linear-gradient(90deg,#6a00a8,#6a00a8,#6c00a8,#6e00a8,#6e00a8,#6c00a8,#6900a8,#6700a8,#6700a8,#6c00a8,#7701a8,#8606a6,#9511a1,#a51f99,#b22b8f,#be3885,#c9447a,#d14e72,#d8576b,#de6164,#e56a5d,#eb7556,#f2844b,#f9983e,#fdb130,#febe2a,#feba2c,#fdac33,#fca338,#fdac33,#fdc229,#fcd225,#fbd724,#fcd025,#fdc229,#feb82c,#febe2a,#fbd724,#f3ee27,#f0f921,#f0f921,#f3ee27,#fbd524,#feb72d,#fa9b3d,#f3854b,#eb7556,#e4695e,#dd5e66,#d5546e,#ce4b75,#c7427c,#be3885,#b52f8c,#ad2793,#a51f99,#9e199d,#9814a0,#8f0da4,#8808a6,#8004a8,#7801a8,#7201a8,#6e00a8)"></i><i class="s" style="top:162.29px;background:linear-gradient(90deg,#6a00a8,#6c00a8,#6e00a8,#6f00a8,#6f00a8,#6e00a8,#6a00a8,#6900a8,#6900a8,#6e00a8,#7701a8,#8606a6,#9511a1,#a51f99,#b22b8f,#bf3984,#c9447a,#d24f71,#d9586a,#df6263,#e56b5d,#eb7655,#f2844b,#f9983e,#fdaf31,#febd2a,#feba2c,#fdac33,#fca338,#fdac33,#fec029,#fcd025,#fbd724,#fcce25,#fec029,#feb72d,#febb2b,#fcd025,#f6e626,#f1f426,#f1f426,#f6e626,#fcce25,#fdb22f,#f9983e,#f2844b,#ea7457,#e3685f,#dc5d67,#d5546e,#ce4b75,#c7427c,#bf3984,#b6308b,#ae2892,#a62098,#9e199d,#9613a1,#8f0da4,#8707a6,#8004a8,#7801a8,#7401a8,#6f00a8)"></i><i class="s" style="top:169.66px;background:linear-gradient(90deg,#6a00a8,#6c00a8,#6e00a8,#6e00a8,#6e00a8,#6e00a8,#6a00a8,#6900a8,#6900a8,#6c00a8,#7701a8,#8405a7,#9410a2,#a31e9a,#b22b8f,#be3885,#c9447a,#d24f71,#d9586a,#df6263,#e56b5d,#eb7556,#f1834c,#f89540,#fdab33,#feb82c,#fdb52e,#fca934,#fba238,#fdab33,#febe2a,#fccd25,#fcd225,#fdcb26,#febe2a,#fdb42f,#feb82c,#fdca26,#f9dc24,#f6e626,#f6e826,#fada24,#fdc527,#fdac33,#f89540,#f1814d,#e97158,#e26561,#da5b69,#d5536f,#ce4b75,#c7427c,#bf3984,#b6308b,#ae2892,#a51f99,#9d189d,#9410a2,#8d0ba5,#8405a7,#7e03a8,#7801a8,#7401a8,#7100a8)"></i><i class="s" style="top:177.04px;background:linear-gradient(90deg,#6900a8,#6a00a8,#6a00a8,#6c00a8,#6c00a8,#6a00a8,#6900a8,#6600a7,#6700a8,#6c00a8,#7501a8,#8305a7,#910ea3,#a11b9b,#b02991,#bd3786,#c8437b,#d14e72,#d8576b,#de6164,#e56a5d,#ea7457,#f0804e,#f79143,#fca537,#fdb130,#fdaf31,#fca636,#fba139,#fca934,#feba2c,#fdc827,#fccd25,#fdc627,#feba2c,#fdb130,#fdb42f,#fdc229,#fcd025,#fad824,#fbd724,#fccd25,#febb2b,#fca537,#f79044,#ef7e50,#e76e5b,#e06363,#da5a6a,#d45270,#cd4a76,#c7427c,#bf3984,#b6308b,#ad2793,#a31e9a,#9a169f,#910ea3,#8808a6,#8104a7,#7b02a8,#7501a8,#7100a8,#6f00a8)"></i><i class="s" style="top:184.42px;background:linear-gradient(90deg,#6700a8,#6700a8,#6700a8,#6700a8,#6700a8,#6600a7,#6400a7,#6300a7,#6400a7,#6900a8,#7201a8,#8004a8,#8f0da4,#9e199d,#ad2793,#bb3488,#c5407e,#ce4b75,#d6556d,#dd5e66,#e3685f,#e97257,#ef7e50,#f68d45,#fa9e3b,#fca835,#fca934,#fba238,#fa9e3b,#fca537,#fdb52e,#fdc229,#fdc527,#fec029,#fdb52e,#fdac33,#fdae32,#feba2c,#fdc328,#fdca26,#fdc827,#febe2a,#fdaf31,#fa9e3b,#f58b47,#ed7953,#e56b5d,#de5f65,#d8576b,#d35171,#cc4977,#c6417d,#be3885,#b42e8d,#aa2395,#a01a9c,#9613a1,#8e0ca4,#8606a6,#7e03a8,#7701a8,#7201a8,#6e00a8,#6a00a8)"></i><i class="s" style="top:191.79px;background:linear-gradient(90deg,#6600a7,#6600a7,#6400a7,#6300a7,#6100a7,#6001a6,#5e01a6,#5e01a6,#6001a6,#6600a7,#6f00a8,#7d03a8,#8d0ba5,#9c179e,#aa2395,#b6308b,#c23c81,#cc4778,#d45270,#da5b69,#e26561,#e76f5a,#ed7a52,#f48849,#f9973f,#fb9f3a,#fba139,#fa9c3c,#f99a3e,#fba139,#fdae32,#feb82c,#febb2b,#feb82c,#fdaf31,#fca835,#fca934,#fdb130,#feb82c,#febb2b,#feba2c,#fdb22f,#fca537,#f89540,#f2844b,#eb7556,#e3685f,#dc5d67,#d6556d,#d14e72,#cc4778,#c43e7f,#bb3488,#b12a90,#a62098,#9c179e,#920fa3,#8b0aa5,#8305a7,#7b02a8,#7401a8,#6e00a8,#6900a8,#6600a7)"></i><i class="s" style="top:199.17px;background:linear-gradient(90deg,#6300a7,#6100a7,#6001a6,#5e01a6,#5c01a6,#5901a5,#5801a4,#5801a4,#5b01a5,#6100a7,#6c00a8,#7a02a8,#8a09a5,#99159f,#a62098,#b32c8e,#be3885,#c8437b,#d04d73,#d8576b,#de6164,#e56b5d,#eb7556,#f1814d,#f68d45,#f89540,#f9983e,#f89540,#f89540,#fa9b3d,#fca537,#fdae32,#fdb22f,#fdaf31,#fca835,#fba238,#fca338,#fca934,#fdae32,#fdaf31,#fdac33,#fca537,#f99a3e,#f68d45,#ef7e50,#e87059,#e16462,#da5b69,#d5536f,#cf4c74,#c9447a,#c13b82,#b6308b,#ac2694,#a01a9c,#9613a1,#8e0ca4,#8707a6,#8004a8,#7801a8,#7100a8,#6900a8,#6400a7,#6001a6)"></i><i class="s" style="top:206.55px;background:linear-gradient(90deg,#5e01a6,#5c01a6,#5b01a5,#5801a4,#5601a4,#5502a4,#5302a3,#5502a4,#5801a4,#6001a6,#6a00a8,#7701a8,#8606a6,#9511a1,#a21d9a,#ae2892,#ba3388,#c33d80,#cc4778,#d45270,#db5c68,#e26561,#e76f5a,#ed7a52,#f2844b,#f58b47,#f68d45,#f68d45,#f68f44,#f89441,#fa9c3c,#fca338,#fca636,#fca537,#fb9f3a,#fa9c3c,#fa9c3c,#fb9f3a,#fba238,#fca338,#fb9f3a,#f99a3e,#f79044,#f2844b,#ed7953,#e66c5c,#df6263,#d9586a,#d35171,#cc4977,#c6417d,#bd3786,#b22b8f,#a62098,#9a169f,#910ea3,#8808a6,#8305a7,#7b02a8,#7501a8,#6c00a8,#6600a7,#6001a6,#5c01a6)"></i><i class="s" style="top:213.92px;background:linear-gradient(90deg,#5801a4,#5601a4,#5502a4,#5302a3,#5102a3,#5002a2,#5002a2,#5102a3,#5601a4,#5c01a6,#6700a8,#7401a8,#8305a7,#8f0da4,#9d189d,#aa2395,#b42e8d,#bf3984,#c8437b,#d04d73,#d7566c,#de5f65,#e3685f,#e87059,#ed7953,#f07f4f,#f1834c,#f2844b,#f3854b,#f58b47,#f79143,#f9983e,#f99a3e,#f99a3e,#f9973f,#f89441,#f89441,#f9973f,#f9983e,#f9973f,#f89441,#f68f44,#f3874a,#ef7c51,#e97257,#e3685f,#dd5e66,#d6556d,#d04d73,#ca457a,#c23c81,#b83289,#ad2793,#a11b9b,#9511a1,#8b0aa5,#8405a7,#7d03a8,#7701a8,#7100a8,#6900a8,#6300a7,#5c01a6,#5901a5)"></i><i class="s" style="top:221.30px;background:linear-gradient(90deg,#5102a3,#5002a2,#5002a2,#4e02a2,#4c02a1,#4c02a1,#4e02a2,#5002a2,#5502a4,#5b01a5,#6400a7,#7100a8,#7d03a8,#8a09a5,#9814a0,#a31e9a,#ae2892,#ba3388,#c33d80,#cb4679,#d24f71,#d8576b,#de5f65,#e26660,#e76e5b,#e97257,#eb7655,#ed7953,#ef7c51,#f0804e,#f3874a,#f58b47,#f68d45,#f68d45,#f58b47,#f48948,#f48948,#f58c46,#f58c46,#f58b47,#f48849,#f1834c,#ee7b51,#ea7457,#e56b5d,#e06363,#da5a6a,#d45270,#cd4a76,#c6417d,#be3885,#b32c8e,#a72197,#9a169f,#8f0da4,#8606a6,#7e03a8,#7701a8,#7100a8,#6a00a8,#6400a7,#5e01a6,#5901a5,#5601a4)"></i><i class="s" style="top:228.68px;background:linear-gradient(90deg,#4b03a1,#4b03a1,#4b03a1,#4903a0,#4903a0,#4b03a1,#4b03a1,#4e02a2,#5102a3,#5801a4,#6100a7,#6c00a8,#7801a8,#8405a7,#910ea3,#9d189d,#a82296,#b32c8e,#bd3786,#c5407e,#cc4778,#d24f71,#d7566c,#db5c68,#df6263,#e3685f,#e56b5d,#e76e5b,#e97158,#eb7556,#ed7a52,#ef7e50,#f0804e,#f0804e,#f07f4f,#ef7e50,#ef7e50,#f07f4f,#f0804e,#f07f4f,#ee7b51,#eb7655,#e97158,#e56a5d,#e06363,#db5c68,#d5546e,#cf4c74,#c8437b,#c03a83,#b6308b,#ac2694,#a01a9c,#9410a2,#8808a6,#8004a8,#7801a8,#7100a8,#6c00a8,#6600a7,#6001a6,#5b01a5,#5601a4,#5302a3)"></i><i class="s" style="top:236.05px;background:linear-gradient(90deg,#48039f,#48039f,#48039f,#48039f,#48039f,#48039f,#4903a0,#4b03a1,#4e02a2,#5302a3,#5c01a6,#6600a7,#7100a8,#7d03a8,#8a09a5,#9511a1,#a11b9b,#ab2494,#b52f8c,#be3885,#c5407e,#cc4778,#d04d73,#d5536f,#d8576b,#db5c68,#de5f65,#e06363,#e26660,#e56a5d,#e76e5b,#e97158,#e97257,#e97257,#e97257,#e97158,#e97158,#e97257,#e97257,#e97158,#e76f5a,#e56a5d,#e16462,#dd5e66,#d9586a,#d45270,#ce4b75,#c9447a,#c13b82,#b83289,#ae2892,#a31e9a,#9814a0,#8d0ba5,#8104a7,#7a02a8,#7201a8,#6c00a8,#6600a7,#6001a6,#5b01a5,#5502a4,#5102a3,#4e02a2)"></i><i class="s" style="top:243.43px;background:linear-gradient(90deg,#44039e,#44039e,#44039e,#46039f,#46039f,#46039f,#46039f,#46039f,#4903a0,#4e02a2,#5502a4,#5e01a6,#6a00a8,#7501a8,#8104a7,#8d0ba5,#9814a0,#a21d9a,#ac2694,#b52f8c,#bd3786,#c33d80,#c9447a,#cd4a76,#d14e72,#d45270,#d6556d,#d8576b,#da5b69,#dc5d67,#de6164,#e06363,#e16462,#e16462,#e16462,#e06363,#e16462,#e16462,#e16462,#e16462,#de6164,#db5c68,#d8576b,#d45270,#cf4c74,#cb4679,#c6417d,#bf3984,#b7318a,#ae2892,#a31e9a,#99159f,#8e0ca4,#8405a7,#7b02a8,#7201a8,#6c00a8,#6600a7,#6001a6,#5b01a5,#5502a4,#5002a2,#4b03a1,#48039f)"></i><i class="s" style="top:250.81px;background:linear-gradient(90deg,#43039e,#43039e,#43039e,#44039e,#44039e,#43039e,#43039e,#43039e,#43039e,#48039f,#4e02a2,#5801a4,#6300a7,#6e00a8,#7801a8,#8305a7,#8e0ca4,#9814a0,#a21d9a,#ab2494,#b32c8e,#ba3388,#c03a83,#c43e7f,#c8437b,#cb4679,#cd4a76,#cf4c74,#d14e72,#d35171,#d5536f,#d6556d,#d7566c,#d7566c,#d6556d,#d6556d,#d6556d,#d7566c,#d7566c,#d6556d,#d5536f,#d14e72,#cd4a76,#c9447a,#c5407e,#c03a83,#ba3388,#b32c8e,#ab2494,#a21d9a,#9814a0,#8d0ba5,#8405a7,#7b02a8,#7201a8,#6c00a8,#6600a7,#6001a6,#5b01a5,#5502a4,#4e02a2,#4903a0,#44039e,#41049d)"></i><i class="s" style="top:258.18px;background:linear-gradient(90deg,#3f049c,#41049d,#41049d,#41049d,#41049d,#41049d,#3f049c,#3e049c,#3e049c,#41049d,#48039f,#5102a3,#5b01a5,#6600a7,#6f00a8,#7a02a8,#8305a7,#8d0ba5,#9613a1,#a01a9c,#a72197,#ae2892,#b42e8d,#ba3388,#be3885,#c03a83,#c23c81,#c43e7f,#c6417d,#c7427c,#c9447a,#cb4679,#cb4679,#cb4679,#cb4679,#ca457a,#ca457a,#cb4679,#cb4679,#ca457a,#c8437b,#c5407e,#c13b82,#bc3587,#b7318a,#b22b8f,#ac2694,#a62098,#9d189d,#9410a2,#8a09a5,#8104a7,#7801a8,#7100a8,#6a00a8,#6400a7,#6001a6,#5901a5,#5502a4,#5002a2,#4903a0,#44039e,#3f049c,#3c049b)"></i><i class="s" style="top:265.56px;background:linear-gradient(90deg,#3e049c,#3e049c,#3e049c,#3e049c,#3e049c,#3e049c,#3c049b,#3a049a,#3a049a,#3e049c,#43039e,#4b03a1,#5502a4,#5e01a6,#6700a8,#6f00a8,#7801a8,#8104a7,#8a09a5,#910ea3,#99159f,#a01a9c,#a62098,#ac2694,#b02991,#b32c8e,#b52f8c,#b6308b,#b7318a,#ba3388,#bb3488,#bc3587,#bd3786,#bc3587,#bc3587,#bc3587,#bc3587,#bc3587,#bc3587,#bc3587,#ba3388,#b6308b,#b22b8f,#ad2793,#a82296,#a31e9a,#9d189d,#9613a1,#8e0ca4,#8606a6,#7e03a8,#7501a8,#6e00a8,#6600a7,#6100a7,#5b01a5,#5801a4,#5302a3,#5002a2,#4b03a1,#44039e,#41049d,#3c049b,#38049a)"></i><i class="s" style="top:272.94px;background:linear-gradient(90deg,#3a049a,#3a049a,#3a049a,#3a049a,#3a049a,#3a049a,#38049a,#38049a,#38049a,#3c049b,#3f049c,#46039f,#4e02a2,#5601a4,#5e01a6,#6600a7,#6e00a8,#7501a8,#7d03a8,#8305a7,#8808a6,#8f0da4,#9511a1,#9c179e,#a01a9c,#a21d9a,#a51f99,#a62098,#a72197,#a82296,#aa2395,#ab2494,#ab2494,#ab2494,#ab2494,#ab2494,#ab2494,#ab2494,#ac2694,#ab2494,#a82296,#a62098,#a21d9a,#9d189d,#9814a0,#920fa3,#8d0ba5,#8707a6,#8004a8,#7801a8,#7100a8,#6900a8,#6300a7,#5c01a6,#5801a4,#5302a3,#5002a2,#4c02a1,#4903a0,#46039f,#41049d,#3e049c,#3a049a,#38049a)"></i><i class="s" style="top:280.31px;background:linear-gradient(90deg,#350498,#350498,#350498,#350498,#350498,#350498,#350498,#370499,#370499,#3a049a,#3e049c,#43039e,#48039f,#5002a2,#5601a4,#5e01a6,#6400a7,#6a00a8,#6f00a8,#7401a8,#7801a8,#7e03a8,#8405a7,#8808a6,#8d0ba5,#910ea3,#920fa3,#9410a2,#9511a1,#9613a1,#9814a0,#9814a0,#99159f,#99159f,#9814a0,#9814a0,#9814a0,#99159f,#99159f,#9814a0,#9613a1,#9410a2,#8f0da4,#8b0aa5,#8707a6,#8104a7,#7d03a8,#7701a8,#7100a8,#6a00a8,#6400a7,#6001a6,#5901a5,#5302a3,#4e02a2,#4b03a1,#48039f,#46039f,#44039e,#41049d,#3e049c,#3a049a,#38049a,#370499)"></i><i class="s" style="top:287.69px;background:linear-gradient(90deg,#310597,#310597,#310597,#310597,#310597,#310597,#330597,#330597,#350498,#38049a,#3a049a,#3e049c,#43039e,#48039f,#4e02a2,#5502a4,#5b01a5,#5e01a6,#6100a7,#6400a7,#6700a8,#6c00a8,#7100a8,#7701a8,#7a02a8,#7d03a8,#8004a8,#8004a8,#8104a7,#8305a7,#8405a7,#8405a7,#8405a7,#8405a7,#8405a7,#8405a7,#8606a6,#8606a6,#8606a6,#8405a7,#8305a7,#8104a7,#7e03a8,#7a02a8,#7501a8,#7100a8,#6c00a8,#6700a8,#6300a7,#6001a6,#5b01a5,#5502a4,#5002a2,#4b03a1,#46039f,#43039e,#41049d,#3f049c,#3e049c,#3c049b,#3a049a,#38049a,#370499,#370499)"></i><i class="s" style="top:295.07px;background:linear-gradient(90deg,#2e0595,#2e0595,#2e0595,#2e0595,#2e0595,#2e0595,#2f0596,#310597,#330597,#350498,#38049a,#3a049a,#3e049c,#43039e,#48039f,#4c02a1,#5102a3,#5502a4,#5601a4,#5801a4,#5901a5,#5c01a6,#6100a7,#6400a7,#6700a8,#6a00a8,#6e00a8,#6f00a8,#6f00a8,#7100a8,#7100a8,#7201a8,#7201a8,#7201a8,#7201a8,#7201a8,#7201a8,#7201a8,#7201a8,#7201a8,#7100a8,#6f00a8,#6c00a8,#6900a8,#6600a7,#6100a7,#5e01a6,#5b01a5,#5801a4,#5502a4,#5102a3,#4c02a1,#48039f,#43039e,#3f049c,#3c049b,#3a049a,#3a049a,#38049a,#370499,#370499,#350498,#350498,#350498)"></i><i class="s" style="top:302.44px;background:linear-gradient(90deg,#2c0594,#2c0594,#2c0594,#2c0594,#2c0594,#2c0594,#2e0595,#2e0595,#2f0596,#310597,#330597,#350498,#38049a,#3c049b,#3f049c,#44039e,#48039f,#4b03a1,#4c02a1,#4e02a2,#5002a2,#5102a3,#5302a3,#5601a4,#5901a5,#5b01a5,#5e01a6,#6001a6,#6100a7,#6100a7,#6100a7,#6100a7,#6100a7,#6100a7,#6100a7,#6300a7,#6300a7,#6300a7,#6300a7,#6300a7,#6100a7,#6001a6,#5c01a6,#5901a5,#5801a4,#5502a4,#5302a3,#5002a2,#4e02a2,#4b03a1,#4903a0,#46039f,#41049d,#3e049c,#3a049a,#38049a,#370499,#350498,#330597,#330597,#310597,#310597,#310597,#310597)"></i><i class="s" style="top:309.82px;background:linear-gradient(90deg,#2a0593,#2a0593,#2a0593,#2a0593,#2a0593,#2a0593,#2a0593,#2a0593,#2a0593,#2a0593,#2c0594,#2f0596,#310597,#350498,#38049a,#3c049b,#3f049c,#43039e,#46039f,#48039f,#4903a0,#4b03a1,#4b03a1,#4c02a1,#4e02a2,#5002a2,#5302a3,#5502a4,#5601a4,#5601a4,#5601a4,#5601a4,#5601a4,#5601a4,#5601a4,#5601a4,#5601a4,#5601a4,#5601a4,#5601a4,#5502a4,#5102a3,#5002a2,#4e02a2,#4c02a1,#4b03a1,#4b03a1,#4903a0,#48039f,#44039e,#43039e,#3f049c,#3e049c,#3c049b,#38049a,#370499,#330597,#310597,#2f0596,#2e0595,#2c0594,#2c0594,#2a0593,#2a0593)"></i></div><div class="hm" style="left:1276.70px;top:800.70px;width:440.20px;height:317.20px"><i class="s0" style="top:-7.38px;background:linear-gradient(90deg,#2e0595,#2e0595,#2f0596,#2f0596,#2f0596,#310597,#310597,#330597,#350498,#370499,#38049a,#3a049a,#3c049b,#3e049c,#3f049c,#41049d,#43039e,#46039f,#48039f,#4b03a1,#4c02a1,#5002a2,#5102a3,#5502a4,#5601a4,#5901a5,#5b01a5,#5c01a6,#5e01a6,#6001a6,#6100a7,#6300a7,#6300a7,#6400a7,#6400a7,#6400a7,#6400a7,#6300a7,#6300a7,#6100a7,#6001a6,#5c01a6,#5b01a5,#5801a4,#5601a4,#5302a3,#5002a2,#4e02a2,#4b03a1,#48039f,#46039f,#43039e,#3f049c,#3e049c,#3c049b,#3a049a,#38049a,#370499,#350498,#330597,#310597,#2f0596,#2f0596,#2f0596)"></i><i class="s" style="top:0.00px;background:linear-gradient(90deg,#2e0595,#2f0596,#2f0596,#2f0596,#310597,#330597,#330597,#350498,#370499,#38049a,#3a049a,#3c049b,#3e049c,#3f049c,#43039e,#44039e,#48039f,#4903a0,#4c02a1,#5002a2,#5302a3,#5502a4,#5801a4,#5b01a5,#5e01a6,#6001a6,#6300a7,#6400a7,#6700a8,#6900a8,#6a00a8,#6c00a8,#6c00a8,#6e00a8,#6e00a8,#6e00a8,#6e00a8,#6c00a8,#6a00a8,#6900a8,#6700a8,#6400a7,#6300a7,#6001a6,#5c01a6,#5901a5,#5601a4,#5302a3,#5002a2,#4c02a1,#4903a0,#46039f,#44039e,#41049d,#3e049c,#3c049b,#3a049a,#38049a,#350498,#330597,#330597,#310597,#2f0596,#2f0596)"></i><i class="s" style="top:7.38px;background:linear-gradient(90deg,#2f0596,#2f0596,#2f0596,#310597,#310597,#330597,#350498,#370499,#38049a,#3a049a,#3c049b,#3e049c,#41049d,#43039e,#46039f,#4903a0,#4c02a1,#5002a2,#5102a3,#5502a4,#5901a5,#5c01a6,#6001a6,#6300a7,#6600a7,#6900a8,#6a00a8,#6e00a8,#7100a8,#7201a8,#7401a8,#7501a8,#7701a8,#7701a8,#7801a8,#7801a8,#7701a8,#7701a8,#7501a8,#7201a8,#7100a8,#6e00a8,#6a00a8,#6700a8,#6400a7,#6100a7,#5c01a6,#5901a5,#5601a4,#5102a3,#4e02a2,#4b03a1,#48039f,#44039e,#41049d,#3f049c,#3c049b,#3a049a,#370499,#350498,#330597,#310597,#310597,#2f0596)"></i><i class="s" style="top:14.75px;background:linear-gradient(90deg,#2f0596,#2f0596,#310597,#310597,#330597,#350498,#370499,#38049a,#3a049a,#3c049b,#3f049c,#41049d,#44039e,#48039f,#4b03a1,#4e02a2,#5102a3,#5502a4,#5801a4,#5b01a5,#6001a6,#6300a7,#6700a8,#6a00a8,#6e00a8,#7100a8,#7501a8,#7701a8,#7a02a8,#7d03a8,#7e03a8,#8004a8,#8104a7,#8305a7,#8305a7,#8305a7,#8305a7,#8104a7,#8004a8,#7d03a8,#7a02a8,#7701a8,#7401a8,#7100a8,#6c00a8,#6900a8,#6400a7,#6001a6,#5c01a6,#5801a4,#5302a3,#5002a2,#4c02a1,#48039f,#44039e,#41049d,#3f049c,#3c049b,#3a049a,#370499,#350498,#330597,#310597,#310597)"></i><i class="s" style="top:22.13px;background:linear-gradient(90deg,#2f0596,#310597,#310597,#330597,#350498,#370499,#38049a,#3a049a,#3c049b,#3f049c,#41049d,#44039e,#48039f,#4b03a1,#4e02a2,#5302a3,#5601a4,#5901a5,#5e01a6,#6300a7,#6600a7,#6a00a8,#6f00a8,#7401a8,#7701a8,#7b02a8,#7e03a8,#8104a7,#8405a7,#8707a6,#8a09a5,#8b0aa5,#8d0ba5,#8e0ca4,#8e0ca4,#8e0ca4,#8d0ba5,#8d0ba5,#8a09a5,#8808a6,#8606a6,#8104a7,#7e03a8,#7a02a8,#7501a8,#7100a8,#6c00a8,#6700a8,#6300a7,#5e01a6,#5901a5,#5502a4,#5002a2,#4c02a1,#4903a0,#44039e,#41049d,#3e049c,#3c049b,#38049a,#370499,#350498,#330597,#330597)"></i><i class="s" style="top:29.51px;background:linear-gradient(90deg,#310597,#310597,#330597,#350498,#370499,#38049a,#3a049a,#3c049b,#3f049c,#41049d,#44039e,#48039f,#4b03a1,#5002a2,#5302a3,#5801a4,#5b01a5,#6001a6,#6400a7,#6900a8,#6e00a8,#7401a8,#7801a8,#7d03a8,#8104a7,#8606a6,#8808a6,#8d0ba5,#8f0da4,#920fa3,#9511a1,#9613a1,#9814a0,#99159f,#9a169f,#9a169f,#99159f,#9814a0,#9613a1,#9410a2,#8f0da4,#8d0ba5,#8808a6,#8405a7,#8004a8,#7a02a8,#7501a8,#6f00a8,#6a00a8,#6400a7,#6001a6,#5b01a5,#5601a4,#5102a3,#4c02a1,#48039f,#44039e,#41049d,#3e049c,#3a049a,#38049a,#370499,#350498,#330597)"></i><i class="s" style="top:36.88px;background:linear-gradient(90deg,#310597,#330597,#330597,#350498,#370499,#3a049a,#3c049b,#3e049c,#41049d,#44039e,#48039f,#4b03a1,#5002a2,#5302a3,#5801a4,#5c01a6,#6100a7,#6600a7,#6c00a8,#7100a8,#7701a8,#7b02a8,#8104a7,#8606a6,#8b0aa5,#8f0da4,#9410a2,#9814a0,#9a169f,#9e199d,#a01a9c,#a21d9a,#a31e9a,#a51f99,#a62098,#a62098,#a51f99,#a31e9a,#a11b9b,#9e199d,#9c179e,#9814a0,#9410a2,#8e0ca4,#8808a6,#8405a7,#7e03a8,#7801a8,#7201a8,#6c00a8,#6600a7,#6001a6,#5b01a5,#5502a4,#5002a2,#4c02a1,#48039f,#44039e,#41049d,#3e049c,#3a049a,#38049a,#370499,#350498)"></i><i class="s" style="top:44.26px;background:linear-gradient(90deg,#330597,#330597,#350498,#370499,#38049a,#3c049b,#3e049c,#41049d,#44039e,#48039f,#4b03a1,#5002a2,#5302a3,#5801a4,#5e01a6,#6300a7,#6700a8,#6e00a8,#7401a8,#7a02a8,#7e03a8,#8405a7,#8a09a5,#8f0da4,#9511a1,#9a169f,#9e199d,#a21d9a,#a62098,#aa2395,#ac2694,#ae2892,#b02991,#b12a90,#b12a90,#b12a90,#b12a90,#b02991,#ad2793,#aa2395,#a72197,#a21d9a,#9e199d,#99159f,#9410a2,#8d0ba5,#8707a6,#8004a8,#7a02a8,#7401a8,#6c00a8,#6600a7,#6001a6,#5b01a5,#5502a4,#5002a2,#4b03a1,#46039f,#43039e,#3f049c,#3c049b,#38049a,#370499,#370499)"></i><i class="s" style="top:51.64px;background:linear-gradient(90deg,#330597,#350498,#370499,#38049a,#3a049a,#3e049c,#3f049c,#43039e,#46039f,#4b03a1,#4e02a2,#5302a3,#5801a4,#5c01a6,#6300a7,#6900a8,#6e00a8,#7401a8,#7b02a8,#8104a7,#8707a6,#8e0ca4,#9410a2,#99159f,#a01a9c,#a51f99,#a82296,#ad2793,#b12a90,#b42e8d,#b6308b,#b83289,#bb3488,#bc3587,#bd3786,#bd3786,#bc3587,#bb3488,#b83289,#b52f8c,#b22b8f,#ad2793,#a82296,#a31e9a,#9d189d,#9613a1,#8f0da4,#8808a6,#8104a7,#7b02a8,#7401a8,#6c00a8,#6600a7,#6001a6,#5901a5,#5302a3,#4e02a2,#4903a0,#46039f,#41049d,#3e049c,#3a049a,#38049a,#370499)"></i><i class="s" style="top:59.01px;background:linear-gradient(90deg,#350498,#350498,#370499,#38049a,#3c049b,#3f049c,#43039e,#46039f,#4903a0,#4e02a2,#5302a3,#5801a4,#5c01a6,#6300a7,#6700a8,#6e00a8,#7501a8,#7b02a8,#8305a7,#8a09a5,#910ea3,#9613a1,#9d189d,#a31e9a,#a82296,#ae2892,#b32c8e,#b7318a,#bc3587,#bf3984,#c23c81,#c43e7f,#c5407e,#c7427c,#c7427c,#c7427c,#c6417d,#c5407e,#c33d80,#c03a83,#bc3587,#b7318a,#b32c8e,#ad2793,#a72197,#a11b9b,#99159f,#920fa3,#8a09a5,#8305a7,#7a02a8,#7201a8,#6a00a8,#6400a7,#5e01a6,#5801a4,#5102a3,#4c02a1,#48039f,#44039e,#3f049c,#3c049b,#3a049a,#38049a)"></i><i class="s" style="top:66.39px;background:linear-gradient(90deg,#350498,#370499,#38049a,#3a049a,#3e049c,#41049d,#44039e,#48039f,#4c02a1,#5102a3,#5601a4,#5b01a5,#6100a7,#6700a8,#6e00a8,#7401a8,#7b02a8,#8305a7,#8a09a5,#910ea3,#99159f,#a01a9c,#a62098,#ad2793,#b32c8e,#b7318a,#bd3786,#c13b82,#c5407e,#c9447a,#cc4778,#cd4a76,#cf4c74,#d14e72,#d14e72,#d14e72,#d04d73,#cf4c74,#cc4977,#ca457a,#c6417d,#c23c81,#bd3786,#b7318a,#b12a90,#aa2395,#a21d9a,#9a169f,#920fa3,#8a09a5,#8104a7,#7801a8,#7100a8,#6900a8,#6300a7,#5c01a6,#5601a4,#5002a2,#4b03a1,#46039f,#41049d,#3e049c,#3c049b,#3a049a)"></i><i class="s" style="top:73.77px;background:linear-gradient(90deg,#370499,#370499,#3a049a,#3c049b,#3f049c,#43039e,#46039f,#4b03a1,#5002a2,#5502a4,#5901a5,#6001a6,#6600a7,#6c00a8,#7401a8,#7a02a8,#8305a7,#8a09a5,#920fa3,#99159f,#a11b9b,#a82296,#b02991,#b52f8c,#bc3587,#c13b82,#c6417d,#cb4679,#ce4b75,#d24f71,#d5536f,#d7566c,#d9586a,#da5a6a,#da5b69,#da5b69,#da5a6a,#d8576b,#d6556d,#d35171,#cf4c74,#cb4679,#c6417d,#c03a83,#ba3388,#b32c8e,#ab2494,#a21d9a,#9a169f,#910ea3,#8808a6,#8004a8,#7701a8,#6f00a8,#6700a8,#6001a6,#5901a5,#5302a3,#4e02a2,#48039f,#44039e,#3f049c,#3c049b,#3a049a)"></i><i class="s" style="top:81.14px;background:linear-gradient(90deg,#370499,#38049a,#3a049a,#3e049c,#41049d,#44039e,#4903a0,#4c02a1,#5102a3,#5801a4,#5c01a6,#6300a7,#6a00a8,#7100a8,#7801a8,#8004a8,#8808a6,#910ea3,#99159f,#a11b9b,#a82296,#b12a90,#b7318a,#be3885,#c43e7f,#ca457a,#ce4b75,#d35171,#d7566c,#da5b69,#dd5e66,#df6263,#e16462,#e26660,#e3685f,#e3685f,#e26660,#e16462,#de6164,#db5c68,#d8576b,#d45270,#ce4b75,#c9447a,#c23c81,#bb3488,#b32c8e,#ab2494,#a11b9b,#9814a0,#8f0da4,#8606a6,#7d03a8,#7401a8,#6c00a8,#6400a7,#5c01a6,#5601a4,#5002a2,#4b03a1,#46039f,#41049d,#3e049c,#3c049b)"></i><i class="s" style="top:88.52px;background:linear-gradient(90deg,#38049a,#3a049a,#3c049b,#3f049c,#43039e,#46039f,#4b03a1,#5002a2,#5502a4,#5b01a5,#6100a7,#6700a8,#6e00a8,#7501a8,#7e03a8,#8606a6,#8e0ca4,#9814a0,#a01a9c,#a82296,#b02991,#b7318a,#bf3984,#c5407e,#cc4778,#d14e72,#d6556d,#da5b69,#de6164,#e26561,#e56a5d,#e76e5b,#e97158,#e97257,#ea7457,#ea7457,#e97257,#e87059,#e66c5c,#e3685f,#df6263,#db5c68,#d6556d,#d04d73,#ca457a,#c23c81,#ba3388,#b22b8f,#a82296,#a01a9c,#9511a1,#8b0aa5,#8305a7,#7801a8,#7100a8,#6700a8,#6001a6,#5901a5,#5302a3,#4c02a1,#48039f,#43039e,#3f049c,#3e049c)"></i><i class="s" style="top:95.90px;background:linear-gradient(90deg,#3a049a,#3a049a,#3e049c,#41049d,#44039e,#48039f,#4c02a1,#5102a3,#5801a4,#5c01a6,#6400a7,#6a00a8,#7201a8,#7a02a8,#8305a7,#8b0aa5,#9410a2,#9d189d,#a62098,#ae2892,#b6308b,#be3885,#c5407e,#cc4778,#d24f71,#d8576b,#dd5e66,#e26561,#e56b5d,#e97158,#eb7655,#ed7a52,#ef7e50,#f07f4f,#f0804e,#f0804e,#f07f4f,#ef7c51,#ed7953,#e97257,#e66c5c,#e26660,#dd5e66,#d7566c,#d04d73,#c9447a,#c13b82,#b83289,#b02991,#a51f99,#9c179e,#910ea3,#8707a6,#7e03a8,#7401a8,#6c00a8,#6300a7,#5c01a6,#5502a4,#4e02a2,#4903a0,#44039e,#41049d,#3f049c)"></i><i class="s" style="top:103.27px;background:linear-gradient(90deg,#3a049a,#3c049b,#3e049c,#41049d,#46039f,#4903a0,#4e02a2,#5502a4,#5901a5,#6001a6,#6700a8,#6e00a8,#7701a8,#7e03a8,#8707a6,#910ea3,#99159f,#a21d9a,#ac2694,#b42e8d,#bd3786,#c43e7f,#cc4778,#d24f71,#d8576b,#de5f65,#e3685f,#e76f5a,#eb7655,#ee7b51,#f1814d,#f3854b,#f48948,#f58c46,#f68d45,#f68d45,#f58b47,#f48849,#f2844b,#ef7e50,#ec7754,#e87059,#e3685f,#dd5e66,#d6556d,#cf4c74,#c7427c,#be3885,#b52f8c,#ab2494,#a11b9b,#9613a1,#8d0ba5,#8305a7,#7801a8,#6f00a8,#6600a7,#5e01a6,#5801a4,#5102a3,#4b03a1,#46039f,#43039e,#3f049c)"></i><i class="s" style="top:110.65px;background:linear-gradient(90deg,#3a049a,#3c049b,#3f049c,#43039e,#46039f,#4b03a1,#5002a2,#5601a4,#5c01a6,#6300a7,#6900a8,#7201a8,#7a02a8,#8305a7,#8b0aa5,#9511a1,#9e199d,#a72197,#b12a90,#ba3388,#c23c81,#ca457a,#d14e72,#d7566c,#de5f65,#e3685f,#e87059,#ed7953,#f07f4f,#f3854b,#f58c46,#f79143,#f89540,#f9983e,#f99a3e,#f9983e,#f9973f,#f89441,#f68f44,#f48849,#f1814d,#ed7953,#e87059,#e26660,#db5c68,#d5536f,#cc4977,#c33d80,#ba3388,#b02991,#a62098,#9c179e,#910ea3,#8606a6,#7b02a8,#7201a8,#6900a8,#6100a7,#5901a5,#5302a3,#4c02a1,#48039f,#43039e,#41049d)"></i><i class="s" style="top:118.03px;background:linear-gradient(90deg,#3c049b,#3e049c,#3f049c,#43039e,#48039f,#4c02a1,#5102a3,#5801a4,#5e01a6,#6400a7,#6c00a8,#7401a8,#7d03a8,#8606a6,#8f0da4,#99159f,#a21d9a,#ac2694,#b52f8c,#be3885,#c6417d,#cd4a76,#d5546e,#dc5d67,#e26660,#e76f5a,#ed7953,#f0804e,#f48849,#f79044,#f89540,#fa9b3d,#fb9f3a,#fba238,#fca338,#fca338,#fba238,#fa9e3b,#f99a3e,#f79342,#f58b47,#f1814d,#ec7754,#e76e5b,#e06363,#d9586a,#d14e72,#c8437b,#bf3984,#b42e8d,#aa2395,#a01a9c,#9410a2,#8a09a5,#7e03a8,#7501a8,#6c00a8,#6300a7,#5b01a5,#5502a4,#4e02a2,#48039f,#44039e,#43039e)"></i><i class="s" style="top:125.40px;background:linear-gradient(90deg,#3c049b,#3e049c,#41049d,#44039e,#4903a0,#4e02a2,#5302a3,#5901a5,#6001a6,#6600a7,#6e00a8,#7701a8,#8004a8,#8808a6,#920fa3,#9c179e,#a62098,#b02991,#b83289,#c13b82,#ca457a,#d24f71,#d9586a,#e06363,#e66c5c,#eb7655,#f07f4f,#f48849,#f79044,#f9983e,#fb9f3a,#fca537,#fca934,#fdac33,#fdae32,#fdae32,#fdac33,#fca835,#fba238,#fa9b3d,#f79342,#f48948,#f07f4f,#ea7457,#e4695e,#dd5e66,#d5536f,#cc4778,#c23c81,#b83289,#ad2793,#a21d9a,#9814a0,#8d0ba5,#8104a7,#7701a8,#6e00a8,#6400a7,#5c01a6,#5502a4,#4e02a2,#4903a0,#44039e,#43039e)"></i><i class="s" style="top:132.78px;background:linear-gradient(90deg,#3c049b,#3e049c,#41049d,#44039e,#4903a0,#4e02a2,#5502a4,#5b01a5,#6100a7,#6700a8,#7100a8,#7801a8,#8104a7,#8b0aa5,#9511a1,#9e199d,#a82296,#b22b8f,#bc3587,#c43e7f,#cc4977,#d5536f,#dc5d67,#e26660,#e97158,#ee7b51,#f3854b,#f68f44,#f9973f,#fb9f3a,#fca636,#fdac33,#fdb130,#fdb42f,#fdb52e,#fdb52e,#fdb42f,#fdaf31,#fca934,#fba238,#f99a3e,#f68f44,#f2844b,#ed7953,#e76e5b,#df6263,#d7566c,#ce4b75,#c5407e,#bb3488,#b12a90,#a51f99,#9a169f,#8e0ca4,#8405a7,#7a02a8,#6f00a8,#6600a7,#5e01a6,#5601a4,#5002a2,#4903a0,#46039f,#43039e)"></i><i class="s" style="top:140.16px;background:linear-gradient(90deg,#3c049b,#3f049c,#41049d,#46039f,#4903a0,#5002a2,#5502a4,#5b01a5,#6100a7,#6900a8,#7100a8,#7a02a8,#8305a7,#8d0ba5,#9613a1,#a11b9b,#ab2494,#b42e8d,#be3885,#c6417d,#ce4b75,#d6556d,#de5f65,#e56a5d,#eb7556,#f07f4f,#f48948,#f79342,#fa9c3c,#fca537,#fdac33,#fdb22f,#feb72d,#feba2c,#febb2b,#febb2b,#feba2c,#fdb52e,#fdaf31,#fca835,#fa9e3b,#f89441,#f48948,#ef7e50,#e97158,#e26561,#da5a6a,#d04d73,#c7427c,#bd3786,#b22b8f,#a72197,#9c179e,#910ea3,#8606a6,#7b02a8,#7100a8,#6700a8,#6001a6,#5801a4,#5002a2,#4b03a1,#46039f,#44039e)"></i><i class="s" style="top:147.53px;background:linear-gradient(90deg,#3e049c,#3f049c,#41049d,#46039f,#4b03a1,#5002a2,#5601a4,#5c01a6,#6300a7,#6a00a8,#7201a8,#7b02a8,#8405a7,#8e0ca4,#9814a0,#a21d9a,#ac2694,#b52f8c,#bf3984,#c8437b,#d04d73,#d8576b,#df6263,#e66c5c,#ec7754,#f1814d,#f58c46,#f9973f,#fb9f3a,#fca835,#fdaf31,#fdb52e,#febb2b,#febe2a,#fec029,#fec029,#febe2a,#feba2c,#fdb42f,#fdab33,#fba238,#f9973f,#f58c46,#f0804e,#ea7457,#e3685f,#da5b69,#d24f71,#c9447a,#be3885,#b42e8d,#a82296,#9d189d,#920fa3,#8707a6,#7b02a8,#7201a8,#6900a8,#6001a6,#5801a4,#5102a3,#4b03a1,#46039f,#44039e)"></i><i class="s" style="top:154.91px;background:linear-gradient(90deg,#3e049c,#3f049c,#41049d,#46039f,#4b03a1,#5002a2,#5601a4,#5c01a6,#6300a7,#6a00a8,#7201a8,#7b02a8,#8405a7,#8e0ca4,#9814a0,#a21d9a,#ac2694,#b6308b,#bf3984,#c8437b,#d04d73,#d9586a,#e06363,#e76e5b,#ed7953,#f1834c,#f68d45,#f9983e,#fba139,#fca934,#fdb130,#feb72d,#febd2a,#fec029,#fdc229,#fdc229,#fec029,#febb2b,#fdb52e,#fdac33,#fca338,#f9983e,#f68d45,#f1814d,#eb7556,#e4695e,#db5c68,#d35171,#c9447a,#bf3984,#b42e8d,#a82296,#9d189d,#920fa3,#8707a6,#7d03a8,#7201a8,#6900a8,#6001a6,#5801a4,#5102a3,#4b03a1,#46039f,#44039e)"></i><i class="s" style="top:162.29px;background:linear-gradient(90deg,#3e049c,#3f049c,#41049d,#46039f,#4b03a1,#5002a2,#5601a4,#5c01a6,#6300a7,#6a00a8,#7201a8,#7b02a8,#8405a7,#8e0ca4,#9814a0,#a21d9a,#ac2694,#b6308b,#bf3984,#c8437b,#d04d73,#d8576b,#e06363,#e76e5b,#ec7754,#f1834c,#f68d45,#f9973f,#fba139,#fca934,#fdb130,#feb72d,#febb2b,#fec029,#fdc229,#fdc229,#febe2a,#feba2c,#fdb42f,#fdac33,#fba238,#f9983e,#f58c46,#f0804e,#ea7457,#e3685f,#db5c68,#d24f71,#c9447a,#bf3984,#b42e8d,#a82296,#9d189d,#920fa3,#8707a6,#7d03a8,#7201a8,#6900a8,#6001a6,#5801a4,#5102a3,#4b03a1,#46039f,#44039e)"></i><i class="s" style="top:169.66px;background:linear-gradient(90deg,#3e049c,#3f049c,#41049d,#46039f,#4b03a1,#5002a2,#5502a4,#5b01a5,#6300a7,#6a00a8,#7201a8,#7b02a8,#8405a7,#8e0ca4,#9814a0,#a11b9b,#ab2494,#b52f8c,#be3885,#c7427c,#cf4c74,#d7566c,#de6164,#e56b5d,#eb7655,#f0804e,#f58b47,#f89441,#fa9e3b,#fca636,#fdae32,#fdb42f,#feb82c,#febd2a,#febe2a,#febe2a,#febb2b,#feb72d,#fdb130,#fca934,#fba139,#f89540,#f58b47,#f07f4f,#e97257,#e26660,#da5b69,#d14e72,#c8437b,#be3885,#b32c8e,#a72197,#9d189d,#910ea3,#8606a6,#7b02a8,#7201a8,#6900a8,#6001a6,#5801a4,#5102a3,#4b03a1,#46039f,#44039e)"></i><i class="s" style="top:177.04px;background:linear-gradient(90deg,#3e049c,#3e049c,#41049d,#46039f,#4903a0,#5002a2,#5502a4,#5b01a5,#6100a7,#6900a8,#7100a8,#7a02a8,#8305a7,#8d0ba5,#9613a1,#a01a9c,#aa2395,#b32c8e,#bd3786,#c5407e,#cd4a76,#d5546e,#dd5e66,#e4695e,#e97257,#ef7e50,#f3874a,#f79044,#f99a3e,#fba238,#fca934,#fdaf31,#fdb42f,#feb72d,#feb82c,#feb82c,#feb72d,#fdb22f,#fdac33,#fca537,#fa9c3c,#f79143,#f3874a,#ee7b51,#e87059,#e16462,#d9586a,#cf4c74,#c6417d,#bc3587,#b12a90,#a62098,#9a169f,#8f0da4,#8405a7,#7a02a8,#7100a8,#6700a8,#5e01a6,#5801a4,#5002a2,#4b03a1,#46039f,#43039e)"></i><i class="s" style="top:184.42px;background:linear-gradient(90deg,#3c049b,#3e049c,#41049d,#44039e,#4903a0,#4e02a2,#5302a3,#5901a5,#6001a6,#6700a8,#6f00a8,#7801a8,#8104a7,#8a09a5,#9410a2,#9d189d,#a72197,#b12a90,#ba3388,#c33d80,#cb4679,#d35171,#da5b69,#e16462,#e76f5a,#ed7953,#f1814d,#f58b47,#f89441,#fa9b3d,#fba238,#fca835,#fdac33,#fdaf31,#fdb130,#fdb130,#fdaf31,#fdab33,#fca636,#fa9e3b,#f89540,#f58c46,#f1814d,#eb7655,#e56b5d,#de5f65,#d6556d,#cd4a76,#c43e7f,#ba3388,#ae2892,#a31e9a,#99159f,#8d0ba5,#8305a7,#7801a8,#6f00a8,#6600a7,#5e01a6,#5601a4,#5002a2,#4903a0,#46039f,#43039e)"></i><i class="s" style="top:191.79px;background:linear-gradient(90deg,#3c049b,#3e049c,#41049d,#44039e,#48039f,#4c02a1,#5302a3,#5801a4,#5e01a6,#6600a7,#6e00a8,#7501a8,#7e03a8,#8707a6,#910ea3,#9a169f,#a31e9a,#ad2793,#b6308b,#c03a83,#c8437b,#cf4c74,#d7566c,#de5f65,#e4695e,#e97257,#ee7b51,#f2844b,#f58c46,#f89441,#f99a3e,#fb9f3a,#fca338,#fca636,#fca835,#fca835,#fca636,#fba238,#fa9e3b,#f9973f,#f68f44,#f3854b,#ee7b51,#e87059,#e26561,#da5b69,#d35171,#ca457a,#c03a83,#b6308b,#ac2694,#a11b9b,#9511a1,#8b0aa5,#8004a8,#7701a8,#6c00a8,#6400a7,#5c01a6,#5502a4,#4e02a2,#4903a0,#44039e,#43039e)"></i><i class="s" style="top:199.17px;background:linear-gradient(90deg,#3c049b,#3e049c,#3f049c,#43039e,#48039f,#4c02a1,#5102a3,#5601a4,#5c01a6,#6300a7,#6a00a8,#7201a8,#7b02a8,#8405a7,#8e0ca4,#9613a1,#a01a9c,#aa2395,#b32c8e,#bc3587,#c43e7f,#cc4778,#d35171,#da5a6a,#e06363,#e56b5d,#ea7457,#ef7c51,#f2844b,#f58b47,#f79044,#f89540,#f99a3e,#fa9c3c,#fa9e3b,#fa9e3b,#fa9c3c,#f9983e,#f89441,#f68d45,#f3854b,#ef7c51,#ea7457,#e56a5d,#de5f65,#d6556d,#ce4b75,#c6417d,#bc3587,#b22b8f,#a72197,#9d189d,#920fa3,#8707a6,#7d03a8,#7401a8,#6a00a8,#6300a7,#5b01a5,#5302a3,#4c02a1,#48039f,#44039e,#41049d)"></i><i class="s" style="top:206.55px;background:linear-gradient(90deg,#3a049a,#3c049b,#3f049c,#41049d,#46039f,#4b03a1,#5002a2,#5502a4,#5b01a5,#6100a7,#6700a8,#6f00a8,#7801a8,#8104a7,#8a09a5,#920fa3,#9c179e,#a51f99,#ae2892,#b6308b,#bf3984,#c7427c,#cd4a76,#d5536f,#da5b69,#e06363,#e56b5d,#ea7457,#ed7a52,#f0804e,#f3874a,#f58b47,#f68f44,#f79143,#f79342,#f79342,#f79044,#f68d45,#f48948,#f1834c,#ef7c51,#ea7457,#e56b5d,#df6263,#d9586a,#d14e72,#c9447a,#c13b82,#b7318a,#ad2793,#a31e9a,#99159f,#8e0ca4,#8405a7,#7a02a8,#7100a8,#6700a8,#6001a6,#5801a4,#5102a3,#4b03a1,#46039f,#43039e,#41049d)"></i><i class="s" style="top:213.92px;background:linear-gradient(90deg,#3a049a,#3c049b,#3e049c,#41049d,#44039e,#4903a0,#4e02a2,#5302a3,#5801a4,#5e01a6,#6600a7,#6c00a8,#7401a8,#7d03a8,#8606a6,#8e0ca4,#9613a1,#a01a9c,#a82296,#b12a90,#ba3388,#c13b82,#c8437b,#ce4b75,#d5536f,#da5b69,#e06363,#e56a5d,#e87059,#eb7655,#ee7b51,#f07f4f,#f1834c,#f3854b,#f3874a,#f3854b,#f2844b,#f1814d,#ef7e50,#ec7754,#e97158,#e56a5d,#df6263,#da5a6a,#d35171,#cc4778,#c43e7f,#bb3488,#b22b8f,#a82296,#9e199d,#9410a2,#8a09a5,#8004a8,#7501a8,#6e00a8,#6400a7,#5c01a6,#5601a4,#5002a2,#4903a0,#44039e,#41049d,#3f049c)"></i><i class="s" style="top:221.30px;background:linear-gradient(90deg,#38049a,#3a049a,#3c049b,#3f049c,#43039e,#48039f,#4b03a1,#5002a2,#5601a4,#5b01a5,#6300a7,#6900a8,#7100a8,#7801a8,#8004a8,#8808a6,#910ea3,#9a169f,#a21d9a,#ab2494,#b32c8e,#bb3488,#c23c81,#c8437b,#ce4b75,#d45270,#d9586a,#de5f65,#e26561,#e56b5d,#e87059,#ea7457,#eb7655,#ed7953,#ed7a52,#ed7a52,#ed7953,#eb7556,#e97158,#e66c5c,#e26660,#de6164,#d9586a,#d35171,#cc4977,#c5407e,#bd3786,#b42e8d,#ab2494,#a21d9a,#9814a0,#8e0ca4,#8405a7,#7b02a8,#7201a8,#6900a8,#6100a7,#5b01a5,#5302a3,#4e02a2,#48039f,#44039e,#3f049c,#3e049c)"></i><i class="s" style="top:228.68px;background:linear-gradient(90deg,#38049a,#38049a,#3c049b,#3e049c,#41049d,#46039f,#4903a0,#4e02a2,#5302a3,#5901a5,#5e01a6,#6600a7,#6c00a8,#7401a8,#7b02a8,#8305a7,#8b0aa5,#9410a2,#9c179e,#a31e9a,#ac2694,#b32c8e,#bb3488,#c13b82,#c7427c,#cc4977,#d24f71,#d6556d,#da5b69,#de5f65,#e16462,#e3685f,#e56a5d,#e66c5c,#e66c5c,#e66c5c,#e56b5d,#e4695e,#e26561,#de6164,#db5c68,#d7566c,#d24f71,#cc4778,#c5407e,#be3885,#b6308b,#ad2793,#a51f99,#9c179e,#920fa3,#8808a6,#8004a8,#7701a8,#6e00a8,#6600a7,#5e01a6,#5801a4,#5102a3,#4b03a1,#46039f,#43039e,#3f049c,#3e049c)"></i><i class="s" style="top:236.05px;background:linear-gradient(90deg,#370499,#38049a,#3a049a,#3c049b,#3f049c,#44039e,#48039f,#4c02a1,#5002a2,#5601a4,#5b01a5,#6100a7,#6700a8,#6f00a8,#7501a8,#7d03a8,#8606a6,#8d0ba5,#9511a1,#9d189d,#a51f99,#ac2694,#b32c8e,#b83289,#bf3984,#c5407e,#ca457a,#ce4b75,#d24f71,#d5546e,#d9586a,#da5b69,#dd5e66,#de5f65,#de6164,#de6164,#de5f65,#dc5d67,#da5a6a,#d7566c,#d35171,#ce4b75,#ca457a,#c43e7f,#bd3786,#b6308b,#ae2892,#a62098,#9d189d,#9410a2,#8b0aa5,#8305a7,#7a02a8,#7100a8,#6900a8,#6100a7,#5b01a5,#5502a4,#4e02a2,#4903a0,#44039e,#41049d,#3e049c,#3c049b)"></i><i class="s" style="top:243.43px;background:linear-gradient(90deg,#370499,#370499,#38049a,#3c049b,#3e049c,#41049d,#46039f,#4903a0,#4e02a2,#5302a3,#5801a4,#5c01a6,#6300a7,#6900a8,#7100a8,#7701a8,#7e03a8,#8606a6,#8e0ca4,#9511a1,#9c179e,#a31e9a,#aa2395,#b12a90,#b6308b,#bc3587,#c13b82,#c5407e,#ca457a,#cc4977,#cf4c74,#d24f71,#d45270,#d5536f,#d5546e,#d5546e,#d5536f,#d35171,#d14e72,#cd4a76,#ca457a,#c6417d,#c13b82,#bb3488,#b42e8d,#ad2793,#a62098,#9e199d,#9511a1,#8d0ba5,#8405a7,#7b02a8,#7401a8,#6c00a8,#6400a7,#5e01a6,#5801a4,#5102a3,#4c02a1,#48039f,#43039e,#3f049c,#3c049b,#3a049a)"></i><i class="s" style="top:250.81px;background:linear-gradient(90deg,#350498,#370499,#370499,#3a049a,#3c049b,#3f049c,#43039e,#48039f,#4b03a1,#5002a2,#5502a4,#5901a5,#5e01a6,#6400a7,#6a00a8,#7100a8,#7801a8,#7e03a8,#8606a6,#8d0ba5,#9410a2,#9a169f,#a11b9b,#a72197,#ad2793,#b32c8e,#b7318a,#bc3587,#c03a83,#c33d80,#c6417d,#c8437b,#ca457a,#cb4679,#cc4778,#cc4778,#cb4679,#ca457a,#c7427c,#c43e7f,#c13b82,#bd3786,#b7318a,#b22b8f,#ab2494,#a51f99,#9d189d,#9511a1,#8e0ca4,#8606a6,#7d03a8,#7501a8,#6e00a8,#6600a7,#6001a6,#5901a5,#5302a3,#4e02a2,#4903a0,#44039e,#41049d,#3e049c,#3a049a,#38049a)"></i><i class="s" style="top:258.18px;background:linear-gradient(90deg,#330597,#350498,#370499,#38049a,#3a049a,#3e049c,#41049d,#44039e,#48039f,#4c02a1,#5002a2,#5502a4,#5901a5,#6001a6,#6400a7,#6a00a8,#7100a8,#7801a8,#7e03a8,#8606a6,#8b0aa5,#920fa3,#9814a0,#9e199d,#a31e9a,#a82296,#ad2793,#b22b8f,#b52f8c,#b83289,#bc3587,#be3885,#c03a83,#c13b82,#c13b82,#c13b82,#c03a83,#bf3984,#bd3786,#ba3388,#b6308b,#b22b8f,#ad2793,#a72197,#a21d9a,#9a169f,#9410a2,#8d0ba5,#8606a6,#7e03a8,#7701a8,#6f00a8,#6700a8,#6100a7,#5b01a5,#5502a4,#5002a2,#4b03a1,#46039f,#43039e,#3f049c,#3c049b,#38049a,#38049a)"></i><i class="s" style="top:265.56px;background:linear-gradient(90deg,#330597,#330597,#350498,#370499,#3a049a,#3c049b,#3f049c,#43039e,#46039f,#4903a0,#4c02a1,#5102a3,#5601a4,#5b01a5,#6001a6,#6400a7,#6a00a8,#7100a8,#7701a8,#7d03a8,#8305a7,#8808a6,#8e0ca4,#9410a2,#99159f,#9e199d,#a31e9a,#a72197,#ab2494,#ae2892,#b12a90,#b32c8e,#b42e8d,#b52f8c,#b6308b,#b6308b,#b52f8c,#b42e8d,#b22b8f,#b02991,#ac2694,#a72197,#a21d9a,#9d189d,#9814a0,#910ea3,#8b0aa5,#8405a7,#7d03a8,#7701a8,#6f00a8,#6900a8,#6300a7,#5c01a6,#5601a4,#5102a3,#4c02a1,#48039f,#44039e,#41049d,#3c049b,#3a049a,#38049a,#370499)"></i><i class="s" style="top:272.94px;background:linear-gradient(90deg,#330597,#330597,#350498,#370499,#38049a,#3a049a,#3e049c,#3f049c,#43039e,#46039f,#4903a0,#4c02a1,#5102a3,#5601a4,#5b01a5,#6001a6,#6400a7,#6900a8,#6f00a8,#7501a8,#7a02a8,#8004a8,#8606a6,#8a09a5,#8f0da4,#9410a2,#9814a0,#9c179e,#a01a9c,#a31e9a,#a62098,#a72197,#a82296,#aa2395,#ab2494,#ab2494,#aa2395,#a82296,#a72197,#a31e9a,#a11b9b,#9d189d,#9814a0,#9410a2,#8e0ca4,#8808a6,#8104a7,#7b02a8,#7501a8,#6f00a8,#6900a8,#6300a7,#5c01a6,#5801a4,#5102a3,#4c02a1,#4903a0,#44039e,#41049d,#3e049c,#3a049a,#38049a,#370499,#350498)"></i><i class="s" style="top:280.31px;background:linear-gradient(90deg,#310597,#310597,#330597,#350498,#370499,#38049a,#3a049a,#3e049c,#3f049c,#43039e,#46039f,#4903a0,#4c02a1,#5102a3,#5502a4,#5901a5,#5e01a6,#6300a7,#6700a8,#6c00a8,#7201a8,#7701a8,#7b02a8,#8004a8,#8606a6,#8a09a5,#8d0ba5,#910ea3,#9511a1,#9814a0,#9a169f,#9c179e,#9d189d,#9e199d,#9e199d,#9e199d,#9e199d,#9d189d,#9a169f,#99159f,#9511a1,#910ea3,#8d0ba5,#8808a6,#8405a7,#7e03a8,#7801a8,#7401a8,#6e00a8,#6700a8,#6300a7,#5c01a6,#5801a4,#5302a3,#4e02a2,#4903a0,#46039f,#43039e,#3f049c,#3c049b,#38049a,#370499,#350498,#330597)"></i><i class="s" style="top:287.69px;background:linear-gradient(90deg,#310597,#310597,#330597,#330597,#350498,#370499,#38049a,#3c049b,#3e049c,#3f049c,#43039e,#46039f,#4903a0,#4c02a1,#5002a2,#5502a4,#5801a4,#5c01a6,#6100a7,#6600a7,#6a00a8,#6e00a8,#7201a8,#7701a8,#7b02a8,#8004a8,#8305a7,#8606a6,#8a09a5,#8b0aa5,#8e0ca4,#8f0da4,#910ea3,#920fa3,#920fa3,#920fa3,#920fa3,#910ea3,#8f0da4,#8d0ba5,#8a09a5,#8707a6,#8305a7,#7e03a8,#7a02a8,#7501a8,#7100a8,#6a00a8,#6600a7,#6100a7,#5c01a6,#5801a4,#5302a3,#4e02a2,#4903a0,#46039f,#43039e,#3f049c,#3c049b,#3a049a,#370499,#350498,#330597,#330597)"></i><i class="s" style="top:295.07px;background:linear-gradient(90deg,#2f0596,#310597,#310597,#330597,#330597,#350498,#370499,#38049a,#3c049b,#3e049c,#3f049c,#43039e,#46039f,#4903a0,#4c02a1,#5002a2,#5302a3,#5601a4,#5b01a5,#5e01a6,#6300a7,#6600a7,#6a00a8,#6e00a8,#7201a8,#7501a8,#7801a8,#7b02a8,#7e03a8,#8104a7,#8305a7,#8405a7,#8606a6,#8707a6,#8707a6,#8707a6,#8707a6,#8606a6,#8405a7,#8104a7,#8004a8,#7b02a8,#7801a8,#7501a8,#7100a8,#6c00a8,#6700a8,#6300a7,#5e01a6,#5b01a5,#5601a4,#5102a3,#4e02a2,#4903a0,#46039f,#43039e,#3f049c,#3e049c,#3a049a,#38049a,#370499,#330597,#330597,#310597)"></i><i class="s" style="top:302.44px;background:linear-gradient(90deg,#2f0596,#2f0596,#310597,#310597,#330597,#350498,#350498,#370499,#38049a,#3a049a,#3e049c,#3f049c,#43039e,#46039f,#48039f,#4b03a1,#4e02a2,#5102a3,#5502a4,#5801a4,#5b01a5,#6001a6,#6300a7,#6600a7,#6900a8,#6c00a8,#6f00a8,#7201a8,#7401a8,#7701a8,#7801a8,#7a02a8,#7b02a8,#7b02a8,#7d03a8,#7b02a8,#7b02a8,#7a02a8,#7801a8,#7701a8,#7501a8,#7201a8,#6f00a8,#6c00a8,#6700a8,#6400a7,#6001a6,#5c01a6,#5801a4,#5502a4,#5102a3,#4c02a1,#4903a0,#46039f,#43039e,#3f049c,#3e049c,#3a049a,#38049a,#370499,#350498,#330597,#310597,#310597)"></i><i class="s" style="top:309.82px;background:linear-gradient(90deg,#2f0596,#2f0596,#2f0596,#310597,#310597,#330597,#350498,#350498,#370499,#38049a,#3a049a,#3e049c,#3f049c,#41049d,#44039e,#46039f,#4903a0,#4c02a1,#5002a2,#5102a3,#5502a4,#5801a4,#5b01a5,#5e01a6,#6100a7,#6400a7,#6600a7,#6900a8,#6a00a8,#6c00a8,#6e00a8,#6f00a8,#7100a8,#7201a8,#7201a8,#7201a8,#7100a8,#7100a8,#6f00a8,#6e00a8,#6c00a8,#6900a8,#6600a7,#6300a7,#6001a6,#5c01a6,#5901a5,#5601a4,#5302a3,#5002a2,#4c02a1,#4903a0,#46039f,#43039e,#3f049c,#3e049c,#3a049a,#38049a,#370499,#350498,#330597,#310597,#310597,#2f0596)"></i></div><div class="hm" style="left:1276.70px;top:1181.40px;width:440.20px;height:317.20px"><i class="s0" style="top:-7.38px;background:linear-gradient(90deg,#4e02a2,#4e02a2,#4e02a2,#4e02a2,#4e02a2,#4e02a2,#4e02a2,#4c02a1,#4c02a1,#4e02a2,#5002a2,#5102a3,#5502a4,#5801a4,#5901a5,#5c01a6,#5e01a6,#5e01a6,#6001a6,#6100a7,#6100a7,#6400a7,#6600a7,#6900a8,#6a00a8,#6a00a8,#6a00a8,#6900a8,#6a00a8,#6c00a8,#6f00a8,#7100a8,#7201a8,#7201a8,#7201a8,#7201a8,#7201a8,#7201a8,#7201a8,#7201a8,#7100a8,#6f00a8,#6c00a8,#6900a8,#6700a8,#6400a7,#6300a7,#6100a7,#6100a7,#6001a6,#5e01a6,#5c01a6,#5b01a5,#5801a4,#5601a4,#5502a4,#5302a3,#5302a3,#5102a3,#5102a3,#5002a2,#4e02a2,#4e02a2,#4c02a1)"></i><i class="s" style="top:0.00px;background:linear-gradient(90deg,#4e02a2,#4e02a2,#4e02a2,#4e02a2,#4e02a2,#4e02a2,#4c02a1,#4c02a1,#4c02a1,#4c02a1,#4e02a2,#5102a3,#5302a3,#5601a4,#5901a5,#5c01a6,#5e01a6,#6001a6,#6100a7,#6300a7,#6400a7,#6600a7,#6700a8,#6900a8,#6a00a8,#6a00a8,#6c00a8,#6e00a8,#6f00a8,#7100a8,#7201a8,#7501a8,#7501a8,#7701a8,#7701a8,#7701a8,#7701a8,#7701a8,#7701a8,#7701a8,#7501a8,#7201a8,#6f00a8,#6e00a8,#6a00a8,#6700a8,#6600a7,#6300a7,#6100a7,#6001a6,#5e01a6,#5c01a6,#5b01a5,#5901a5,#5801a4,#5601a4,#5502a4,#5502a4,#5302a3,#5102a3,#5002a2,#4e02a2,#4c02a1,#4c02a1)"></i><i class="s" style="top:7.38px;background:linear-gradient(90deg,#4e02a2,#4e02a2,#4e02a2,#4e02a2,#4e02a2,#4e02a2,#4c02a1,#4c02a1,#4c02a1,#4c02a1,#4e02a2,#5002a2,#5302a3,#5601a4,#5901a5,#5c01a6,#5e01a6,#6100a7,#6400a7,#6600a7,#6900a8,#6a00a8,#6c00a8,#6e00a8,#6f00a8,#7100a8,#7201a8,#7501a8,#7701a8,#7a02a8,#7b02a8,#7d03a8,#7e03a8,#7e03a8,#7e03a8,#8004a8,#8004a8,#8004a8,#8004a8,#7e03a8,#7d03a8,#7a02a8,#7701a8,#7401a8,#7100a8,#6e00a8,#6a00a8,#6700a8,#6600a7,#6400a7,#6100a7,#6001a6,#5e01a6,#5b01a5,#5901a5,#5801a4,#5601a4,#5601a4,#5502a4,#5102a3,#5002a2,#4e02a2,#4c02a1,#4b03a1)"></i><i class="s" style="top:14.75px;background:linear-gradient(90deg,#4e02a2,#4e02a2,#4e02a2,#4e02a2,#4e02a2,#4e02a2,#4c02a1,#4c02a1,#4c02a1,#4e02a2,#4e02a2,#5102a3,#5302a3,#5601a4,#5901a5,#5c01a6,#6001a6,#6300a7,#6700a8,#6a00a8,#6e00a8,#7100a8,#7201a8,#7501a8,#7701a8,#7a02a8,#7d03a8,#8004a8,#8305a7,#8405a7,#8707a6,#8808a6,#8808a6,#8808a6,#8808a6,#8a09a5,#8a09a5,#8a09a5,#8a09a5,#8808a6,#8707a6,#8405a7,#8104a7,#7e03a8,#7a02a8,#7701a8,#7201a8,#6f00a8,#6c00a8,#6a00a8,#6700a8,#6400a7,#6100a7,#6001a6,#5c01a6,#5b01a5,#5901a5,#5801a4,#5502a4,#5302a3,#5102a3,#4e02a2,#4c02a1,#4c02a1)"></i><i class="s" style="top:22.13px;background:linear-gradient(90deg,#4e02a2,#4e02a2,#4e02a2,#4e02a2,#4e02a2,#4e02a2,#4e02a2,#4e02a2,#4e02a2,#4e02a2,#5002a2,#5302a3,#5502a4,#5801a4,#5b01a5,#5e01a6,#6100a7,#6600a7,#6a00a8,#6f00a8,#7401a8,#7801a8,#7d03a8,#8004a8,#8305a7,#8606a6,#8808a6,#8b0aa5,#8f0da4,#910ea3,#9410a2,#9511a1,#9613a1,#9613a1,#9511a1,#9511a1,#9511a1,#9511a1,#9613a1,#9511a1,#9410a2,#910ea3,#8e0ca4,#8a09a5,#8606a6,#8104a7,#7d03a8,#7801a8,#7501a8,#7201a8,#6f00a8,#6a00a8,#6700a8,#6300a7,#6001a6,#5c01a6,#5b01a5,#5901a5,#5601a4,#5502a4,#5102a3,#5002a2,#4e02a2,#4c02a1)"></i><i class="s" style="top:29.51px;background:linear-gradient(90deg,#4e02a2,#4e02a2,#4e02a2,#4e02a2,#4e02a2,#4e02a2,#4e02a2,#4e02a2,#4e02a2,#5002a2,#5102a3,#5502a4,#5601a4,#5901a5,#5c01a6,#6001a6,#6400a7,#6900a8,#6f00a8,#7501a8,#7b02a8,#8104a7,#8707a6,#8b0aa5,#8f0da4,#920fa3,#9613a1,#99159f,#9c179e,#a01a9c,#a11b9b,#a31e9a,#a31e9a,#a31e9a,#a21d9a,#a21d9a,#a21d9a,#a21d9a,#a31e9a,#a31e9a,#a11b9b,#9e199d,#9a169f,#9613a1,#910ea3,#8b0aa5,#8707a6,#8305a7,#7e03a8,#7b02a8,#7701a8,#7201a8,#6e00a8,#6900a8,#6400a7,#6001a6,#5c01a6,#5b01a5,#5801a4,#5502a4,#5302a3,#5102a3,#4e02a2,#4e02a2)"></i><i class="s" style="top:36.88px;background:linear-gradient(90deg,#4e02a2,#4e02a2,#4e02a2,#4e02a2,#4e02a2,#4e02a2,#4e02a2,#4e02a2,#5002a2,#5102a3,#5302a3,#5601a4,#5901a5,#5c01a6,#6001a6,#6400a7,#6900a8,#6f00a8,#7501a8,#7d03a8,#8405a7,#8b0aa5,#920fa3,#9814a0,#9d189d,#a11b9b,#a31e9a,#a62098,#aa2395,#ac2694,#ae2892,#b12a90,#b12a90,#b12a90,#b02991,#b02991,#b02991,#b02991,#b12a90,#b12a90,#ae2892,#ab2494,#a72197,#a21d9a,#9d189d,#9814a0,#920fa3,#8d0ba5,#8808a6,#8405a7,#7e03a8,#7a02a8,#7401a8,#6e00a8,#6700a8,#6300a7,#5e01a6,#5c01a6,#5901a5,#5601a4,#5502a4,#5102a3,#5002a2,#5002a2)"></i><i class="s" style="top:44.26px;background:linear-gradient(90deg,#4e02a2,#4e02a2,#4e02a2,#4e02a2,#4e02a2,#4e02a2,#4e02a2,#5002a2,#5002a2,#5302a3,#5502a4,#5801a4,#5b01a5,#6001a6,#6400a7,#6900a8,#6e00a8,#7501a8,#7d03a8,#8405a7,#8d0ba5,#9511a1,#9d189d,#a31e9a,#a82296,#ad2793,#b02991,#b32c8e,#b52f8c,#b7318a,#bb3488,#bc3587,#bd3786,#bd3786,#bd3786,#bd3786,#bd3786,#bd3786,#be3885,#bd3786,#bb3488,#b7318a,#b32c8e,#ae2892,#a82296,#a21d9a,#9d189d,#9613a1,#910ea3,#8d0ba5,#8707a6,#8004a8,#7801a8,#7201a8,#6a00a8,#6600a7,#6100a7,#5c01a6,#5901a5,#5801a4,#5502a4,#5302a3,#5102a3,#5102a3)"></i><i class="s" style="top:51.64px;background:linear-gradient(90deg,#4e02a2,#4e02a2,#4e02a2,#4e02a2,#4e02a2,#4e02a2,#4e02a2,#5002a2,#5002a2,#5302a3,#5601a4,#5901a5,#5e01a6,#6300a7,#6900a8,#6f00a8,#7501a8,#7d03a8,#8606a6,#8e0ca4,#9613a1,#a01a9c,#a72197,#ae2892,#b42e8d,#b83289,#bb3488,#be3885,#c03a83,#c23c81,#c43e7f,#c6417d,#c8437b,#c8437b,#c9447a,#c9447a,#ca457a,#ca457a,#c9447a,#c8437b,#c6417d,#c23c81,#be3885,#b83289,#b32c8e,#ac2694,#a62098,#a01a9c,#99159f,#9410a2,#8d0ba5,#8606a6,#7e03a8,#7501a8,#6e00a8,#6700a8,#6300a7,#5e01a6,#5b01a5,#5801a4,#5601a4,#5502a4,#5302a3,#5302a3)"></i><i class="s" style="top:59.01px;background:linear-gradient(90deg,#4e02a2,#4e02a2,#4e02a2,#4e02a2,#4e02a2,#4e02a2,#4e02a2,#4e02a2,#5002a2,#5302a3,#5601a4,#5b01a5,#6100a7,#6700a8,#6f00a8,#7701a8,#7e03a8,#8707a6,#8f0da4,#9814a0,#a01a9c,#a82296,#b12a90,#b7318a,#be3885,#c23c81,#c5407e,#c7427c,#c9447a,#cb4679,#cc4977,#ce4b75,#d04d73,#d24f71,#d45270,#d5536f,#d5536f,#d5536f,#d45270,#d24f71,#cf4c74,#cc4778,#c7427c,#c23c81,#bc3587,#b52f8c,#ae2892,#a72197,#a11b9b,#99159f,#920fa3,#8a09a5,#8104a7,#7a02a8,#7100a8,#6a00a8,#6400a7,#6001a6,#5b01a5,#5801a4,#5601a4,#5502a4,#5502a4,#5302a3)"></i><i class="s" style="top:66.39px;background:linear-gradient(90deg,#4e02a2,#4e02a2,#4e02a2,#4e02a2,#4e02a2,#4e02a2,#4e02a2,#4e02a2,#5002a2,#5302a3,#5601a4,#5c01a6,#6300a7,#6c00a8,#7401a8,#7d03a8,#8707a6,#8f0da4,#9814a0,#a11b9b,#aa2395,#b22b8f,#ba3388,#c03a83,#c6417d,#cb4679,#cd4a76,#cf4c74,#d14e72,#d35171,#d5536f,#d6556d,#d9586a,#da5b69,#dd5e66,#de6164,#df6263,#de6164,#de5f65,#db5c68,#d8576b,#d45270,#cf4c74,#ca457a,#c33d80,#bd3786,#b52f8c,#ae2892,#a72197,#a01a9c,#9613a1,#8e0ca4,#8606a6,#7d03a8,#7401a8,#6e00a8,#6600a7,#6100a7,#5c01a6,#5901a5,#5801a4,#5601a4,#5502a4,#5502a4)"></i><i class="s" style="top:73.77px;background:linear-gradient(90deg,#4e02a2,#4e02a2,#4e02a2,#4e02a2,#4e02a2,#4e02a2,#4e02a2,#4e02a2,#5002a2,#5302a3,#5801a4,#5e01a6,#6600a7,#6f00a8,#7801a8,#8405a7,#8e0ca4,#9814a0,#a11b9b,#aa2395,#b22b8f,#ba3388,#c13b82,#c8437b,#cd4a76,#d14e72,#d5536f,#d7566c,#d9586a,#da5b69,#dc5d67,#de5f65,#e06363,#e26660,#e56a5d,#e66c5c,#e76e5b,#e76e5b,#e56b5d,#e3685f,#df6263,#db5c68,#d6556d,#d14e72,#cb4679,#c43e7f,#bd3786,#b52f8c,#ad2793,#a51f99,#9c179e,#920fa3,#8a09a5,#8104a7,#7801a8,#7100a8,#6900a8,#6400a7,#5e01a6,#5b01a5,#5901a5,#5801a4,#5601a4,#5601a4)"></i><i class="s" style="top:81.14px;background:linear-gradient(90deg,#4e02a2,#4e02a2,#4e02a2,#4e02a2,#4e02a2,#4e02a2,#4e02a2,#4e02a2,#5002a2,#5302a3,#5801a4,#6001a6,#6700a8,#7100a8,#7d03a8,#8808a6,#9410a2,#9e199d,#a72197,#b12a90,#b83289,#c03a83,#c8437b,#cd4a76,#d35171,#d7566c,#da5b69,#de5f65,#df6263,#e16462,#e26660,#e56a5d,#e66c5c,#e87059,#ea7457,#ec7754,#ed7953,#ed7953,#eb7655,#e97257,#e66c5c,#e26660,#dd5e66,#d7566c,#d14e72,#cb4679,#c33d80,#bc3587,#b32c8e,#ab2494,#a11b9b,#9814a0,#8e0ca4,#8606a6,#7d03a8,#7501a8,#6e00a8,#6700a8,#6300a7,#5e01a6,#5b01a5,#5801a4,#5801a4,#5601a4)"></i><i class="s" style="top:88.52px;background:linear-gradient(90deg,#4e02a2,#4e02a2,#4e02a2,#4e02a2,#4e02a2,#4e02a2,#4e02a2,#5002a2,#5102a3,#5502a4,#5901a5,#6100a7,#6900a8,#7401a8,#8004a8,#8b0aa5,#9814a0,#a31e9a,#ad2793,#b6308b,#bf3984,#c6417d,#cc4977,#d35171,#d8576b,#dc5d67,#e06363,#e26660,#e56b5d,#e76e5b,#e97158,#ea7457,#eb7655,#ed7a52,#ef7e50,#f0804e,#f1814d,#f1814d,#f0804e,#ef7e50,#ec7754,#e87059,#e26660,#dd5e66,#d6556d,#d04d73,#c9447a,#c23c81,#b83289,#b02991,#a62098,#9c179e,#9410a2,#8a09a5,#8305a7,#7a02a8,#7201a8,#6c00a8,#6600a7,#6100a7,#5e01a6,#5b01a5,#5801a4,#5601a4)"></i><i class="s" style="top:95.90px;background:linear-gradient(90deg,#4e02a2,#4e02a2,#4e02a2,#4e02a2,#4e02a2,#4e02a2,#4e02a2,#5002a2,#5302a3,#5601a4,#5b01a5,#6300a7,#6a00a8,#7501a8,#8305a7,#8e0ca4,#9c179e,#a72197,#b22b8f,#bc3587,#c43e7f,#cb4679,#d14e72,#d7566c,#dc5d67,#e06363,#e4695e,#e76e5b,#e97257,#eb7655,#ed7a52,#ef7c51,#f07f4f,#f1814d,#f3854b,#f48849,#f48948,#f58b47,#f58b47,#f48849,#f1814d,#ed7953,#e87059,#e26660,#dc5d67,#d5546e,#ce4b75,#c7427c,#be3885,#b42e8d,#ab2494,#a11b9b,#9814a0,#8e0ca4,#8606a6,#7e03a8,#7701a8,#6f00a8,#6900a8,#6400a7,#6001a6,#5c01a6,#5901a5,#5801a4)"></i><i class="s" style="top:103.27px;background:linear-gradient(90deg,#4e02a2,#4e02a2,#4e02a2,#4c02a1,#4c02a1,#4e02a2,#4e02a2,#5102a3,#5302a3,#5801a4,#5e01a6,#6400a7,#6e00a8,#7801a8,#8405a7,#920fa3,#9e199d,#ab2494,#b52f8c,#bf3984,#c8437b,#cf4c74,#d5536f,#da5b69,#df6263,#e3685f,#e76f5a,#ea7457,#ed7953,#ef7c51,#f0804e,#f2844b,#f3874a,#f48948,#f58c46,#f68f44,#f79143,#f79342,#f89441,#f79143,#f58b47,#f1834c,#ed7953,#e76e5b,#e16462,#da5b69,#d35171,#cb4679,#c23c81,#b83289,#ae2892,#a31e9a,#9a169f,#910ea3,#8808a6,#8004a8,#7801a8,#7100a8,#6a00a8,#6400a7,#6100a7,#5c01a6,#5b01a5,#5901a5)"></i><i class="s" style="top:110.65px;background:linear-gradient(90deg,#4e02a2,#4e02a2,#4e02a2,#4c02a1,#4c02a1,#4e02a2,#4e02a2,#5102a3,#5502a4,#5901a5,#6001a6,#6700a8,#7100a8,#7b02a8,#8808a6,#9511a1,#a11b9b,#ad2793,#b83289,#c23c81,#cb4679,#d24f71,#d8576b,#dd5e66,#e26561,#e56b5d,#e97257,#ed7953,#ef7e50,#f1834c,#f3854b,#f48948,#f58c46,#f68f44,#f79143,#f89441,#f9983e,#fa9b3d,#fa9c3c,#f99a3e,#f89441,#f58c46,#f1814d,#eb7655,#e56b5d,#de6164,#d6556d,#ce4b75,#c5407e,#bb3488,#b12a90,#a62098,#9c179e,#920fa3,#8808a6,#8004a8,#7801a8,#7100a8,#6a00a8,#6400a7,#6100a7,#5e01a6,#5c01a6,#5b01a5)"></i><i class="s" style="top:118.03px;background:linear-gradient(90deg,#4e02a2,#4e02a2,#4e02a2,#4c02a1,#4c02a1,#4e02a2,#5002a2,#5102a3,#5502a4,#5901a5,#6100a7,#6a00a8,#7401a8,#8004a8,#8b0aa5,#9814a0,#a31e9a,#b02991,#bb3488,#c5407e,#cd4a76,#d45270,#da5a6a,#de6164,#e3685f,#e76f5a,#eb7655,#ef7c51,#f1814d,#f3874a,#f48948,#f68d45,#f79044,#f79342,#f9973f,#f99a3e,#fa9e3b,#fba238,#fca338,#fba238,#fa9c3c,#f79342,#f48849,#ef7c51,#e97158,#e26561,#da5a6a,#d14e72,#c8437b,#be3885,#b32c8e,#a82296,#9e199d,#9410a2,#8a09a5,#8004a8,#7801a8,#7100a8,#6900a8,#6400a7,#6100a7,#5e01a6,#5c01a6,#5c01a6)"></i><i class="s" style="top:125.40px;background:linear-gradient(90deg,#4e02a2,#4e02a2,#4e02a2,#4c02a1,#4c02a1,#4e02a2,#5002a2,#5102a3,#5601a4,#5b01a5,#6300a7,#6c00a8,#7701a8,#8305a7,#8e0ca4,#9a169f,#a62098,#b22b8f,#bd3786,#c7427c,#ce4b75,#d5546e,#db5c68,#e16462,#e56b5d,#e97257,#ed7a52,#f0804e,#f3854b,#f48948,#f68d45,#f79044,#f79342,#f9973f,#fa9b3d,#fb9f3a,#fca338,#fca636,#fca934,#fca835,#fba238,#f99a3e,#f68f44,#f1834c,#eb7655,#e56a5d,#dc5d67,#d45270,#ca457a,#c03a83,#b52f8c,#ab2494,#a01a9c,#9511a1,#8b0aa5,#8104a7,#7801a8,#7100a8,#6a00a8,#6600a7,#6100a7,#6001a6,#5e01a6,#5e01a6)"></i><i class="s" style="top:132.78px;background:linear-gradient(90deg,#4e02a2,#4e02a2,#4e02a2,#4c02a1,#4c02a1,#4e02a2,#5002a2,#5302a3,#5601a4,#5c01a6,#6600a7,#6f00a8,#7a02a8,#8606a6,#920fa3,#9d189d,#aa2395,#b42e8d,#bf3984,#c8437b,#d04d73,#d7566c,#dd5e66,#e26660,#e76f5a,#eb7655,#ef7c51,#f1834c,#f48849,#f58c46,#f79044,#f79342,#f89540,#f99a3e,#fa9e3b,#fba238,#fca636,#fdab33,#fdac33,#fdab33,#fca636,#fa9e3b,#f79342,#f3854b,#ed7953,#e66c5c,#de6164,#d5546e,#cc4778,#c23c81,#b7318a,#ad2793,#a21d9a,#9814a0,#8d0ba5,#8405a7,#7b02a8,#7401a8,#6c00a8,#6700a8,#6300a7,#6001a6,#5e01a6,#5c01a6)"></i><i class="s" style="top:140.16px;background:linear-gradient(90deg,#4e02a2,#4e02a2,#4c02a1,#4c02a1,#4c02a1,#4e02a2,#5002a2,#5302a3,#5801a4,#5e01a6,#6700a8,#7100a8,#7d03a8,#8808a6,#9410a2,#a01a9c,#ab2494,#b6308b,#c03a83,#c9447a,#d04d73,#d8576b,#de6164,#e56a5d,#e97158,#ed7953,#f0804e,#f3854b,#f58b47,#f68f44,#f79143,#f89540,#f9983e,#fa9c3c,#fba139,#fca537,#fca934,#fdac33,#fdaf31,#fdae32,#fca835,#fb9f3a,#f89441,#f48849,#ee7b51,#e76f5a,#df6263,#d7566c,#cd4a76,#c43e7f,#ba3388,#ae2892,#a51f99,#9a169f,#8f0da4,#8707a6,#7e03a8,#7701a8,#6f00a8,#6900a8,#6400a7,#6100a7,#5e01a6,#5c01a6)"></i><i class="s" style="top:147.53px;background:linear-gradient(90deg,#4e02a2,#4e02a2,#4c02a1,#4c02a1,#4c02a1,#4e02a2,#5002a2,#5302a3,#5901a5,#6001a6,#6900a8,#7201a8,#7e03a8,#8a09a5,#9613a1,#a11b9b,#ac2694,#b6308b,#c03a83,#c9447a,#d14e72,#d9586a,#df6263,#e56b5d,#ea7457,#ee7b51,#f1814d,#f3874a,#f58c46,#f79044,#f79342,#f9973f,#f99a3e,#fa9e3b,#fba139,#fca537,#fca934,#fdae32,#fdaf31,#fdaf31,#fca934,#fba139,#f89540,#f48849,#ef7c51,#e76f5a,#e06363,#d7566c,#ce4b75,#c5407e,#bb3488,#b02991,#a62098,#9c179e,#910ea3,#8808a6,#8004a8,#7801a8,#7201a8,#6a00a8,#6600a7,#6100a7,#5e01a6,#5b01a5)"></i><i class="s" style="top:154.91px;background:linear-gradient(90deg,#4e02a2,#4e02a2,#4c02a1,#4c02a1,#4c02a1,#4e02a2,#5002a2,#5302a3,#5901a5,#6001a6,#6900a8,#7201a8,#7e03a8,#8a09a5,#9613a1,#a11b9b,#ac2694,#b6308b,#c03a83,#c9447a,#d14e72,#d9586a,#df6263,#e56b5d,#ea7457,#ee7b51,#f1814d,#f3874a,#f58c46,#f79044,#f79342,#f9973f,#f99a3e,#fa9e3b,#fba139,#fca537,#fca934,#fdae32,#fdaf31,#fdae32,#fca934,#fba139,#f89441,#f48849,#ef7c51,#e76f5a,#e06363,#d7566c,#ce4b75,#c5407e,#bb3488,#b02991,#a62098,#9c179e,#910ea3,#8808a6,#8004a8,#7801a8,#7201a8,#6a00a8,#6600a7,#6100a7,#5e01a6,#5b01a5)"></i><i class="s" style="top:162.29px;background:linear-gradient(90deg,#4e02a2,#4e02a2,#4c02a1,#4c02a1,#4c02a1,#4e02a2,#5002a2,#5302a3,#5801a4,#5e01a6,#6700a8,#7100a8,#7d03a8,#8808a6,#9410a2,#a01a9c,#ab2494,#b52f8c,#c03a83,#c9447a,#d04d73,#d8576b,#de6164,#e56a5d,#e97158,#ed7953,#f0804e,#f3854b,#f58b47,#f68f44,#f79143,#f89540,#f9983e,#fa9c3c,#fb9f3a,#fca338,#fca934,#fdac33,#fdaf31,#fdae32,#fca835,#fb9f3a,#f89441,#f48849,#ee7b51,#e76f5a,#df6263,#d7566c,#cd4a76,#c43e7f,#ba3388,#ae2892,#a51f99,#9a169f,#8f0da4,#8707a6,#7e03a8,#7701a8,#6f00a8,#6900a8,#6400a7,#6100a7,#5e01a6,#5c01a6)"></i><i class="s" style="top:169.66px;background:linear-gradient(90deg,#4e02a2,#4e02a2,#4e02a2,#4c02a1,#4c02a1,#4e02a2,#5002a2,#5302a3,#5601a4,#5c01a6,#6600a7,#6f00a8,#7a02a8,#8606a6,#920fa3,#9d189d,#aa2395,#b42e8d,#bf3984,#c8437b,#d04d73,#d7566c,#dd5e66,#e26660,#e76f5a,#eb7655,#ef7c51,#f1834c,#f48849,#f58c46,#f79044,#f79342,#f89540,#f99a3e,#fa9e3b,#fba238,#fca636,#fdab33,#fdac33,#fdab33,#fca636,#fa9c3c,#f79143,#f3854b,#ed7953,#e66c5c,#de5f65,#d5546e,#cc4778,#c23c81,#b7318a,#ad2793,#a21d9a,#9814a0,#8d0ba5,#8405a7,#7b02a8,#7201a8,#6c00a8,#6700a8,#6300a7,#6001a6,#5e01a6,#5c01a6)"></i><i class="s" style="top:177.04px;background:linear-gradient(90deg,#4e02a2,#4e02a2,#4e02a2,#4c02a1,#4c02a1,#4e02a2,#5002a2,#5102a3,#5601a4,#5b01a5,#6300a7,#6c00a8,#7701a8,#8305a7,#8e0ca4,#9a169f,#a62098,#b22b8f,#bd3786,#c7427c,#ce4b75,#d5546e,#db5c68,#e16462,#e56b5d,#e97257,#ed7a52,#f0804e,#f3854b,#f48948,#f68d45,#f79044,#f79342,#f9973f,#fa9b3d,#fb9f3a,#fca338,#fca636,#fca934,#fca835,#fba238,#f99a3e,#f68f44,#f1834c,#eb7655,#e56a5d,#dc5d67,#d45270,#ca457a,#c03a83,#b52f8c,#ab2494,#a01a9c,#9511a1,#8b0aa5,#8104a7,#7801a8,#7100a8,#6a00a8,#6600a7,#6100a7,#6001a6,#5e01a6,#5e01a6)"></i><i class="s" style="top:184.42px;background:linear-gradient(90deg,#4e02a2,#4e02a2,#4e02a2,#4c02a1,#4c02a1,#4e02a2,#5002a2,#5102a3,#5502a4,#5901a5,#6100a7,#6a00a8,#7401a8,#8004a8,#8b0aa5,#9814a0,#a31e9a,#b02991,#bb3488,#c5407e,#cd4a76,#d45270,#da5a6a,#de6164,#e3685f,#e76f5a,#eb7655,#ef7c51,#f1814d,#f3874a,#f48948,#f68d45,#f79044,#f79342,#f9973f,#fa9b3d,#fb9f3a,#fba238,#fca338,#fba238,#fa9c3c,#f89441,#f48948,#ef7e50,#e97158,#e26561,#da5a6a,#d14e72,#c8437b,#be3885,#b32c8e,#a82296,#9e199d,#9410a2,#8a09a5,#8004a8,#7801a8,#7100a8,#6900a8,#6400a7,#6100a7,#5e01a6,#5c01a6,#5c01a6)"></i><i class="s" style="top:191.79px;background:linear-gradient(90deg,#4e02a2,#4e02a2,#4e02a2,#4c02a1,#4c02a1,#4e02a2,#4e02a2,#5102a3,#5502a4,#5901a5,#6001a6,#6700a8,#7100a8,#7b02a8,#8808a6,#9511a1,#a11b9b,#ad2793,#b83289,#c23c81,#cb4679,#d24f71,#d8576b,#dd5e66,#e26561,#e56b5d,#e97257,#ed7953,#ef7e50,#f1834c,#f3854b,#f48948,#f58c46,#f68f44,#f79143,#f89540,#f9983e,#fa9c3c,#fa9c3c,#fa9b3d,#f89540,#f58c46,#f1814d,#eb7655,#e56b5d,#de6164,#d7566c,#ce4b75,#c5407e,#bb3488,#b12a90,#a62098,#9c179e,#920fa3,#8808a6,#8004a8,#7801a8,#7100a8,#6a00a8,#6400a7,#6100a7,#5e01a6,#5c01a6,#5b01a5)"></i><i class="s" style="top:199.17px;background:linear-gradient(90deg,#4e02a2,#4e02a2,#4e02a2,#4c02a1,#4c02a1,#4e02a2,#4e02a2,#5102a3,#5302a3,#5801a4,#5e01a6,#6400a7,#6e00a8,#7801a8,#8405a7,#920fa3,#9e199d,#ab2494,#b52f8c,#bf3984,#c8437b,#cf4c74,#d5536f,#da5b69,#df6263,#e3685f,#e76f5a,#ea7457,#ed7953,#ef7c51,#f0804e,#f2844b,#f3874a,#f48948,#f58c46,#f68f44,#f79143,#f89441,#f89441,#f79143,#f58c46,#f1834c,#ed7953,#e76f5a,#e16462,#da5b69,#d35171,#cb4679,#c23c81,#b7318a,#ad2793,#a31e9a,#9a169f,#910ea3,#8808a6,#8004a8,#7801a8,#7100a8,#6a00a8,#6400a7,#6100a7,#5c01a6,#5b01a5,#5901a5)"></i><i class="s" style="top:206.55px;background:linear-gradient(90deg,#4e02a2,#4e02a2,#4e02a2,#4e02a2,#4e02a2,#4e02a2,#4e02a2,#5002a2,#5302a3,#5601a4,#5b01a5,#6300a7,#6a00a8,#7501a8,#8104a7,#8e0ca4,#9c179e,#a72197,#b22b8f,#bc3587,#c43e7f,#cb4679,#d14e72,#d7566c,#dc5d67,#e06363,#e4695e,#e76e5b,#e97257,#eb7655,#ed7a52,#ef7c51,#f07f4f,#f1814d,#f2844b,#f3874a,#f48948,#f58b47,#f48948,#f3874a,#f1814d,#ed7953,#e76f5a,#e26561,#dc5d67,#d5546e,#ce4b75,#c7427c,#be3885,#b42e8d,#ab2494,#a11b9b,#9814a0,#8e0ca4,#8606a6,#7e03a8,#7701a8,#6f00a8,#6900a8,#6400a7,#6001a6,#5c01a6,#5901a5,#5801a4)"></i><i class="s" style="top:213.92px;background:linear-gradient(90deg,#4e02a2,#4e02a2,#4e02a2,#4e02a2,#4e02a2,#4e02a2,#4e02a2,#5002a2,#5102a3,#5502a4,#5901a5,#6100a7,#6900a8,#7401a8,#8004a8,#8b0aa5,#9814a0,#a31e9a,#ad2793,#b6308b,#bf3984,#c6417d,#cd4a76,#d35171,#d8576b,#dc5d67,#e06363,#e26660,#e56b5d,#e76e5b,#e97158,#ea7457,#eb7655,#ed7953,#ee7b51,#ef7e50,#f07f4f,#f07f4f,#ef7e50,#ee7b51,#eb7556,#e76e5b,#e26561,#db5c68,#d5546e,#cf4c74,#c9447a,#c23c81,#ba3388,#b12a90,#a62098,#9d189d,#9410a2,#8a09a5,#8104a7,#7a02a8,#7201a8,#6c00a8,#6600a7,#6100a7,#5c01a6,#5b01a5,#5801a4,#5601a4)"></i><i class="s" style="top:221.30px;background:linear-gradient(90deg,#4e02a2,#4e02a2,#4e02a2,#4e02a2,#4e02a2,#4e02a2,#4e02a2,#4e02a2,#5002a2,#5302a3,#5901a5,#6001a6,#6700a8,#7100a8,#7d03a8,#8808a6,#9410a2,#9e199d,#a72197,#b12a90,#b83289,#c03a83,#c8437b,#cd4a76,#d35171,#d7566c,#da5b69,#dd5e66,#df6263,#e26561,#e3685f,#e56a5d,#e66c5c,#e76f5a,#e97158,#e97257,#ea7457,#ea7457,#e97158,#e76f5a,#e4695e,#df6263,#da5a6a,#d5536f,#ce4b75,#c9447a,#c33d80,#bc3587,#b42e8d,#ab2494,#a21d9a,#9814a0,#8e0ca4,#8606a6,#7d03a8,#7501a8,#6e00a8,#6700a8,#6300a7,#5e01a6,#5b01a5,#5801a4,#5801a4,#5601a4)"></i><i class="s" style="top:228.68px;background:linear-gradient(90deg,#4e02a2,#4e02a2,#4e02a2,#4e02a2,#4e02a2,#4e02a2,#4e02a2,#4e02a2,#5002a2,#5302a3,#5801a4,#5e01a6,#6600a7,#6f00a8,#7801a8,#8405a7,#8e0ca4,#9814a0,#a11b9b,#aa2395,#b22b8f,#ba3388,#c13b82,#c8437b,#cd4a76,#d14e72,#d5536f,#d7566c,#d9586a,#da5b69,#dc5d67,#de5f65,#df6263,#e16462,#e26561,#e26660,#e3685f,#e26660,#e26561,#df6263,#db5c68,#d7566c,#d24f71,#cc4977,#c7427c,#c23c81,#bc3587,#b52f8c,#ae2892,#a62098,#9c179e,#920fa3,#8a09a5,#8104a7,#7801a8,#7100a8,#6900a8,#6400a7,#5e01a6,#5b01a5,#5901a5,#5801a4,#5601a4,#5601a4)"></i><i class="s" style="top:236.05px;background:linear-gradient(90deg,#4e02a2,#4e02a2,#4e02a2,#4e02a2,#4e02a2,#4e02a2,#4e02a2,#4e02a2,#5002a2,#5302a3,#5601a4,#5c01a6,#6300a7,#6c00a8,#7501a8,#7e03a8,#8707a6,#910ea3,#99159f,#a11b9b,#aa2395,#b22b8f,#ba3388,#c03a83,#c6417d,#ca457a,#cd4a76,#cf4c74,#d14e72,#d45270,#d5546e,#d6556d,#d8576b,#da5a6a,#da5b69,#da5b69,#da5b69,#da5b69,#d9586a,#d6556d,#d35171,#ce4b75,#ca457a,#c43e7f,#bf3984,#ba3388,#b42e8d,#ae2892,#a72197,#9e199d,#9613a1,#8d0ba5,#8405a7,#7d03a8,#7501a8,#6e00a8,#6700a8,#6100a7,#5c01a6,#5901a5,#5801a4,#5601a4,#5502a4,#5502a4)"></i><i class="s" style="top:243.43px;background:linear-gradient(90deg,#4e02a2,#4e02a2,#4e02a2,#4e02a2,#4e02a2,#4e02a2,#4e02a2,#4e02a2,#5002a2,#5302a3,#5601a4,#5b01a5,#6100a7,#6700a8,#6f00a8,#7801a8,#8104a7,#8808a6,#910ea3,#9814a0,#a01a9c,#a82296,#b12a90,#b7318a,#be3885,#c23c81,#c5407e,#c7427c,#c9447a,#cc4778,#cd4a76,#cf4c74,#d04d73,#d14e72,#d24f71,#d24f71,#d24f71,#d14e72,#cf4c74,#cd4a76,#ca457a,#c6417d,#c13b82,#bc3587,#b6308b,#b22b8f,#ac2694,#a62098,#9e199d,#9613a1,#8e0ca4,#8707a6,#8004a8,#7801a8,#7201a8,#6a00a8,#6600a7,#6001a6,#5c01a6,#5801a4,#5601a4,#5502a4,#5502a4,#5302a3)"></i><i class="s" style="top:250.81px;background:linear-gradient(90deg,#4e02a2,#4e02a2,#4e02a2,#4e02a2,#4e02a2,#4e02a2,#4e02a2,#5002a2,#5002a2,#5302a3,#5502a4,#5901a5,#5e01a6,#6300a7,#6a00a8,#7201a8,#7a02a8,#8104a7,#8808a6,#8f0da4,#9613a1,#9e199d,#a72197,#ae2892,#b42e8d,#b83289,#bc3587,#be3885,#c03a83,#c23c81,#c43e7f,#c6417d,#c8437b,#c8437b,#c8437b,#c8437b,#c8437b,#c7427c,#c5407e,#c33d80,#c03a83,#bc3587,#b7318a,#b32c8e,#ad2793,#a82296,#a31e9a,#9d189d,#9613a1,#8e0ca4,#8707a6,#8004a8,#7a02a8,#7401a8,#6e00a8,#6900a8,#6400a7,#6001a6,#5b01a5,#5801a4,#5601a4,#5502a4,#5302a3,#5302a3)"></i><i class="s" style="top:258.18px;background:linear-gradient(90deg,#4e02a2,#4e02a2,#4e02a2,#4e02a2,#4e02a2,#4e02a2,#4e02a2,#5002a2,#5002a2,#5302a3,#5502a4,#5801a4,#5b01a5,#6001a6,#6600a7,#6c00a8,#7201a8,#7801a8,#8004a8,#8606a6,#8d0ba5,#9511a1,#9d189d,#a31e9a,#a82296,#ad2793,#b12a90,#b32c8e,#b52f8c,#b7318a,#bb3488,#bc3587,#bd3786,#be3885,#be3885,#bd3786,#bc3587,#bb3488,#ba3388,#b7318a,#b42e8d,#b12a90,#ac2694,#a82296,#a31e9a,#9e199d,#99159f,#920fa3,#8d0ba5,#8606a6,#7e03a8,#7801a8,#7401a8,#6f00a8,#6a00a8,#6600a7,#6100a7,#5c01a6,#5901a5,#5601a4,#5502a4,#5302a3,#5102a3,#5102a3)"></i><i class="s" style="top:265.56px;background:linear-gradient(90deg,#4e02a2,#4e02a2,#4e02a2,#4e02a2,#4e02a2,#4e02a2,#4e02a2,#4e02a2,#5002a2,#5102a3,#5302a3,#5601a4,#5801a4,#5c01a6,#6100a7,#6600a7,#6c00a8,#7201a8,#7801a8,#7e03a8,#8405a7,#8b0aa5,#910ea3,#9814a0,#9d189d,#a11b9b,#a31e9a,#a62098,#aa2395,#ac2694,#ae2892,#b12a90,#b22b8f,#b22b8f,#b22b8f,#b12a90,#b02991,#ae2892,#ad2793,#ab2494,#a72197,#a51f99,#a01a9c,#9c179e,#9814a0,#9410a2,#8e0ca4,#8808a6,#8305a7,#7d03a8,#7701a8,#7100a8,#6c00a8,#6900a8,#6400a7,#6100a7,#5e01a6,#5901a5,#5601a4,#5502a4,#5302a3,#5102a3,#5002a2,#5002a2)"></i><i class="s" style="top:272.94px;background:linear-gradient(90deg,#4e02a2,#4e02a2,#4e02a2,#4e02a2,#4e02a2,#4e02a2,#4e02a2,#4e02a2,#4e02a2,#5002a2,#5102a3,#5302a3,#5601a4,#5901a5,#5e01a6,#6100a7,#6600a7,#6c00a8,#7100a8,#7701a8,#7b02a8,#8104a7,#8707a6,#8b0aa5,#8f0da4,#9410a2,#9613a1,#99159f,#9c179e,#9e199d,#a11b9b,#a31e9a,#a51f99,#a51f99,#a51f99,#a31e9a,#a21d9a,#a11b9b,#9e199d,#9d189d,#99159f,#9613a1,#920fa3,#8f0da4,#8b0aa5,#8707a6,#8305a7,#7e03a8,#7801a8,#7401a8,#6e00a8,#6900a8,#6600a7,#6300a7,#5e01a6,#5b01a5,#5801a4,#5601a4,#5302a3,#5102a3,#5002a2,#5002a2,#5002a2,#5002a2)"></i><i class="s" style="top:280.31px;background:linear-gradient(90deg,#4e02a2,#4e02a2,#4e02a2,#4e02a2,#4e02a2,#4e02a2,#4e02a2,#4e02a2,#4e02a2,#4e02a2,#5002a2,#5302a3,#5502a4,#5801a4,#5b01a5,#5e01a6,#6300a7,#6600a7,#6a00a8,#6f00a8,#7401a8,#7801a8,#7b02a8,#8004a8,#8305a7,#8606a6,#8808a6,#8d0ba5,#8f0da4,#910ea3,#9410a2,#9511a1,#9613a1,#9613a1,#9613a1,#9613a1,#9511a1,#9410a2,#910ea3,#8e0ca4,#8b0aa5,#8808a6,#8606a6,#8305a7,#8004a8,#7b02a8,#7801a8,#7401a8,#6f00a8,#6a00a8,#6600a7,#6300a7,#6001a6,#5c01a6,#5901a5,#5601a4,#5302a3,#5102a3,#5002a2,#4e02a2,#4e02a2,#4e02a2,#4e02a2,#4e02a2)"></i><i class="s" style="top:287.69px;background:linear-gradient(90deg,#4e02a2,#4e02a2,#4e02a2,#4e02a2,#4e02a2,#4e02a2,#4c02a1,#4c02a1,#4c02a1,#4e02a2,#4e02a2,#5102a3,#5502a4,#5601a4,#5901a5,#5c01a6,#6001a6,#6300a7,#6600a7,#6a00a8,#6e00a8,#7100a8,#7201a8,#7501a8,#7701a8,#7a02a8,#7d03a8,#8004a8,#8305a7,#8405a7,#8606a6,#8707a6,#8808a6,#8808a6,#8808a6,#8808a6,#8707a6,#8606a6,#8405a7,#8104a7,#7e03a8,#7b02a8,#7801a8,#7701a8,#7401a8,#7100a8,#6f00a8,#6c00a8,#6700a8,#6400a7,#6001a6,#5c01a6,#5901a5,#5601a4,#5302a3,#5102a3,#4e02a2,#4c02a1,#4c02a1,#4c02a1,#4c02a1,#4c02a1,#4e02a2,#4e02a2)"></i><i class="s" style="top:295.07px;background:linear-gradient(90deg,#4e02a2,#4e02a2,#4e02a2,#4e02a2,#4e02a2,#4e02a2,#4c02a1,#4c02a1,#4c02a1,#4c02a1,#4e02a2,#5102a3,#5302a3,#5601a4,#5801a4,#5b01a5,#5c01a6,#6001a6,#6300a7,#6600a7,#6900a8,#6a00a8,#6c00a8,#6e00a8,#6f00a8,#7100a8,#7201a8,#7501a8,#7701a8,#7a02a8,#7b02a8,#7b02a8,#7d03a8,#7d03a8,#7d03a8,#7d03a8,#7b02a8,#7a02a8,#7801a8,#7701a8,#7401a8,#7100a8,#6f00a8,#6c00a8,#6a00a8,#6900a8,#6700a8,#6400a7,#6100a7,#5e01a6,#5b01a5,#5801a4,#5502a4,#5302a3,#5002a2,#4e02a2,#4c02a1,#4b03a1,#4b03a1,#4b03a1,#4b03a1,#4c02a1,#4c02a1,#4e02a2)"></i><i class="s" style="top:302.44px;background:linear-gradient(90deg,#4e02a2,#4e02a2,#4e02a2,#4e02a2,#4e02a2,#4e02a2,#4c02a1,#4c02a1,#4c02a1,#4c02a1,#4e02a2,#5102a3,#5302a3,#5601a4,#5801a4,#5b01a5,#5c01a6,#5e01a6,#6100a7,#6300a7,#6400a7,#6600a7,#6700a8,#6900a8,#6a00a8,#6a00a8,#6c00a8,#6e00a8,#6f00a8,#7100a8,#7201a8,#7201a8,#7401a8,#7401a8,#7201a8,#7201a8,#7100a8,#7100a8,#6f00a8,#6e00a8,#6c00a8,#6900a8,#6700a8,#6400a7,#6400a7,#6300a7,#6100a7,#6001a6,#5c01a6,#5b01a5,#5801a4,#5502a4,#5302a3,#5102a3,#5002a2,#4e02a2,#4c02a1,#4b03a1,#4b03a1,#4b03a1,#4b03a1,#4c02a1,#4c02a1,#4e02a2)"></i><i class="s" style="top:309.82px;background:linear-gradient(90deg,#4e02a2,#4e02a2,#4e02a2,#4e02a2,#4e02a2,#4e02a2,#4e02a2,#4c02a1,#4c02a1,#4e02a2,#5002a2,#5102a3,#5502a4,#5801a4,#5901a5,#5c01a6,#5e01a6,#5e01a6,#6001a6,#6100a7,#6100a7,#6400a7,#6600a7,#6900a8,#6a00a8,#6a00a8,#6a00a8,#6a00a8,#6a00a8,#6c00a8,#6c00a8,#6e00a8,#6e00a8,#6c00a8,#6c00a8,#6a00a8,#6a00a8,#6a00a8,#6a00a8,#6a00a8,#6900a8,#6600a7,#6400a7,#6100a7,#6100a7,#6001a6,#6001a6,#5e01a6,#5b01a5,#5901a5,#5601a4,#5502a4,#5502a4,#5302a3,#5102a3,#5102a3,#5002a2,#4e02a2,#4e02a2,#4e02a2,#4e02a2,#4e02a2,#4e02a2,#4e02a2)"></i></div><div class="cb" style="left:854.80px;top:39.70px;width:72.80px;height:1458.20px;background:linear-gradient(180deg,#f0f921,#f2f227,#f5eb27,#f7e425,#f9dd25,#fbd724,#fcd025,#fdca26,#fdc328,#febd2a,#feb72d,#fdb130,#fdab33,#fca537,#fb9f3a,#f99a3e,#f79342,#f68d45,#f48849,#f1834c,#ef7e50,#ed7953,#ea7457,#e76f5a,#e56a5d,#e26561,#de6164,#db5c68,#d8576b,#d5536f,#d14e72,#cd4a76,#c9447a,#c5407e,#c13b82,#bd3786,#b83289,#b42e8d,#b02991,#ab2494,#a62098,#a11b9b,#9c179e,#9613a1,#910ea3,#8b0aa5,#8606a6,#8004a8,#7801a8,#7201a8,#6c00a8,#6600a7,#6001a6,#5901a5,#5302a3,#4c02a1,#46039f,#3f049c,#38049a,#310597,#2a0593,#220690,#19068c,#0d0887)"></div><div class="cb" style="left:1855.70px;top:39.70px;width:72.80px;height:1458.20px;background:linear-gradient(180deg,#f0f921,#f2f227,#f5eb27,#f7e425,#f9dd25,#fbd724,#fcd025,#fdca26,#fdc328,#febd2a,#feb72d,#fdb130,#fdab33,#fca537,#fb9f3a,#f99a3e,#f79342,#f68d45,#f48849,#f1834c,#ef7e50,#ed7953,#ea7457,#e76f5a,#e56a5d,#e26561,#de6164,#db5c68,#d8576b,#d5536f,#d14e72,#cd4a76,#c9447a,#c5407e,#c13b82,#bd3786,#b83289,#b42e8d,#b02991,#ab2494,#a62098,#a11b9b,#9c179e,#9613a1,#910ea3,#8b0aa5,#8606a6,#8004a8,#7801a8,#7201a8,#6c00a8,#6600a7,#6001a6,#5901a5,#5302a3,#4c02a1,#46039f,#3f049c,#38049a,#310597,#2a0593,#220690,#19068c,#0d0887)"></div><svg width="2100" height="1614" viewBox="0 0 2100 1614"><path d="M305.60 356.80V39.60" stroke="#000" stroke-width="6.57" stroke-dasharray="24.3 10.5" fill="none"/><path d="M369.35 356.80V39.60" stroke="#000" stroke-width="6.57" stroke-dasharray="6.57 10.83" fill="none"/><path d="M622.55 356.80V39.60" stroke="#000" stroke-width="6.57" stroke-dasharray="6.57 10.83" fill="none"/><path d="M686.15 356.80V39.60" stroke="#000" stroke-width="6.57" stroke-dasharray="24.3 10.5" fill="none"/><rect x="178.75" y="39.60" width="634.39" height="317.20" fill="none" stroke="#000" stroke-width="3.40"/><path d="M163.65 118.90H178.75" stroke="#000" stroke-width="3.5"/><text x="148.4" y="132.20" text-anchor="end">45</text><path d="M163.65 198.20H178.75" stroke="#000" stroke-width="3.5"/><text x="148.4" y="211.50" text-anchor="end">0</text><path d="M163.65 277.50H178.75" stroke="#000" stroke-width="3.5"/><text x="148.4" y="290.80" text-anchor="end">−45</text><path d="M337.35 356.80V371.90" stroke="#000" stroke-width="3.5"/><path d="M495.95 356.80V371.90" stroke="#000" stroke-width="3.5"/><path d="M654.55 356.80V371.90" stroke="#000" stroke-width="3.5"/><text transform="translate(211.75 346.30) rotate(-90)" fill="#fff">Truth</text><text transform="translate(44.2 198.20) rotate(-90)" text-anchor="middle">Latitude (<tspan dx="4.6" font-size="26.5" dy="-14">∘</tspan><tspan dx="-5.6" dy="14"> )</tspan></text><path d="M305.60 737.30V420.10" stroke="#000" stroke-width="6.57" stroke-dasharray="24.3 10.5" fill="none"/><path d="M369.35 737.30V420.10" stroke="#000" stroke-width="6.57" stroke-dasharray="6.57 10.83" fill="none"/><path d="M622.55 737.30V420.10" stroke="#000" stroke-width="6.57" stroke-dasharray="6.57 10.83" fill="none"/><path d="M686.15 737.30V420.10" stroke="#000" stroke-width="6.57" stroke-dasharray="24.3 10.5" fill="none"/><rect x="178.75" y="420.10" width="634.39" height="317.20" fill="none" stroke="#000" stroke-width="3.40"/><path d="M163.65 499.40H178.75" stroke="#000" stroke-width="3.5"/><text x="148.4" y="512.70" text-anchor="end">45</text><path d="M163.65 578.70H178.75" stroke="#000" stroke-width="3.5"/><text x="148.4" y="592.00" text-anchor="end">0</text><path d="M163.65 658.00H178.75" stroke="#000" stroke-width="3.5"/><text x="148.4" y="671.30" text-anchor="end">−45</text><path d="M337.35 737.30V752.40" stroke="#000" stroke-width="3.5"/><path d="M495.95 737.30V752.40" stroke="#000" stroke-width="3.5"/><path d="M654.55 737.30V752.40" stroke="#000" stroke-width="3.5"/><text transform="translate(211.75 726.80) rotate(-90)" fill="#fff">Observable</text><text transform="translate(44.2 578.70) rotate(-90)" text-anchor="middle">Latitude (<tspan dx="4.6" font-size="26.5" dy="-14">∘</tspan><tspan dx="-5.6" dy="14"> )</tspan></text><path d="M305.60 1117.90V800.70" stroke="#000" stroke-width="6.57" stroke-dasharray="24.3 10.5" fill="none"/><path d="M369.35 1117.90V800.70" stroke="#000" stroke-width="6.57" stroke-dasharray="6.57 10.83" fill="none"/><path d="M622.55 1117.90V800.70" stroke="#000" stroke-width="6.57" stroke-dasharray="6.57 10.83" fill="none"/><path d="M686.15 1117.90V800.70" stroke="#000" stroke-width="6.57" stroke-dasharray="24.3 10.5" fill="none"/><rect x="178.75" y="800.70" width="634.39" height="317.20" fill="none" stroke="#000" stroke-width="3.40"/><path d="M163.65 880.00H178.75" stroke="#000" stroke-width="3.5"/><text x="148.4" y="893.30" text-anchor="end">45</text><path d="M163.65 959.30H178.75" stroke="#000" stroke-width="3.5"/><text x="148.4" y="972.60" text-anchor="end">0</text><path d="M163.65 1038.60H178.75" stroke="#000" stroke-width="3.5"/><text x="148.4" y="1051.90" text-anchor="end">−45</text><path d="M337.35 1117.90V1133.00" stroke="#000" stroke-width="3.5"/><path d="M495.95 1117.90V1133.00" stroke="#000" stroke-width="3.5"/><path d="M654.55 1117.90V1133.00" stroke="#000" stroke-width="3.5"/><text transform="translate(211.75 1107.40) rotate(-90)" fill="#fff">Best-case</text><text transform="translate(251.25 1107.40) rotate(-90)" fill="#fff">Precision</text><text transform="translate(44.2 959.30) rotate(-90)" text-anchor="middle">Latitude (<tspan dx="4.6" font-size="26.5" dy="-14">∘</tspan><tspan dx="-5.6" dy="14"> )</tspan></text><path d="M305.60 1498.60V1181.40" stroke="#000" stroke-width="6.57" stroke-dasharray="24.3 10.5" fill="none"/><path d="M369.35 1498.60V1181.40" stroke="#000" stroke-width="6.57" stroke-dasharray="6.57 10.83" fill="none"/><path d="M622.55 1498.60V1181.40" stroke="#000" stroke-width="6.57" stroke-dasharray="6.57 10.83" fill="none"/><path d="M686.15 1498.60V1181.40" stroke="#000" stroke-width="6.57" stroke-dasharray="24.3 10.5" fill="none"/><rect x="178.75" y="1181.40" width="634.39" height="317.20" fill="none" stroke="#000" stroke-width="3.40"/><path d="M163.65 1260.70H178.75" stroke="#000" stroke-width="3.5"/><text x="148.4" y="1274.00" text-anchor="end">45</text><path d="M163.65 1340.00H178.75" stroke="#000" stroke-width="3.5"/><text x="148.4" y="1353.30" text-anchor="end">0</text><path d="M163.65 1419.30H178.75" stroke="#000" stroke-width="3.5"/><text x="148.4" y="1432.60" text-anchor="end">−45</text><path d="M337.35 1498.60V1513.70" stroke="#000" stroke-width="3.5"/><text x="337.35" y="1555.8" text-anchor="middle">−90</text><path d="M495.95 1498.60V1513.70" stroke="#000" stroke-width="3.5"/><text x="495.95" y="1555.8" text-anchor="middle">0</text><path d="M654.55 1498.60V1513.70" stroke="#000" stroke-width="3.5"/><text x="654.55" y="1555.8" text-anchor="middle">90</text><text transform="translate(211.75 1488.10) rotate(-90)" fill="#fff">Extreme</text><text transform="translate(251.25 1488.10) rotate(-90)" fill="#fff">Precision</text><text transform="translate(44.2 1340.00) rotate(-90)" text-anchor="middle">Latitude (<tspan dx="4.6" font-size="26.5" dy="-14">∘</tspan><tspan dx="-5.6" dy="14"> )</tspan></text><text x="496.45" y="1606.7" text-anchor="middle">Longitude (<tspan dx="4.6" font-size="26.5" dy="-14">∘</tspan><tspan dx="-5.6" dy="14"> )</tspan></text><path d="M1325.04 356.80V39.60" stroke="#000" stroke-width="6.57" stroke-dasharray="24.3 10.5" fill="none"/><path d="M1351.50 356.80V39.60" stroke="#000" stroke-width="6.57" stroke-dasharray="6.57 10.83" fill="none"/><path d="M1642.00 356.80V39.60" stroke="#000" stroke-width="6.57" stroke-dasharray="6.57 10.83" fill="none"/><path d="M1668.60 356.80V39.60" stroke="#000" stroke-width="6.57" stroke-dasharray="24.3 10.5" fill="none"/><rect x="1179.60" y="39.60" width="634.39" height="317.20" fill="none" stroke="#000" stroke-width="3.40"/><path d="M1164.50 118.90H1179.60" stroke="#000" stroke-width="3.5"/><path d="M1164.50 198.20H1179.60" stroke="#000" stroke-width="3.5"/><path d="M1164.50 277.50H1179.60" stroke="#000" stroke-width="3.5"/><path d="M1338.20 356.80V371.90" stroke="#000" stroke-width="3.5"/><path d="M1496.80 356.80V371.90" stroke="#000" stroke-width="3.5"/><path d="M1655.40 356.80V371.90" stroke="#000" stroke-width="3.5"/><text transform="translate(1212.60 346.30) rotate(-90)" fill="#fff">Truth</text><path d="M1325.04 737.30V420.10" stroke="#000" stroke-width="6.57" stroke-dasharray="24.3 10.5" fill="none"/><path d="M1351.50 737.30V420.10" stroke="#000" stroke-width="6.57" stroke-dasharray="6.57 10.83" fill="none"/><path d="M1642.00 737.30V420.10" stroke="#000" stroke-width="6.57" stroke-dasharray="6.57 10.83" fill="none"/><path d="M1668.60 737.30V420.10" stroke="#000" stroke-width="6.57" stroke-dasharray="24.3 10.5" fill="none"/><rect x="1179.60" y="420.10" width="634.39" height="317.20" fill="none" stroke="#000" stroke-width="3.40"/><path d="M1164.50 499.40H1179.60" stroke="#000" stroke-width="3.5"/><path d="M1164.50 578.70H1179.60" stroke="#000" stroke-width="3.5"/><path d="M1164.50 658.00H1179.60" stroke="#000" stroke-width="3.5"/><path d="M1338.20 737.30V752.40" stroke="#000" stroke-width="3.5"/><path d="M1496.80 737.30V752.40" stroke="#000" stroke-width="3.5"/><path d="M1655.40 737.30V752.40" stroke="#000" stroke-width="3.5"/><text transform="translate(1212.60 726.80) rotate(-90)" fill="#fff">Observable</text><path d="M1325.04 1117.90V800.70" stroke="#000" stroke-width="6.57" stroke-dasharray="24.3 10.5" fill="none"/><path d="M1351.50 1117.90V800.70" stroke="#000" stroke-width="6.57" stroke-dasharray="6.57 10.83" fill="none"/><path d="M1642.00 1117.90V800.70" stroke="#000" stroke-width="6.57" stroke-dasharray="6.57 10.83" fill="none"/><path d="M1668.60 1117.90V800.70" stroke="#000" stroke-width="6.57" stroke-dasharray="24.3 10.5" fill="none"/><rect x="1179.60" y="800.70" width="634.39" height="317.20" fill="none" stroke="#000" stroke-width="3.40"/><path d="M1164.50 880.00H1179.60" stroke="#000" stroke-width="3.5"/><path d="M1164.50 959.30H1179.60" stroke="#000" stroke-width="3.5"/><path d="M1164.50 1038.60H1179.60" stroke="#000" stroke-width="3.5"/><path d="M1338.20 1117.90V1133.00" stroke="#000" stroke-width="3.5"/><path d="M1496.80 1117.90V1133.00" stroke="#000" stroke-width="3.5"/><path d="M1655.40 1117.90V1133.00" stroke="#000" stroke-width="3.5"/><text transform="translate(1212.60 1107.40) rotate(-90)" fill="#fff">Best-case</text><text transform="translate(1252.10 1107.40) rotate(-90)" fill="#fff">Precision</text><path d="M1325.04 1498.60V1181.40" stroke="#000" stroke-width="6.57" stroke-dasharray="24.3 10.5" fill="none"/><path d="M1351.50 1498.60V1181.40" stroke="#000" stroke-width="6.57" stroke-dasharray="6.57 10.83" fill="none"/><path d="M1642.00 1498.60V1181.40" stroke="#000" stroke-width="6.57" stroke-dasharray="6.57 10.83" fill="none"/><path d="M1668.60 1498.60V1181.40" stroke="#000" stroke-width="6.57" stroke-dasharray="24.3 10.5" fill="none"/><rect x="1179.60" y="1181.40" width="634.39" height="317.20" fill="none" stroke="#000" stroke-width="3.40"/><path d="M1164.50 1260.70H1179.60" stroke="#000" stroke-width="3.5"/><path d="M1164.50 1340.00H1179.60" stroke="#000" stroke-width="3.5"/><path d="M1164.50 1419.30H1179.60" stroke="#000" stroke-width="3.5"/><path d="M1338.20 1498.60V1513.70" stroke="#000" stroke-width="3.5"/><text x="1338.20" y="1555.8" text-anchor="middle">−90</text><path d="M1496.80 1498.60V1513.70" stroke="#000" stroke-width="3.5"/><text x="1496.80" y="1555.8" text-anchor="middle">0</text><path d="M1655.40 1498.60V1513.70" stroke="#000" stroke-width="3.5"/><text x="1655.40" y="1555.8" text-anchor="middle">90</text><text transform="translate(1212.60 1488.10) rotate(-90)" fill="#fff">Extreme</text><text transform="translate(1252.10 1488.10) rotate(-90)" fill="#fff">Precision</text><text x="1497.30" y="1606.7" text-anchor="middle">Longitude (<tspan dx="4.6" font-size="26.5" dy="-14">∘</tspan><tspan dx="-5.6" dy="14"> )</tspan></text><text x="496.75" y="26.8" text-anchor="middle">WASP-18b</text><text x="1496.8" y="26.8" text-anchor="middle">HD 209458b</text><rect x="854.80" y="39.70" width="72.80" height="1458.20" fill="none" stroke="#000" stroke-width="3.40"/><path d="M927.60 1497.90H942.80" stroke="#000" stroke-width="3.5"/><text x="958.00" y="1511.20">0</text><path d="M927.60 1323.26H942.80" stroke="#000" stroke-width="3.5"/><text x="958.00" y="1336.56">200</text><path d="M927.60 1148.62H942.80" stroke="#000" stroke-width="3.5"/><text x="958.00" y="1161.92">400</text><path d="M927.60 973.99H942.80" stroke="#000" stroke-width="3.5"/><text x="958.00" y="987.29">600</text><path d="M927.60 799.35H942.80" stroke="#000" stroke-width="3.5"/><text x="958.00" y="812.65">800</text><path d="M927.60 624.71H942.80" stroke="#000" stroke-width="3.5"/><text x="958.00" y="638.01">1000</text><path d="M927.60 450.08H942.80" stroke="#000" stroke-width="3.5"/><text x="958.00" y="463.38">1200</text><path d="M927.60 275.44H942.80" stroke="#000" stroke-width="3.5"/><text x="958.00" y="288.74">1400</text><path d="M927.60 100.80H942.80" stroke="#000" stroke-width="3.5"/><text x="958.00" y="114.10">1600</text><text transform="translate(1090.70 769.80) rotate(-90)" text-anchor="middle">Star-normalized Intensity (ppm)</text><rect x="1855.70" y="39.70" width="72.80" height="1458.20" fill="none" stroke="#000" stroke-width="3.40"/><path d="M1928.50 1497.90H1943.70" stroke="#000" stroke-width="3.5"/><text x="1958.90" y="1511.20">0</text><path d="M1928.50 1214.50H1943.70" stroke="#000" stroke-width="3.5"/><text x="1958.90" y="1227.80">500</text><path d="M1928.50 931.10H1943.70" stroke="#000" stroke-width="3.5"/><text x="1958.90" y="944.40">1000</text><path d="M1928.50 647.70H1943.70" stroke="#000" stroke-width="3.5"/><text x="1958.90" y="661.00">1500</text><path d="M1928.50 364.30H1943.70" stroke="#000" stroke-width="3.5"/><text x="1958.90" y="377.60">2000</text><path d="M1928.50 80.90H1943.70" stroke="#000" stroke-width="3.5"/><text x="1958.90" y="94.20">2500</text><text transform="translate(2091.60 769.80) rotate(-90)" text-anchor="middle">Star-normalized Intensity (ppm)</text></svg></div></body></html>
